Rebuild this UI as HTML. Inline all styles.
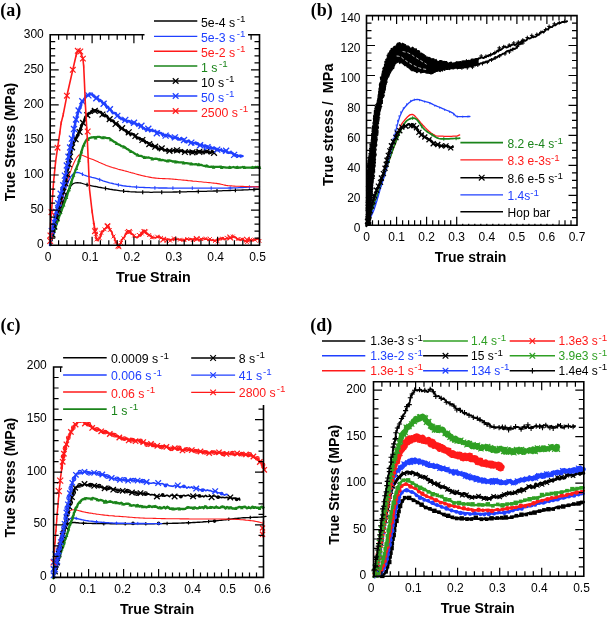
<!DOCTYPE html>
<html><head><meta charset="utf-8"><style>html,body{margin:0;padding:0;background:#fff;}svg{display:block;}</style></head><body>
<svg width="608" height="619" viewBox="0 0 608 619">
<rect width="608" height="619" fill="#fff"/>
<path d="M50.2 245.2 L50.4 244.4 L50.7 243.3 L51.1 242.1 L51.5 240.7 L51.9 239.2 L52.4 237.6 L52.8 236 L53.3 234.3 L53.8 232.6 L54.3 230.9 L54.8 229.2 L55.2 227.7 L55.6 226.2 L56 224.8 L56.5 223.3 L56.9 221.8 L57.3 220.3 L57.7 218.7 L58.1 217.2 L58.6 215.7 L59 214.2 L59.4 212.8 L59.8 211.4 L60.2 210 L60.7 208.7 L61.2 207.1 L61.8 205.5 L62.3 203.9 L62.9 202.4 L63.5 201 L64 199.6 L64.6 198.3 L65.1 197 L65.6 195.8 L66.1 194.7 L67 192.7 L67.9 190.9 L68.7 189.4 L69.5 188.1 L70.3 187 L71.4 185.4 L72.4 184.3 L73.6 183.5 L75.4 182.9 L77.4 182.7 L79.5 182.8 L81 183 L82.5 183.5 L84.1 184 L85.8 184.5 L87.1 184.8 L88.5 185.1 L89.9 185.4 L91.7 185.8 L94.2 186.3 L95.3 186.5 L96.5 186.7 L97.8 187 L99.3 187.3 L100.7 187.5 L102.3 187.8 L103.9 188.1 L105.5 188.4 L107.1 188.7 L108.7 189 L110.3 189.3 L111.9 189.5 L113.4 189.8 L114.9 190 L116.3 190.2 L117.8 190.4 L119.2 190.6 L120.7 190.8 L122.1 190.9 L123.6 191.1 L125 191.3 L126.6 191.4 L128.1 191.5 L129.7 191.7 L131.4 191.8 L133.1 191.9 L134.4 191.9 L135.8 192 L137.1 192.1 L138.5 192.1 L139.9 192.1 L141.3 192.2 L142.7 192.2 L144.2 192.2 L145.7 192.2 L147.2 192.2 L148.8 192.2 L150.4 192.3 L152 192.3 L153.7 192.2 L155.4 192.2 L157.2 192.2 L159 192.2 L160.3 192.2 L161.7 192.2 L163 192.2 L164.4 192.2 L165.9 192.2 L167.4 192.1 L168.9 192.1 L170.4 192.1 L171.9 192.1 L173.5 192 L175 192 L176.6 192 L178.2 191.9 L179.8 191.9 L181.4 191.9 L183 191.8 L184.6 191.8 L186.1 191.8 L187.7 191.7 L189.3 191.7 L190.8 191.7 L192.3 191.6 L193.8 191.6 L195.3 191.6 L196.7 191.5 L198.3 191.5 L199.9 191.4 L201.5 191.4 L203.1 191.4 L204.7 191.3 L206.3 191.3 L207.8 191.2 L209.4 191.2 L210.9 191.1 L212.5 191.1 L214 191 L215.5 191 L217 190.9 L218.5 190.9 L220 190.8 L221.5 190.8 L223 190.7 L224.4 190.7 L225.9 190.6 L227.3 190.6 L228.8 190.5 L230.2 190.5 L231.9 190.4 L233.6 190.3 L235.4 190.3 L237.2 190.2 L239 190.1 L240.8 190.1 L242.6 190 L244.3 189.9 L246.1 189.8 L247.8 189.8 L249.4 189.7 L251 189.6 L252.6 189.6 L254 189.5 L255.3 189.5 L256.6 189.4 L257.7 189.4 L258.7 189.3 L259.5 189.3" fill="none" stroke="#000000" stroke-width="1.3" stroke-linejoin="round" stroke-linecap="round"/>
<path d="M56.9 219.8L56.9 223.8" stroke="#000000" stroke-width="1.2"/>
<path d="M62.3 201.9L62.3 205.9" stroke="#000000" stroke-width="1.2"/>
<path d="M70.3 185L70.3 189" stroke="#000000" stroke-width="1.2"/>
<path d="M87.1 182.8L87.1 186.8" stroke="#000000" stroke-width="1.2"/>
<path d="M105.5 186.4L105.5 190.4" stroke="#000000" stroke-width="1.2"/>
<path d="M123.6 189.1L123.6 193.1" stroke="#000000" stroke-width="1.2"/>
<path d="M142.7 190.2L142.7 194.2" stroke="#000000" stroke-width="1.2"/>
<path d="M161.7 190.2L161.7 194.2" stroke="#000000" stroke-width="1.2"/>
<path d="M179.8 189.9L179.8 193.9" stroke="#000000" stroke-width="1.2"/>
<path d="M198.3 189.5L198.3 193.5" stroke="#000000" stroke-width="1.2"/>
<path d="M217 188.9L217 192.9" stroke="#000000" stroke-width="1.2"/>
<path d="M235.4 188.3L235.4 192.3" stroke="#000000" stroke-width="1.2"/>
<path d="M254 187.5L254 191.5" stroke="#000000" stroke-width="1.2"/>
<path d="M50.2 245.2 L50.4 244.3 L50.7 243.2 L51.1 242 L51.5 240.6 L51.9 239 L52.4 237.4 L52.8 235.7 L53.3 233.9 L53.8 232.1 L54.3 230.4 L54.8 228.6 L55.2 227 L55.6 225.5 L56 224.1 L56.4 222.6 L56.7 221.1 L57.1 219.6 L57.5 218 L57.9 216.5 L58.3 214.9 L58.7 213.4 L59.1 211.8 L59.5 210.3 L59.9 208.8 L60.3 207.4 L60.7 205.9 L61.1 204.4 L61.5 202.8 L61.9 201.2 L62.4 199.6 L62.8 198.1 L63.2 196.5 L63.6 195 L64 193.5 L64.5 192.1 L64.9 190.7 L65.3 189.4 L65.7 188.1 L66.1 187 L66.9 185 L67.6 183.1 L68.3 181.5 L69.1 180 L69.8 178.7 L70.5 177.5 L71.1 176.4 L72.6 174.5 L74 173.3 L75.3 172.6 L77.3 172.3 L79.5 172.9 L80.9 173.5 L82.4 174.2 L84 175 L85.8 175.7 L87.2 176.2 L88.6 176.5 L90.2 176.8 L92 177.3 L94.2 177.8 L95.4 178.2 L96.8 178.7 L98.2 179.2 L99.7 179.7 L101.3 180.2 L103 180.8 L104.6 181.3 L106.3 181.8 L108 182.3 L109.6 182.8 L111.1 183.1 L112.6 183.5 L114 183.9 L115.5 184.2 L116.9 184.5 L118.4 184.9 L120 185.2 L121.6 185.5 L123.4 185.8 L125.2 186 L127.2 186.3 L128.5 186.4 L129.8 186.5 L131.1 186.7 L132.4 186.8 L133.8 186.9 L135.2 187 L136.6 187.1 L138 187.2 L139.5 187.3 L141 187.4 L142.6 187.4 L144.2 187.5 L145.9 187.6 L147.6 187.6 L149.3 187.7 L151.1 187.8 L152.9 187.8 L154.9 187.9 L156.2 187.9 L157.5 187.9 L158.9 188 L160.4 188 L161.8 188 L163.4 188 L164.9 188 L166.5 188 L168.1 188.1 L169.7 188.1 L171.3 188.1 L172.9 188.1 L174.6 188.1 L176.2 188.1 L177.9 188.1 L179.6 188.1 L181.2 188.1 L182.8 188.1 L184.5 188.1 L186.1 188.1 L187.7 188.1 L189.3 188.1 L190.8 188.1 L192.3 188.1 L193.8 188.1 L195.3 188.1 L196.7 188.1 L198.4 188.1 L200.1 188.1 L201.7 188.1 L203.4 188.1 L205 188.1 L206.6 188.1 L208.1 188.1 L209.7 188.1 L211.2 188.1 L212.7 188.2 L214.2 188.2 L215.7 188.2 L217.2 188.2 L218.7 188.2 L220.1 188.1 L221.6 188.1 L223 188.1 L224.5 188.1 L225.9 188.1 L227.3 188.1 L228.8 188 L230.2 188 L231.9 188 L233.6 187.9 L235.4 187.8 L237.2 187.8 L239 187.7 L240.8 187.6 L242.6 187.5 L244.3 187.4 L246.1 187.3 L247.8 187.2 L249.4 187.1 L251 187 L252.6 186.9 L254 186.9 L255.3 186.8 L256.6 186.7 L257.7 186.6 L258.7 186.6 L259.5 186.5" fill="none" stroke="#2040ff" stroke-width="1.3" stroke-linejoin="round" stroke-linecap="round"/>
<path d="M57.5 216.2L57.5 219.8" stroke="#2040ff" stroke-width="1.0"/>
<path d="M62.4 197.8L62.4 201.4" stroke="#2040ff" stroke-width="1.0"/>
<path d="M68.3 179.7L68.3 183.3" stroke="#2040ff" stroke-width="1.0"/>
<path d="M82.4 172.4L82.4 176" stroke="#2040ff" stroke-width="1.0"/>
<path d="M99.7 177.9L99.7 181.5" stroke="#2040ff" stroke-width="1.0"/>
<path d="M118.4 183.1L118.4 186.7" stroke="#2040ff" stroke-width="1.0"/>
<path d="M136.6 185.3L136.6 188.9" stroke="#2040ff" stroke-width="1.0"/>
<path d="M154.9 186.1L154.9 189.7" stroke="#2040ff" stroke-width="1.0"/>
<path d="M172.9 186.3L172.9 189.9" stroke="#2040ff" stroke-width="1.0"/>
<path d="M192.3 186.3L192.3 189.9" stroke="#2040ff" stroke-width="1.0"/>
<path d="M211.2 186.3L211.2 189.9" stroke="#2040ff" stroke-width="1.0"/>
<path d="M230.2 186.2L230.2 189.8" stroke="#2040ff" stroke-width="1.0"/>
<path d="M249.4 185.3L249.4 188.9" stroke="#2040ff" stroke-width="1.0"/>
<path d="M50.2 245.2 L50.4 244.4 L50.7 243.4 L51 242.2 L51.4 240.9 L51.7 239.4 L52.2 237.9 L52.6 236.3 L53 234.6 L53.5 232.9 L53.9 231.2 L54.4 229.5 L54.8 227.9 L55.2 226.3 L55.6 224.8 L56 223.3 L56.3 221.8 L56.7 220.3 L57.1 218.7 L57.5 217.2 L57.9 215.6 L58.3 214 L58.6 212.4 L59 210.9 L59.4 209.3 L59.8 207.7 L60.2 206.1 L60.7 204.5 L61.1 203 L61.5 201.5 L61.9 200 L62.3 198.4 L62.7 196.9 L63.1 195.3 L63.5 193.8 L64 192.2 L64.4 190.7 L64.8 189.2 L65.2 187.7 L65.7 186.2 L66.1 184.8 L66.5 183.4 L66.9 182 L67.5 180.4 L68 178.7 L68.6 177.1 L69.1 175.5 L69.7 173.9 L70.2 172.4 L70.8 170.9 L71.3 169.4 L71.8 168.1 L72.3 166.8 L72.8 165.6 L73.2 164.5 L74.2 162.2 L75.1 160.4 L75.9 159 L76.7 157.8 L77.4 156.8 L78.8 155.1 L80.3 154.7 L81.8 155 L83.5 155.8 L85.8 156.8 L87 157.3 L88.3 157.8 L89.8 158.4 L91.3 159 L92.9 159.6 L94.6 160.3 L96.2 161 L97.6 161.6 L98.9 162.2 L100.3 162.8 L101.8 163.4 L103.2 164.1 L104.8 164.7 L106.3 165.4 L108 166 L109.6 166.6 L111 167 L112.4 167.5 L113.8 167.9 L115.3 168.3 L116.8 168.7 L118.3 169.2 L119.8 169.6 L121.4 170 L122.9 170.4 L124.4 170.8 L125.8 171.1 L127.2 171.5 L128.9 172 L130.5 172.4 L132.1 172.9 L133.7 173.3 L135.3 173.8 L136.8 174.2 L138.3 174.6 L139.8 175 L141.3 175.4 L142.7 175.7 L144.4 176.1 L146.1 176.5 L147.6 176.8 L149.2 177.1 L150.7 177.4 L152.3 177.7 L153.9 177.9 L155.7 178.1 L157.1 178.3 L158.5 178.4 L160 178.5 L161.4 178.5 L162.9 178.6 L164.5 178.6 L166.1 178.7 L167.8 178.8 L169.7 178.9 L171.6 179 L172.9 179.1 L174.2 179.3 L175.7 179.4 L177.1 179.5 L178.6 179.7 L180.2 179.8 L181.8 180 L183.4 180.1 L185 180.3 L186.6 180.4 L188.2 180.6 L189.8 180.7 L191.4 180.9 L192.9 181.1 L194.4 181.2 L195.9 181.3 L197.5 181.5 L199.2 181.7 L200.9 181.8 L202.5 182 L204.2 182.2 L205.9 182.3 L207.5 182.5 L209.1 182.6 L210.6 182.8 L212.2 183 L213.6 183.1 L215 183.3 L216.4 183.4 L217.6 183.6 L219.5 183.9 L221 184.2 L222.3 184.5 L223.4 184.8 L224.7 185.1 L226.1 185.4 L227.9 185.6 L230.2 185.8 L231.4 185.9 L232.7 186 L234.2 186.1 L235.8 186.2 L237.5 186.2 L239.2 186.3 L241 186.4 L242.9 186.4 L244.7 186.5 L246.6 186.6 L248.4 186.6 L250.1 186.7 L251.8 186.7 L253.5 186.8 L255 186.8 L256.3 186.9 L257.6 186.9 L258.6 186.9 L259.5 187" fill="none" stroke="#ff1a1a" stroke-width="1.1" stroke-linejoin="round" stroke-linecap="round"/>
<path d="M50.2 244.9 L50.5 244 L50.7 243.1 L50.9 241.8 L51.5 239.8 L52.2 237.2 L52.6 236.6 L52.9 234.9 L53.5 234.2 L53.9 232.3 L54.5 230.6 L55 229.2 L55.3 227.5 L55.9 226.4 L56.4 224.6 L57.1 222.9 L57.6 221.1 L58 219.7 L58.6 218.5 L59.1 217 L59.7 215.2 L60.4 213.9 L60.8 212.3 L61.5 211 L62.1 209 L62.7 207.4 L63.2 206.4 L63.7 204.7 L64.2 203.3 L64.9 201.8 L65.5 200 L66 198.7 L66.5 197.1 L67.1 195.9 L67.5 194.1 L67.9 192.6 L68.5 191.4 L69.1 189.4 L69.4 188.3 L69.8 186.8 L70.2 185.3 L70.8 184 L71.3 181.9 L71.8 181 L72.2 179.2 L72.7 178.2 L73.2 176.8 L73.6 175 L74.1 173.9 L74.8 172.1 L75.2 170.9 L75.7 169.7 L76.4 168.1 L77 166.5 L77.8 164.6 L78.3 163.4 L78.7 162 L79.1 160.1 L79.7 159 L80.1 157.4 L80.5 155.3 L80.9 153.8 L81.4 151.6 L82 150 L82.5 148.3 L82.9 146.9 L83.5 145.6 L83.9 144.8 L84.6 143.2 L85.7 141.1 L86.7 139.5 L87.9 139.3 L89.3 138.3 L91.1 137.5 L92.5 137.4 L94.1 137.1 L95.6 137.6 L97.5 136.9 L99.3 136.8 L101.2 137.6 L103 137.5 L104.6 137.3 L106.1 137.8 L107.6 138.1 L109.3 138.2 L110.8 139.5 L112 140.2 L113.1 141.1 L114.1 141.9 L115.5 142.4 L116.7 143.3 L118.2 144.4 L119.8 144.9 L121.3 146.1 L122.7 146.3 L123.9 146.8 L125.1 147.4 L126.8 148.9 L128.1 149.4 L129.4 150.5 L130.9 151.3 L132.2 152 L133.4 152.5 L134.5 153.5 L135.9 154.3 L137.5 154.7 L138.9 155.8 L140.7 155.8 L141.8 156.2 L143.3 157 L144.5 157.3 L146.1 157.5 L147.5 157.7 L148.9 157.5 L150.7 158.2 L152.3 158.7 L153.9 158.9 L155.8 158.7 L157 158.9 L158.4 159.4 L159.9 159.5 L161.4 160.1 L163 160 L164.6 160.5 L166.2 160.8 L167.8 160.7 L169.4 160.5 L171 160.8 L172.5 161.5 L174.1 161.5 L175.8 161.7 L177.3 161.9 L178.9 162.3 L180.3 162.4 L181.8 162.3 L183.5 162.7 L185 163.1 L186.6 163.1 L188 163.3 L189.6 163.6 L191.1 163.7 L192.7 164.2 L194.3 164.4 L196 164.1 L197.3 164.8 L198.8 164.4 L200 164.9 L201.3 164.9 L202.6 165.5 L204.1 165.9 L205.3 166 L206.9 165.7 L208.4 166.6 L209.8 166.8 L211.6 166.6 L213.6 167 L215.4 166.9 L217.6 166.9 L218.8 166.9 L220.3 166.7 L221.7 167.1 L223 167.1 L224.8 167.3 L226.3 167.7 L228.2 167.7 L229.8 167.1 L231.5 167.5 L233.4 167 L235.3 167.7 L237.2 167.1 L238.9 167.7 L240.9 167.5 L242.6 167 L244.5 167.3 L246.1 167.7 L247.9 167.6 L249.4 167.6 L251 167.6 L252.6 167.2 L254.1 167.7 L255.3 167 L256.6 167.1 L257.6 167 L258.5 167.1 L259.5 167.2" fill="none" stroke="#1a841a" stroke-width="2.3" stroke-linejoin="round" stroke-linecap="round"/>
<path d="M52.9 233.1L54.7 236.7L51.1 236.7Z" fill="#1a841a"/>
<path d="M55.3 225.7L57.1 229.3L53.5 229.3Z" fill="#1a841a"/>
<path d="M58 217.9L59.8 221.5L56.2 221.5Z" fill="#1a841a"/>
<path d="M60.8 210.5L62.6 214.1L59 214.1Z" fill="#1a841a"/>
<path d="M63.7 202.9L65.5 206.5L61.9 206.5Z" fill="#1a841a"/>
<path d="M66.5 195.3L68.3 198.9L64.7 198.9Z" fill="#1a841a"/>
<path d="M69.1 187.6L70.9 191.2L67.3 191.2Z" fill="#1a841a"/>
<path d="M71.3 180.1L73.1 183.7L69.5 183.7Z" fill="#1a841a"/>
<path d="M73.6 173.2L75.4 176.8L71.8 176.8Z" fill="#1a841a"/>
<path d="M76.4 166.3L78.2 169.9L74.6 169.9Z" fill="#1a841a"/>
<path d="M79.1 158.3L80.9 161.9L77.3 161.9Z" fill="#1a841a"/>
<path d="M81.4 149.8L83.2 153.4L79.6 153.4Z" fill="#1a841a"/>
<path d="M83.9 143L85.7 146.6L82.1 146.6Z" fill="#1a841a"/>
<path d="M87.9 137.5L89.7 141.1L86.1 141.1Z" fill="#1a841a"/>
<path d="M95.6 135.8L97.4 139.4L93.8 139.4Z" fill="#1a841a"/>
<path d="M103 135.7L104.8 139.3L101.2 139.3Z" fill="#1a841a"/>
<path d="M110.8 137.7L112.6 141.3L109 141.3Z" fill="#1a841a"/>
<path d="M116.7 141.5L118.5 145.1L114.9 145.1Z" fill="#1a841a"/>
<path d="M123.9 145L125.7 148.6L122.1 148.6Z" fill="#1a841a"/>
<path d="M130.9 149.5L132.7 153.1L129.1 153.1Z" fill="#1a841a"/>
<path d="M137.5 152.9L139.3 156.5L135.7 156.5Z" fill="#1a841a"/>
<path d="M144.5 155.5L146.3 159.1L142.7 159.1Z" fill="#1a841a"/>
<path d="M152.3 156.9L154.1 160.5L150.5 160.5Z" fill="#1a841a"/>
<path d="M159.9 157.7L161.7 161.3L158.1 161.3Z" fill="#1a841a"/>
<path d="M167.8 158.9L169.6 162.5L166 162.5Z" fill="#1a841a"/>
<path d="M175.8 159.9L177.6 163.5L174 163.5Z" fill="#1a841a"/>
<path d="M183.5 160.9L185.3 164.5L181.7 164.5Z" fill="#1a841a"/>
<path d="M191.1 161.9L192.9 165.5L189.3 165.5Z" fill="#1a841a"/>
<path d="M198.8 162.6L200.6 166.2L197 166.2Z" fill="#1a841a"/>
<path d="M206.9 163.9L208.7 167.5L205.1 167.5Z" fill="#1a841a"/>
<path d="M213.6 165.2L215.4 168.8L211.8 168.8Z" fill="#1a841a"/>
<path d="M221.7 165.3L223.5 168.9L219.9 168.9Z" fill="#1a841a"/>
<path d="M229.8 165.3L231.6 168.9L228 168.9Z" fill="#1a841a"/>
<path d="M237.2 165.3L239 168.9L235.4 168.9Z" fill="#1a841a"/>
<path d="M244.5 165.5L246.3 169.1L242.7 169.1Z" fill="#1a841a"/>
<path d="M252.6 165.4L254.4 169L250.8 169Z" fill="#1a841a"/>
<path d="M259.5 165.4L261.3 169L257.7 169Z" fill="#1a841a"/>
<path d="M50.4 244.8 L50.4 243.6 L50.5 242.1 L50.8 240.7 L51.4 240.2 L51.4 238.4 L52.2 235.9 L52.5 234.6 L52.7 233.5 L53.1 231 L53.7 230 L53.8 228.4 L54.3 226.6 L54.4 224.6 L54.6 222.7 L54.9 222.5 L55.4 219.8 L55.6 219.7 L56.5 217.8 L56.5 215.4 L56.9 214.2 L57.2 212.6 L57.6 212.1 L58.5 209.7 L58.4 208.9 L58.8 206.2 L59.1 204.8 L59.8 203.5 L60 201.9 L60.4 199.9 L60.8 198.6 L61.3 196.3 L61.9 195.1 L62.5 194.1 L63 192.8 L63.4 191.7 L63.6 189 L64.4 187.2 L64.6 186.6 L64.6 185.5 L65.5 183.5 L65.7 182.3 L65.7 180.2 L66.2 179.2 L66.7 177.7 L66.9 176.3 L67.2 174.3 L67.2 171.5 L67.5 170.6 L67.7 170.1 L68.3 168.3 L68.6 166.9 L68.8 164.2 L69.2 164.3 L69.4 162.2 L69.8 159.5 L70.1 158.3 L70 156.7 L70.7 155 L70.9 155 L71.1 152.3 L71.4 151.4 L71.8 149.9 L72.1 147.4 L72.2 146.5 L73.1 144.9 L73.6 142.8 L73.9 141.9 L74.9 141.3 L75.6 139.2 L76.2 138.3 L76.8 136.3 L77.6 135.1 L78.4 135.1 L78.5 132.5 L79.6 132 L80.1 129.1 L80.6 128.9 L81.2 126.8 L81.8 125.3 L83 122.9 L83.5 122.2 L84.1 121.1 L84.3 120.2 L85.3 117.1 L85.9 116.8 L87.3 115.1 L88.3 113.8 L89.8 113.4 L91 112.1 L93.1 110 L94.8 110.9 L96 110.2 L97 110.7 L98.7 111.6 L99.7 112 L101 112 L102.4 114.5 L104 115.6 L105.5 115.3 L107.1 116.2 L108.2 118.5 L109.7 119.1 L110.7 120.3 L112.1 120.6 L113.1 120.6 L114.4 122.5 L115.6 124 L116.6 123.8 L118.2 125.1 L119.2 126.5 L120.4 128.3 L122.1 128.2 L123.2 129.2 L124.5 130.2 L125.6 130.6 L127.1 132.9 L128.7 132.3 L130.3 134.6 L131.5 133.6 L132.7 134.2 L134.2 135 L135.4 136 L136.9 137.9 L138.3 137.7 L139.6 138.8 L141.1 139.3 L142.4 140 L144.3 140.5 L145.4 142.3 L146.9 142.2 L147.9 143 L149.3 144.1 L150.9 145.6 L152.4 144.6 L153.3 146.6 L155.2 146.7 L156.4 146.3 L157.7 148.7 L159.4 149 L160.8 148.2 L161.7 148.4 L163.6 149.8 L165.4 150.2 L166.7 150.5 L168.1 150.3 L169.5 150.9 L171.3 151.3 L173.4 150.3 L174.4 150.3 L176 151.4 L177 150.3 L178.5 151.4 L179.8 150.8 L181.4 150.5 L182.8 151.5 L184.9 152 L186.6 151.8 L188.2 151.4 L189.9 152.3 L190.9 151 L192.5 152.3 L194.1 151.5 L196 152.8 L197.4 151 L199.3 151.8 L201.3 151.4 L203.1 152.4 L204.7 151.3 L206.6 151.5 L208.1 151.4 L209.2 152.4 L210.6 152.8 L212 151.3 L212.9 151.7 L214 152.8" fill="none" stroke="#000000" stroke-width="2.5" stroke-linejoin="round" stroke-linecap="round"/>
<path d="M49.6 231.7L55.4 237.5M49.6 237.5L55.4 231.7" stroke="#000000" stroke-width="1.3" fill="none"/>
<path d="M51.4 223.7L57.2 229.5M51.4 229.5L57.2 223.7" stroke="#000000" stroke-width="1.3" fill="none"/>
<path d="M53.6 214.9L59.4 220.7M53.6 220.7L59.4 214.9" stroke="#000000" stroke-width="1.3" fill="none"/>
<path d="M55.6 206.8L61.4 212.6M55.6 212.6L61.4 206.8" stroke="#000000" stroke-width="1.3" fill="none"/>
<path d="M57.5 197L63.3 202.8M57.5 202.8L63.3 197" stroke="#000000" stroke-width="1.3" fill="none"/>
<path d="M60.5 188.8L66.3 194.6M60.5 194.6L66.3 188.8" stroke="#000000" stroke-width="1.3" fill="none"/>
<path d="M62.6 180.6L68.4 186.4M62.6 186.4L68.4 180.6" stroke="#000000" stroke-width="1.3" fill="none"/>
<path d="M64.3 171.4L70.1 177.2M64.3 177.2L70.1 171.4" stroke="#000000" stroke-width="1.3" fill="none"/>
<path d="M65.9 161.3L71.7 167.1M65.9 167.1L71.7 161.3" stroke="#000000" stroke-width="1.3" fill="none"/>
<path d="M67.1 153.8L72.9 159.6M67.1 159.6L72.9 153.8" stroke="#000000" stroke-width="1.3" fill="none"/>
<path d="M69.2 144.5L75 150.3M69.2 150.3L75 144.5" stroke="#000000" stroke-width="1.3" fill="none"/>
<path d="M72.7 136.3L78.5 142.1M72.7 142.1L78.5 136.3" stroke="#000000" stroke-width="1.3" fill="none"/>
<path d="M76.7 129.1L82.5 134.9M76.7 134.9L82.5 129.1" stroke="#000000" stroke-width="1.3" fill="none"/>
<path d="M80.1 120L85.9 125.8M80.1 125.8L85.9 120" stroke="#000000" stroke-width="1.3" fill="none"/>
<path d="M84.4 112.2L90.2 118M84.4 118L90.2 112.2" stroke="#000000" stroke-width="1.3" fill="none"/>
<path d="M91.9 108L97.7 113.8M91.9 113.8L97.7 108" stroke="#000000" stroke-width="1.3" fill="none"/>
<path d="M99.5 111.6L105.3 117.4M99.5 117.4L105.3 111.6" stroke="#000000" stroke-width="1.3" fill="none"/>
<path d="M106.8 116.2L112.6 122M106.8 122L112.6 116.2" stroke="#000000" stroke-width="1.3" fill="none"/>
<path d="M112.7 121.1L118.5 126.9M112.7 126.9L118.5 121.1" stroke="#000000" stroke-width="1.3" fill="none"/>
<path d="M119.2 125.3L125 131.1M119.2 131.1L125 125.3" stroke="#000000" stroke-width="1.3" fill="none"/>
<path d="M125.8 129.4L131.6 135.2M125.8 135.2L131.6 129.4" stroke="#000000" stroke-width="1.3" fill="none"/>
<path d="M132.5 133.1L138.3 138.9M132.5 138.9L138.3 133.1" stroke="#000000" stroke-width="1.3" fill="none"/>
<path d="M139.5 137.1L145.3 142.9M139.5 142.9L145.3 137.1" stroke="#000000" stroke-width="1.3" fill="none"/>
<path d="M146.4 141.2L152.2 147M146.4 147L152.2 141.2" stroke="#000000" stroke-width="1.3" fill="none"/>
<path d="M152.3 143.8L158.1 149.6M152.3 149.6L158.1 143.8" stroke="#000000" stroke-width="1.3" fill="none"/>
<path d="M158.8 145.5L164.6 151.3M158.8 151.3L164.6 145.5" stroke="#000000" stroke-width="1.3" fill="none"/>
<path d="M166.6 148L172.4 153.8M166.6 153.8L172.4 148" stroke="#000000" stroke-width="1.3" fill="none"/>
<path d="M174.1 147.4L179.9 153.2M174.1 153.2L179.9 147.4" stroke="#000000" stroke-width="1.3" fill="none"/>
<path d="M182 149.1L187.8 154.9M182 154.9L187.8 149.1" stroke="#000000" stroke-width="1.3" fill="none"/>
<path d="M189.6 149.4L195.4 155.2M189.6 155.2L195.4 149.4" stroke="#000000" stroke-width="1.3" fill="none"/>
<path d="M196.4 148.9L202.2 154.7M196.4 154.7L202.2 148.9" stroke="#000000" stroke-width="1.3" fill="none"/>
<path d="M203.7 148.6L209.5 154.4M203.7 154.4L209.5 148.6" stroke="#000000" stroke-width="1.3" fill="none"/>
<path d="M211.1 149.9L216.9 155.7M211.1 155.7L216.9 149.9" stroke="#000000" stroke-width="1.3" fill="none"/>
<path d="M50.8 238.8L50.8 242.6" stroke="#000000" stroke-width="1.0"/>
<path d="M52.2 234L52.2 237.8" stroke="#000000" stroke-width="1.0"/>
<path d="M53.1 229.1L53.1 232.9" stroke="#000000" stroke-width="1.0"/>
<path d="M54.3 224.7L54.3 228.5" stroke="#000000" stroke-width="1.0"/>
<path d="M54.6 220.8L54.6 224.6" stroke="#000000" stroke-width="1.0"/>
<path d="M55.4 217.9L55.4 221.7" stroke="#000000" stroke-width="1.0"/>
<path d="M56.5 213.5L56.5 217.3" stroke="#000000" stroke-width="1.0"/>
<path d="M57.6 210.2L57.6 214" stroke="#000000" stroke-width="1.0"/>
<path d="M58.4 207L58.4 210.8" stroke="#000000" stroke-width="1.0"/>
<path d="M59.1 202.9L59.1 206.7" stroke="#000000" stroke-width="1.0"/>
<path d="M60 200L60 203.8" stroke="#000000" stroke-width="1.0"/>
<path d="M60.8 196.7L60.8 200.5" stroke="#000000" stroke-width="1.0"/>
<path d="M61.9 193.2L61.9 197" stroke="#000000" stroke-width="1.0"/>
<path d="M63.4 189.8L63.4 193.6" stroke="#000000" stroke-width="1.0"/>
<path d="M64.4 185.3L64.4 189.1" stroke="#000000" stroke-width="1.0"/>
<path d="M65.5 181.6L65.5 185.4" stroke="#000000" stroke-width="1.0"/>
<path d="M65.7 178.3L65.7 182.1" stroke="#000000" stroke-width="1.0"/>
<path d="M66.9 174.4L66.9 178.2" stroke="#000000" stroke-width="1.0"/>
<path d="M67.2 169.6L67.2 173.4" stroke="#000000" stroke-width="1.0"/>
<path d="M68.3 166.4L68.3 170.2" stroke="#000000" stroke-width="1.0"/>
<path d="M68.8 162.3L68.8 166.1" stroke="#000000" stroke-width="1.0"/>
<path d="M69.8 157.6L69.8 161.4" stroke="#000000" stroke-width="1.0"/>
<path d="M70.7 153.1L70.7 156.9" stroke="#000000" stroke-width="1.0"/>
<path d="M71.4 149.5L71.4 153.3" stroke="#000000" stroke-width="1.0"/>
<path d="M72.1 145.5L72.1 149.3" stroke="#000000" stroke-width="1.0"/>
<path d="M73.6 140.9L73.6 144.7" stroke="#000000" stroke-width="1.0"/>
<path d="M75.6 137.3L75.6 141.1" stroke="#000000" stroke-width="1.0"/>
<path d="M76.8 134.4L76.8 138.2" stroke="#000000" stroke-width="1.0"/>
<path d="M78.5 130.6L78.5 134.4" stroke="#000000" stroke-width="1.0"/>
<path d="M80.1 127.2L80.1 131" stroke="#000000" stroke-width="1.0"/>
<path d="M81.8 123.4L81.8 127.2" stroke="#000000" stroke-width="1.0"/>
<path d="M83.5 120.3L83.5 124.1" stroke="#000000" stroke-width="1.0"/>
<path d="M85.3 115.2L85.3 119" stroke="#000000" stroke-width="1.0"/>
<path d="M88.3 111.9L88.3 115.7" stroke="#000000" stroke-width="1.0"/>
<path d="M91 110.2L91 114" stroke="#000000" stroke-width="1.0"/>
<path d="M94.8 109L94.8 112.8" stroke="#000000" stroke-width="1.0"/>
<path d="M98.7 109.7L98.7 113.5" stroke="#000000" stroke-width="1.0"/>
<path d="M102.4 112.6L102.4 116.4" stroke="#000000" stroke-width="1.0"/>
<path d="M105.5 113.4L105.5 117.2" stroke="#000000" stroke-width="1.0"/>
<path d="M108.2 116.6L108.2 120.4" stroke="#000000" stroke-width="1.0"/>
<path d="M110.7 118.4L110.7 122.2" stroke="#000000" stroke-width="1.0"/>
<path d="M114.4 120.6L114.4 124.4" stroke="#000000" stroke-width="1.0"/>
<path d="M118.2 123.2L118.2 127" stroke="#000000" stroke-width="1.0"/>
<path d="M120.4 126.4L120.4 130.2" stroke="#000000" stroke-width="1.0"/>
<path d="M123.2 127.3L123.2 131.1" stroke="#000000" stroke-width="1.0"/>
<path d="M127.1 131L127.1 134.8" stroke="#000000" stroke-width="1.0"/>
<path d="M130.3 132.7L130.3 136.5" stroke="#000000" stroke-width="1.0"/>
<path d="M134.2 133.1L134.2 136.9" stroke="#000000" stroke-width="1.0"/>
<path d="M136.9 136L136.9 139.8" stroke="#000000" stroke-width="1.0"/>
<path d="M139.6 136.9L139.6 140.7" stroke="#000000" stroke-width="1.0"/>
<path d="M142.4 138.1L142.4 141.9" stroke="#000000" stroke-width="1.0"/>
<path d="M145.4 140.4L145.4 144.2" stroke="#000000" stroke-width="1.0"/>
<path d="M149.3 142.2L149.3 146" stroke="#000000" stroke-width="1.0"/>
<path d="M152.4 142.7L152.4 146.5" stroke="#000000" stroke-width="1.0"/>
<path d="M155.2 144.8L155.2 148.6" stroke="#000000" stroke-width="1.0"/>
<path d="M157.7 146.8L157.7 150.6" stroke="#000000" stroke-width="1.0"/>
<path d="M160.8 146.3L160.8 150.1" stroke="#000000" stroke-width="1.0"/>
<path d="M163.6 147.9L163.6 151.7" stroke="#000000" stroke-width="1.0"/>
<path d="M166.7 148.6L166.7 152.4" stroke="#000000" stroke-width="1.0"/>
<path d="M171.3 149.4L171.3 153.2" stroke="#000000" stroke-width="1.0"/>
<path d="M174.4 148.4L174.4 152.2" stroke="#000000" stroke-width="1.0"/>
<path d="M177 148.4L177 152.2" stroke="#000000" stroke-width="1.0"/>
<path d="M179.8 148.9L179.8 152.7" stroke="#000000" stroke-width="1.0"/>
<path d="M182.8 149.6L182.8 153.4" stroke="#000000" stroke-width="1.0"/>
<path d="M186.6 149.9L186.6 153.7" stroke="#000000" stroke-width="1.0"/>
<path d="M189.9 150.4L189.9 154.2" stroke="#000000" stroke-width="1.0"/>
<path d="M192.5 150.4L192.5 154.2" stroke="#000000" stroke-width="1.0"/>
<path d="M196 150.9L196 154.7" stroke="#000000" stroke-width="1.0"/>
<path d="M199.3 149.9L199.3 153.7" stroke="#000000" stroke-width="1.0"/>
<path d="M203.1 150.5L203.1 154.3" stroke="#000000" stroke-width="1.0"/>
<path d="M206.6 149.6L206.6 153.4" stroke="#000000" stroke-width="1.0"/>
<path d="M209.2 150.5L209.2 154.3" stroke="#000000" stroke-width="1.0"/>
<path d="M212 149.4L212 153.2" stroke="#000000" stroke-width="1.0"/>
<path d="M50 245 L50.1 245.1 L50.2 242 L50.2 241.1 L50.9 240.3 L51 238.5 L51.4 235.1 L51.3 234.1 L51.8 231 L52.1 230.3 L52.2 228.7 L52.4 226.6 L52.8 225.7 L53.6 223.6 L54 222.1 L54 221.7 L54.7 219.2 L54.6 217.6 L55.2 216.8 L55.5 214.1 L56.2 211.9 L56.3 212 L56.9 209 L56.8 207.5 L57.7 206.3 L58 206 L58.1 203.2 L58.9 202.3 L58.8 201 L59.2 198.6 L59.4 198.1 L60.3 196.3 L60.7 193.7 L60.6 193.2 L61.5 192.5 L61.5 189.6 L61.9 188.7 L62.6 186.7 L62.9 186.5 L63.3 185.3 L63.5 183 L63.7 181.6 L64.4 179.4 L64.4 178.9 L64.9 175.6 L65 175.3 L65.4 174.7 L66.1 173.3 L66 169.9 L66.2 169.1 L66.8 167.3 L66.8 165.5 L67.4 164.3 L67.8 162.9 L68 159.7 L68.4 158.3 L68.5 156.7 L68.9 154.7 L68.9 153.2 L69.1 152.9 L69.7 150.3 L69.8 150.3 L70.1 147.5 L70.5 147.3 L71.1 143.7 L71.2 143.3 L71.7 142.2 L71.6 139.8 L71.9 138.6 L72.7 138.2 L73.1 136.2 L73.3 135 L73.2 134.3 L73.9 131.5 L74 131 L74 129 L74.3 127.1 L74.6 126.4 L75.2 124 L75.1 122.8 L75.8 121.1 L76 119.5 L76.7 118.6 L76.7 116.2 L77.3 115.5 L77.9 113 L78 112.7 L78.6 110.5 L79 110.5 L79.4 108.5 L80.1 106.3 L81.1 105.7 L81.4 102.7 L82.3 101.3 L82.6 101.5 L83.8 99.8 L84.8 98.6 L85.9 96 L86.7 95.8 L88.4 95.4 L89.3 94.1 L91.6 94.4 L92.4 94.4 L93.7 96.4 L94.6 96.4 L96.3 98.3 L97.3 97.7 L99.1 100.6 L100.3 100 L102.1 102 L103.6 103.7 L104.6 103.6 L105.6 104.7 L106.5 107 L107.8 106.7 L108.6 108.2 L109.9 109.2 L110.9 110.1 L112.4 112.5 L113.2 112.9 L114.9 112.9 L116.2 114.1 L117.3 115.9 L118.5 116.3 L119.6 117.7 L121 118.6 L122.4 118.9 L123.6 120 L125.3 119.9 L126.9 121.5 L128.2 120.9 L129.6 121.3 L130.9 122.5 L132.3 123 L134 122.7 L135.5 123.3 L136.9 125.2 L138.1 124.3 L139.6 125.6 L141.4 125.7 L142.7 128 L144.1 128.3 L145.1 129.2 L146.7 129.7 L148.3 128.7 L149.7 130.8 L150.7 130.1 L152.6 130.3 L154.3 131.1 L155.6 131.3 L156.8 133.3 L158.1 132.4 L159.7 132.9 L161 133.1 L162.5 135 L164.4 135.4 L165.6 135.6 L167.1 135.5 L168.9 135.6 L170.6 136.4 L171.9 137.5 L173 138.1 L174.9 137.4 L176.5 137.6 L178.2 138.7 L179.3 139.6 L180.8 138.9 L182.5 139.1 L184 140 L185.4 141.9 L186.8 141.8 L188.2 140.9 L189.5 141.6 L191.3 142.6 L192.8 144 L194 143 L195.9 143 L197 144 L198.5 144.4 L200.1 145.2 L201.8 144.8 L203.3 145.7 L204.5 147 L206.1 145.8 L207.5 147.1 L209.5 147.8 L210.7 147.2 L212 148.3 L213.9 148.1 L215.4 148.6 L217.2 149.6 L218.3 150.3 L219.7 150 L221.4 149.8 L222.7 151.2 L224.1 151.2 L226.1 150.8 L227.1 152.1 L229 152.7 L231 152.3 L232.5 153.1 L234.1 154.9 L236.3 155.2 L237.5 156 L239.5 155.8 L240.8 156.2 L241.7 155.9 L242.6 156.1" fill="none" stroke="#2040ff" stroke-width="2.5" stroke-linejoin="round" stroke-linecap="round"/>
<path d="M48.8 228L54.8 234M48.8 234L54.8 228" stroke="#2040ff" stroke-width="1.3" fill="none"/>
<path d="M51 219.1L57 225.1M51 225.1L57 219.1" stroke="#2040ff" stroke-width="1.3" fill="none"/>
<path d="M53.2 208.9L59.2 214.9M53.2 214.9L59.2 208.9" stroke="#2040ff" stroke-width="1.3" fill="none"/>
<path d="M55.1 200.2L61.1 206.2M55.1 206.2L61.1 200.2" stroke="#2040ff" stroke-width="1.3" fill="none"/>
<path d="M57.7 190.7L63.7 196.7M57.7 196.7L63.7 190.7" stroke="#2040ff" stroke-width="1.3" fill="none"/>
<path d="M60.3 182.3L66.3 188.3M60.3 188.3L66.3 182.3" stroke="#2040ff" stroke-width="1.3" fill="none"/>
<path d="M61.9 172.6L67.9 178.6M61.9 178.6L67.9 172.6" stroke="#2040ff" stroke-width="1.3" fill="none"/>
<path d="M63.8 162.5L69.8 168.5M63.8 168.5L69.8 162.5" stroke="#2040ff" stroke-width="1.3" fill="none"/>
<path d="M65.5 153.7L71.5 159.7M65.5 159.7L71.5 153.7" stroke="#2040ff" stroke-width="1.3" fill="none"/>
<path d="M67.1 144.5L73.1 150.5M67.1 150.5L73.1 144.5" stroke="#2040ff" stroke-width="1.3" fill="none"/>
<path d="M68.9 135.6L74.9 141.6M68.9 141.6L74.9 135.6" stroke="#2040ff" stroke-width="1.3" fill="none"/>
<path d="M71 126L77 132M71 132L77 126" stroke="#2040ff" stroke-width="1.3" fill="none"/>
<path d="M73 116.5L79 122.5M73 122.5L79 116.5" stroke="#2040ff" stroke-width="1.3" fill="none"/>
<path d="M75.6 107.5L81.6 113.5M75.6 113.5L81.6 107.5" stroke="#2040ff" stroke-width="1.3" fill="none"/>
<path d="M79.3 98.3L85.3 104.3M79.3 104.3L85.3 98.3" stroke="#2040ff" stroke-width="1.3" fill="none"/>
<path d="M85.4 92.4L91.4 98.4M85.4 98.4L91.4 92.4" stroke="#2040ff" stroke-width="1.3" fill="none"/>
<path d="M93.3 95.3L99.3 101.3M93.3 101.3L99.3 95.3" stroke="#2040ff" stroke-width="1.3" fill="none"/>
<path d="M100.6 100.7L106.6 106.7M100.6 106.7L106.6 100.7" stroke="#2040ff" stroke-width="1.3" fill="none"/>
<path d="M106.9 106.2L112.9 112.2M106.9 112.2L112.9 106.2" stroke="#2040ff" stroke-width="1.3" fill="none"/>
<path d="M114.3 112.9L120.3 118.9M114.3 118.9L120.3 112.9" stroke="#2040ff" stroke-width="1.3" fill="none"/>
<path d="M122.3 116.9L128.3 122.9M122.3 122.9L128.3 116.9" stroke="#2040ff" stroke-width="1.3" fill="none"/>
<path d="M131 119.7L137 125.7M131 125.7L137 119.7" stroke="#2040ff" stroke-width="1.3" fill="none"/>
<path d="M138.4 122.7L144.4 128.7M138.4 128.7L144.4 122.7" stroke="#2040ff" stroke-width="1.3" fill="none"/>
<path d="M145.3 125.7L151.3 131.7M145.3 131.7L151.3 125.7" stroke="#2040ff" stroke-width="1.3" fill="none"/>
<path d="M153.8 130.3L159.8 136.3M153.8 136.3L159.8 130.3" stroke="#2040ff" stroke-width="1.3" fill="none"/>
<path d="M162.6 132.6L168.6 138.6M162.6 138.6L168.6 132.6" stroke="#2040ff" stroke-width="1.3" fill="none"/>
<path d="M171.9 134.4L177.9 140.4M171.9 140.4L177.9 134.4" stroke="#2040ff" stroke-width="1.3" fill="none"/>
<path d="M181 137L187 143M181 143L187 137" stroke="#2040ff" stroke-width="1.3" fill="none"/>
<path d="M188.3 139.6L194.3 145.6M188.3 145.6L194.3 139.6" stroke="#2040ff" stroke-width="1.3" fill="none"/>
<path d="M197.1 142.2L203.1 148.2M197.1 148.2L203.1 142.2" stroke="#2040ff" stroke-width="1.3" fill="none"/>
<path d="M204.5 144.1L210.5 150.1M204.5 150.1L210.5 144.1" stroke="#2040ff" stroke-width="1.3" fill="none"/>
<path d="M214.2 146.6L220.2 152.6M214.2 152.6L220.2 146.6" stroke="#2040ff" stroke-width="1.3" fill="none"/>
<path d="M223.1 147.8L229.1 153.8M223.1 153.8L229.1 147.8" stroke="#2040ff" stroke-width="1.3" fill="none"/>
<path d="M231.1 151.9L237.1 157.9M231.1 157.9L237.1 151.9" stroke="#2040ff" stroke-width="1.3" fill="none"/>
<path d="M50.2 239.2L50.2 243" stroke="#2040ff" stroke-width="1.0"/>
<path d="M51.4 233.2L51.4 237" stroke="#2040ff" stroke-width="1.0"/>
<path d="M51.8 229.1L51.8 232.9" stroke="#2040ff" stroke-width="1.0"/>
<path d="M52.4 224.7L52.4 228.5" stroke="#2040ff" stroke-width="1.0"/>
<path d="M53.6 221.7L53.6 225.5" stroke="#2040ff" stroke-width="1.0"/>
<path d="M54.7 217.3L54.7 221.1" stroke="#2040ff" stroke-width="1.0"/>
<path d="M55.5 212.2L55.5 216" stroke="#2040ff" stroke-width="1.0"/>
<path d="M56.9 207.1L56.9 210.9" stroke="#2040ff" stroke-width="1.0"/>
<path d="M58 204.1L58 207.9" stroke="#2040ff" stroke-width="1.0"/>
<path d="M58.9 200.4L58.9 204.2" stroke="#2040ff" stroke-width="1.0"/>
<path d="M59.2 196.7L59.2 200.5" stroke="#2040ff" stroke-width="1.0"/>
<path d="M60.7 191.8L60.7 195.6" stroke="#2040ff" stroke-width="1.0"/>
<path d="M61.5 187.7L61.5 191.5" stroke="#2040ff" stroke-width="1.0"/>
<path d="M62.6 184.8L62.6 188.6" stroke="#2040ff" stroke-width="1.0"/>
<path d="M63.5 181.1L63.5 184.9" stroke="#2040ff" stroke-width="1.0"/>
<path d="M64.4 177.5L64.4 181.3" stroke="#2040ff" stroke-width="1.0"/>
<path d="M64.9 173.7L64.9 177.5" stroke="#2040ff" stroke-width="1.0"/>
<path d="M66 168L66 171.8" stroke="#2040ff" stroke-width="1.0"/>
<path d="M66.8 163.6L66.8 167.4" stroke="#2040ff" stroke-width="1.0"/>
<path d="M68 157.8L68 161.6" stroke="#2040ff" stroke-width="1.0"/>
<path d="M68.5 154.8L68.5 158.6" stroke="#2040ff" stroke-width="1.0"/>
<path d="M68.9 151.3L68.9 155.1" stroke="#2040ff" stroke-width="1.0"/>
<path d="M69.8 148.4L69.8 152.2" stroke="#2040ff" stroke-width="1.0"/>
<path d="M70.5 145.4L70.5 149.2" stroke="#2040ff" stroke-width="1.0"/>
<path d="M71.1 141.8L71.1 145.6" stroke="#2040ff" stroke-width="1.0"/>
<path d="M71.6 137.9L71.6 141.7" stroke="#2040ff" stroke-width="1.0"/>
<path d="M73.1 134.3L73.1 138.1" stroke="#2040ff" stroke-width="1.0"/>
<path d="M73.9 129.6L73.9 133.4" stroke="#2040ff" stroke-width="1.0"/>
<path d="M74.3 125.2L74.3 129" stroke="#2040ff" stroke-width="1.0"/>
<path d="M75.2 122.1L75.2 125.9" stroke="#2040ff" stroke-width="1.0"/>
<path d="M75.8 119.2L75.8 123" stroke="#2040ff" stroke-width="1.0"/>
<path d="M76.7 114.3L76.7 118.1" stroke="#2040ff" stroke-width="1.0"/>
<path d="M77.9 111.1L77.9 114.9" stroke="#2040ff" stroke-width="1.0"/>
<path d="M79.4 106.6L79.4 110.4" stroke="#2040ff" stroke-width="1.0"/>
<path d="M81.1 103.8L81.1 107.6" stroke="#2040ff" stroke-width="1.0"/>
<path d="M81.4 100.8L81.4 104.6" stroke="#2040ff" stroke-width="1.0"/>
<path d="M83.8 97.9L83.8 101.7" stroke="#2040ff" stroke-width="1.0"/>
<path d="M85.9 94.1L85.9 97.9" stroke="#2040ff" stroke-width="1.0"/>
<path d="M89.3 92.2L89.3 96" stroke="#2040ff" stroke-width="1.0"/>
<path d="M92.4 92.5L92.4 96.3" stroke="#2040ff" stroke-width="1.0"/>
<path d="M94.6 94.5L94.6 98.3" stroke="#2040ff" stroke-width="1.0"/>
<path d="M97.3 95.8L97.3 99.6" stroke="#2040ff" stroke-width="1.0"/>
<path d="M99.1 98.7L99.1 102.5" stroke="#2040ff" stroke-width="1.0"/>
<path d="M102.1 100.1L102.1 103.9" stroke="#2040ff" stroke-width="1.0"/>
<path d="M104.6 101.7L104.6 105.5" stroke="#2040ff" stroke-width="1.0"/>
<path d="M106.5 105.1L106.5 108.9" stroke="#2040ff" stroke-width="1.0"/>
<path d="M108.6 106.3L108.6 110.1" stroke="#2040ff" stroke-width="1.0"/>
<path d="M112.4 110.6L112.4 114.4" stroke="#2040ff" stroke-width="1.0"/>
<path d="M116.2 112.2L116.2 116" stroke="#2040ff" stroke-width="1.0"/>
<path d="M118.5 114.4L118.5 118.2" stroke="#2040ff" stroke-width="1.0"/>
<path d="M121 116.7L121 120.5" stroke="#2040ff" stroke-width="1.0"/>
<path d="M123.6 118.1L123.6 121.9" stroke="#2040ff" stroke-width="1.0"/>
<path d="M126.9 119.6L126.9 123.4" stroke="#2040ff" stroke-width="1.0"/>
<path d="M130.9 120.6L130.9 124.4" stroke="#2040ff" stroke-width="1.0"/>
<path d="M134 120.8L134 124.6" stroke="#2040ff" stroke-width="1.0"/>
<path d="M136.9 123.3L136.9 127.1" stroke="#2040ff" stroke-width="1.0"/>
<path d="M139.6 123.7L139.6 127.5" stroke="#2040ff" stroke-width="1.0"/>
<path d="M142.7 126.1L142.7 129.9" stroke="#2040ff" stroke-width="1.0"/>
<path d="M146.7 127.8L146.7 131.6" stroke="#2040ff" stroke-width="1.0"/>
<path d="M149.7 128.9L149.7 132.7" stroke="#2040ff" stroke-width="1.0"/>
<path d="M152.6 128.4L152.6 132.2" stroke="#2040ff" stroke-width="1.0"/>
<path d="M155.6 129.4L155.6 133.2" stroke="#2040ff" stroke-width="1.0"/>
<path d="M158.1 130.5L158.1 134.3" stroke="#2040ff" stroke-width="1.0"/>
<path d="M162.5 133.1L162.5 136.9" stroke="#2040ff" stroke-width="1.0"/>
<path d="M165.6 133.7L165.6 137.5" stroke="#2040ff" stroke-width="1.0"/>
<path d="M168.9 133.7L168.9 137.5" stroke="#2040ff" stroke-width="1.0"/>
<path d="M171.9 135.6L171.9 139.4" stroke="#2040ff" stroke-width="1.0"/>
<path d="M174.9 135.5L174.9 139.3" stroke="#2040ff" stroke-width="1.0"/>
<path d="M178.2 136.8L178.2 140.6" stroke="#2040ff" stroke-width="1.0"/>
<path d="M180.8 137L180.8 140.8" stroke="#2040ff" stroke-width="1.0"/>
<path d="M184 138.1L184 141.9" stroke="#2040ff" stroke-width="1.0"/>
<path d="M186.8 139.9L186.8 143.7" stroke="#2040ff" stroke-width="1.0"/>
<path d="M189.5 139.7L189.5 143.5" stroke="#2040ff" stroke-width="1.0"/>
<path d="M192.8 142.1L192.8 145.9" stroke="#2040ff" stroke-width="1.0"/>
<path d="M195.9 141.1L195.9 144.9" stroke="#2040ff" stroke-width="1.0"/>
<path d="M198.5 142.5L198.5 146.3" stroke="#2040ff" stroke-width="1.0"/>
<path d="M201.8 142.9L201.8 146.7" stroke="#2040ff" stroke-width="1.0"/>
<path d="M204.5 145.1L204.5 148.9" stroke="#2040ff" stroke-width="1.0"/>
<path d="M207.5 145.2L207.5 149" stroke="#2040ff" stroke-width="1.0"/>
<path d="M210.7 145.3L210.7 149.1" stroke="#2040ff" stroke-width="1.0"/>
<path d="M213.9 146.2L213.9 150" stroke="#2040ff" stroke-width="1.0"/>
<path d="M217.2 147.7L217.2 151.5" stroke="#2040ff" stroke-width="1.0"/>
<path d="M221.4 147.9L221.4 151.7" stroke="#2040ff" stroke-width="1.0"/>
<path d="M224.1 149.3L224.1 153.1" stroke="#2040ff" stroke-width="1.0"/>
<path d="M227.1 150.2L227.1 154" stroke="#2040ff" stroke-width="1.0"/>
<path d="M231 150.4L231 154.2" stroke="#2040ff" stroke-width="1.0"/>
<path d="M234.1 153L234.1 156.8" stroke="#2040ff" stroke-width="1.0"/>
<path d="M237.5 154.1L237.5 157.9" stroke="#2040ff" stroke-width="1.0"/>
<path d="M240.8 154.3L240.8 158.1" stroke="#2040ff" stroke-width="1.0"/>
<path d="M50.2 241 L50.6 224.1 L51.5 212.2 L53.5 182.8 L55.6 161.7 L57.7 147 L59.8 132.9 L61.1 123.1 L63.2 114.7 L66.9 95.7 L72.8 69.8 L76.2 55 L77.8 50.8 L80.3 51.5 L82.9 58.6 L83.7 66.3 L84.5 83.8 L85.4 104.9 L86.8 128.7 L88.3 161 L89.5 189.1 L92.1 211.5 L93.7 222.7" fill="none" stroke="#ff1a1a" stroke-width="1.6" stroke-linejoin="round" stroke-linecap="round"/>
<path d="M50.6 222.3L50.6 225.9" stroke="#ff1a1a" stroke-width="1.0"/>
<path d="M51.5 210.4L51.5 214" stroke="#ff1a1a" stroke-width="1.0"/>
<path d="M53.5 181L53.5 184.6" stroke="#ff1a1a" stroke-width="1.0"/>
<path d="M55.6 159.9L55.6 163.5" stroke="#ff1a1a" stroke-width="1.0"/>
<path d="M57.7 145.2L57.7 148.8" stroke="#ff1a1a" stroke-width="1.0"/>
<path d="M59.8 131.1L59.8 134.7" stroke="#ff1a1a" stroke-width="1.0"/>
<path d="M61.1 121.3L61.1 124.9" stroke="#ff1a1a" stroke-width="1.0"/>
<path d="M63.2 112.9L63.2 116.5" stroke="#ff1a1a" stroke-width="1.0"/>
<path d="M66.9 93.9L66.9 97.5" stroke="#ff1a1a" stroke-width="1.0"/>
<path d="M72.8 68L72.8 71.6" stroke="#ff1a1a" stroke-width="1.0"/>
<path d="M76.2 53.2L76.2 56.8" stroke="#ff1a1a" stroke-width="1.0"/>
<path d="M80.3 49.7L80.3 53.3" stroke="#ff1a1a" stroke-width="1.0"/>
<path d="M82.9 56.8L82.9 60.4" stroke="#ff1a1a" stroke-width="1.0"/>
<path d="M83.7 64.5L83.7 68.1" stroke="#ff1a1a" stroke-width="1.0"/>
<path d="M84.5 82L84.5 85.6" stroke="#ff1a1a" stroke-width="1.0"/>
<path d="M85.4 103.1L85.4 106.7" stroke="#ff1a1a" stroke-width="1.0"/>
<path d="M86.8 126.9L86.8 130.5" stroke="#ff1a1a" stroke-width="1.0"/>
<path d="M88.3 159.2L88.3 162.8" stroke="#ff1a1a" stroke-width="1.0"/>
<path d="M89.5 187.3L89.5 190.9" stroke="#ff1a1a" stroke-width="1.0"/>
<path d="M92.1 209.7L92.1 213.3" stroke="#ff1a1a" stroke-width="1.0"/>
<path d="M93.7 220.9L93.7 224.5" stroke="#ff1a1a" stroke-width="1.0"/>
<path d="M93.6 223.3 L94 224.2 L94.1 223.7 L94.1 225.1 L94.4 226.5 L94.2 228 L94.9 228.2 L95.1 228.9 L94.8 230.5 L95.4 233.4 L95.6 233.1 L96 234.3 L95.8 237 L96.3 237.6 L96.6 239.3 L96.8 239.8 L97.2 240.4 L98.2 240.4 L99.6 237.7 L99.8 237.8 L100.1 237.5 L100.6 234.3 L101.1 235.4 L101.8 232.3 L102.1 231 L103.1 231.5 L103.8 230.7 L104.1 229.2 L105.1 228.7 L106.3 228 L106.5 227.4 L107.8 227.3 L108 225.8 L108.7 226.2 L109.8 229.2 L110.3 230.6 L111 230.7 L111 231 L112 232.1 L112.1 233.6 L112.4 234.2 L113.1 236.3 L113.6 236.4 L114.5 237.8 L114.9 239 L114.7 239.4 L115.6 241.4 L116 242.4 L116.6 242.4 L117.3 243.2 L117.7 244.3 L117.6 245 L118.6 247 L118.6 245.6 L119.5 245.7 L119.8 244 L120.5 243.7 L121 242.7 L121.5 239.8 L122.3 239.6 L122.6 238.8 L123.3 238.1 L124.4 237.2 L125 235.2 L125.5 234.4 L126.7 232.6 L127.5 231.3 L127.8 231 L129.2 231.2 L129.6 232.3 L130.3 232 L131.3 233.7 L132.4 234.3 L133 234.3 L133.8 236.4 L135.2 237 L135.8 237 L137 237.7 L137.8 237.2 L139.3 235.8 L140 234.9 L141.1 235.4 L141.6 232.6 L142.5 232 L143.6 230.7 L144.3 230.4 L145.6 231.9 L145.8 233.2 L146.6 232.7 L148.1 234.6 L148.7 234.5 L149.2 235.7 L149.9 235.3 L150.9 235.5 L151.7 237.9 L152.9 237.5 L153.8 237.4 L154.5 237.7 L155.8 237.8 L157.3 236.8 L158.1 237.4 L159 236.1 L160.3 238 L161.3 238 L162.3 238.4 L163.1 238.4 L163.9 239.2 L164.8 238.9 L166.4 239.8 L167.3 238.9 L168.3 239.5 L169.6 239.4 L170.6 240.6 L171.2 239.8 L172.7 239 L173.5 240.2 L174.3 239 L175.5 239.6 L177 239 L177.3 239.2 L178.6 239.6 L179.6 239.6 L180.9 239.4 L181.7 240.6 L182.7 240 L184.1 240.2 L184.8 240.7 L185.9 238.5 L186.8 239.2 L187.7 239.2 L189 239.8 L190.1 238.7 L191.1 239.7 L192.7 239.1 L193.3 239.7 L194.5 238.2 L195.4 239.6 L196.9 239.2 L197.7 239.1 L198.7 240.1 L199.8 239.4 L201.3 239.9 L202.1 238.8 L203.3 238.5 L204.6 239.2 L205.6 239.1 L206.3 239.1 L207.4 239.1 L208 240.4 L209.1 239.3 L210.3 239.9 L211.5 240.3 L212.6 239.7 L213.8 240.8 L214.1 240.7 L215.6 240.5 L216.2 240.5 L217.7 238.4 L218.2 240.5 L219.7 238.7 L220.3 238.2 L221.5 239.5 L222.7 237.8 L224.2 239.1 L224.8 239.1 L226.2 238.7 L227.4 238.7 L228.5 238.5 L229.1 238 L230.2 238.1 L231.4 238.4 L232.6 237 L233.5 236.9 L234.6 236.9 L235.6 237.4 L236.6 238.4 L237.6 239.6 L238.2 239.7 L239.6 239.2 L240.7 240.1 L241.4 239.3 L242.8 238.7 L243.6 240.3 L244.2 240.4 L245.8 241.3 L246.8 241.4 L247.9 240.2 L249.2 239.1 L250.2 240.4 L251.2 240.8 L252.4 239.8 L253.8 240.3 L254.7 239.4 L256 239.5 L257.4 238.7 L258.3 238.8 L258.9 238.4 L259.5 240" fill="none" stroke="#ff1a1a" stroke-width="1.8" stroke-linejoin="round" stroke-linecap="round"/>
<path d="M93.3 227.6L97.1 231.4M93.3 231.4L97.1 227.6" stroke="#ff1a1a" stroke-width="1.0" fill="none"/>
<path d="M93.9 232.1L97.7 235.9M93.9 235.9L97.7 232.1" stroke="#ff1a1a" stroke-width="1.0" fill="none"/>
<path d="M94.5 237.6L98.3 241.4M94.5 241.4L98.3 237.6" stroke="#ff1a1a" stroke-width="1.0" fill="none"/>
<path d="M97.9 236.4L101.7 240.2M97.9 240.2L101.7 236.4" stroke="#ff1a1a" stroke-width="1.0" fill="none"/>
<path d="M99.4 230.9L103.2 234.7M99.4 234.7L103.2 230.9" stroke="#ff1a1a" stroke-width="1.0" fill="none"/>
<path d="M102.6 227.4L106.4 231.2M102.6 231.2L106.4 227.4" stroke="#ff1a1a" stroke-width="1.0" fill="none"/>
<path d="M105.7 223.5L109.5 227.3M105.7 227.3L109.5 223.5" stroke="#ff1a1a" stroke-width="1.0" fill="none"/>
<path d="M107.9 228.1L111.7 231.9M107.9 231.9L111.7 228.1" stroke="#ff1a1a" stroke-width="1.0" fill="none"/>
<path d="M111.6 234.6L115.4 238.4M111.6 238.4L115.4 234.6" stroke="#ff1a1a" stroke-width="1.0" fill="none"/>
<path d="M113.8 240L117.6 243.8M113.8 243.8L117.6 240" stroke="#ff1a1a" stroke-width="1.0" fill="none"/>
<path d="M117.1 245.4L120.9 249.2M117.1 249.2L120.9 245.4" stroke="#ff1a1a" stroke-width="1.0" fill="none"/>
<path d="M119.2 241.1L123 244.9M119.2 244.9L123 241.1" stroke="#ff1a1a" stroke-width="1.0" fill="none"/>
<path d="M121.6 236.4L125.4 240.2M121.6 240.2L125.4 236.4" stroke="#ff1a1a" stroke-width="1.0" fill="none"/>
<path d="M124.9 230.1L128.7 233.9M124.9 233.9L128.7 230.1" stroke="#ff1a1a" stroke-width="1.0" fill="none"/>
<path d="M128.6 230.1L132.4 233.9M128.6 233.9L132.4 230.1" stroke="#ff1a1a" stroke-width="1.0" fill="none"/>
<path d="M132.2 233.7L136 237.5M132.2 237.5L136 233.7" stroke="#ff1a1a" stroke-width="1.0" fill="none"/>
<path d="M137.1 233L140.9 236.8M137.1 236.8L140.9 233" stroke="#ff1a1a" stroke-width="1.0" fill="none"/>
<path d="M139.9 231.6L143.7 235.4M139.9 235.4L143.7 231.6" stroke="#ff1a1a" stroke-width="1.0" fill="none"/>
<path d="M143.8 229.8L147.6 233.6M143.8 233.6L147.6 229.8" stroke="#ff1a1a" stroke-width="1.0" fill="none"/>
<path d="M147.2 233.2L151 237M147.2 237L151 233.2" stroke="#ff1a1a" stroke-width="1.0" fill="none"/>
<path d="M149.9 235.5L153.7 239.3M149.9 239.3L153.7 235.5" stroke="#ff1a1a" stroke-width="1.0" fill="none"/>
<path d="M155.2 234.7L159 238.5M155.2 238.5L159 234.7" stroke="#ff1a1a" stroke-width="1.0" fill="none"/>
<path d="M159.2 235.9L163 239.7M159.2 239.7L163 235.9" stroke="#ff1a1a" stroke-width="1.0" fill="none"/>
<path d="M164.6 238.8L168.4 242.6M164.6 242.6L168.4 238.8" stroke="#ff1a1a" stroke-width="1.0" fill="none"/>
<path d="M168.3 238.8L172.1 242.6M168.3 242.6L172.1 238.8" stroke="#ff1a1a" stroke-width="1.0" fill="none"/>
<path d="M171.9 236.4L175.7 240.2M171.9 240.2L175.7 236.4" stroke="#ff1a1a" stroke-width="1.0" fill="none"/>
<path d="M178 237.8L181.8 241.6M178 241.6L181.8 237.8" stroke="#ff1a1a" stroke-width="1.0" fill="none"/>
<path d="M182.6 238.2L186.4 242M182.6 242L186.4 238.2" stroke="#ff1a1a" stroke-width="1.0" fill="none"/>
<path d="M185.3 237.1L189.1 240.9M185.3 240.9L189.1 237.1" stroke="#ff1a1a" stroke-width="1.0" fill="none"/>
<path d="M190.9 238.1L194.7 241.9M190.9 241.9L194.7 238.1" stroke="#ff1a1a" stroke-width="1.0" fill="none"/>
<path d="M195.5 237.3L199.3 241.1M195.5 241.1L199.3 237.3" stroke="#ff1a1a" stroke-width="1.0" fill="none"/>
<path d="M199.3 237.2L203.1 241M199.3 241L203.1 237.2" stroke="#ff1a1a" stroke-width="1.0" fill="none"/>
<path d="M203.9 236.6L207.7 240.4M203.9 240.4L207.7 236.6" stroke="#ff1a1a" stroke-width="1.0" fill="none"/>
<path d="M208.1 237.1L211.9 240.9M208.1 240.9L211.9 237.1" stroke="#ff1a1a" stroke-width="1.0" fill="none"/>
<path d="M213.2 239L217 242.8M213.2 242.8L217 239" stroke="#ff1a1a" stroke-width="1.0" fill="none"/>
<path d="M215.9 239.6L219.7 243.4M215.9 243.4L219.7 239.6" stroke="#ff1a1a" stroke-width="1.0" fill="none"/>
<path d="M220.4 236.7L224.2 240.5M220.4 240.5L224.2 236.7" stroke="#ff1a1a" stroke-width="1.0" fill="none"/>
<path d="M225.1 235.9L228.9 239.7M225.1 239.7L228.9 235.9" stroke="#ff1a1a" stroke-width="1.0" fill="none"/>
<path d="M230.9 234.6L234.7 238.4M230.9 238.4L234.7 234.6" stroke="#ff1a1a" stroke-width="1.0" fill="none"/>
<path d="M235.9 237L239.7 240.8M235.9 240.8L239.7 237" stroke="#ff1a1a" stroke-width="1.0" fill="none"/>
<path d="M240.5 237.4L244.3 241.2M240.5 241.2L244.3 237.4" stroke="#ff1a1a" stroke-width="1.0" fill="none"/>
<path d="M245.1 240.3L248.9 244.1M245.1 244.1L248.9 240.3" stroke="#ff1a1a" stroke-width="1.0" fill="none"/>
<path d="M248.6 237.7L252.4 241.5M248.6 241.5L252.4 237.7" stroke="#ff1a1a" stroke-width="1.0" fill="none"/>
<path d="M253 237.9L256.8 241.7M253 241.7L256.8 237.9" stroke="#ff1a1a" stroke-width="1.0" fill="none"/>
<path d="M257.6 239L261.4 242.8M257.6 242.8L261.4 239" stroke="#ff1a1a" stroke-width="1.0" fill="none"/>
<path d="M47.4 238.2L53 243.8M47.4 243.8L53 238.2" stroke="#ff1a1a" stroke-width="1.2" fill="none"/>
<path d="M47.6 232.6L53.2 238.2M47.6 238.2L53.2 232.6" stroke="#ff1a1a" stroke-width="1.2" fill="none"/>
<path d="M48.7 209.4L54.3 215M48.7 215L54.3 209.4" stroke="#ff1a1a" stroke-width="1.2" fill="none"/>
<path d="M54.7 144.9L60.3 150.5M54.7 150.5L60.3 144.9" stroke="#ff1a1a" stroke-width="1.2" fill="none"/>
<path d="M64.1 92.9L69.7 98.5M64.1 98.5L69.7 92.9" stroke="#ff1a1a" stroke-width="1.2" fill="none"/>
<path d="M70 67L75.6 72.6M70 72.6L75.6 67" stroke="#ff1a1a" stroke-width="1.2" fill="none"/>
<path d="M75 48L80.6 53.6M75 53.6L80.6 48" stroke="#ff1a1a" stroke-width="1.2" fill="none"/>
<path d="M77.5 48.7L83.1 54.3M77.5 54.3L83.1 48.7" stroke="#ff1a1a" stroke-width="1.2" fill="none"/>
<path d="M80.1 55.8L85.7 61.4M80.1 61.4L85.7 55.8" stroke="#ff1a1a" stroke-width="1.2" fill="none"/>
<path d="M84.9 128.7L90.5 134.3M84.9 134.3L90.5 128.7" stroke="#ff1a1a" stroke-width="1.2" fill="none"/>
<path d="M92.2 228.4L97.8 234M92.2 234L97.8 228.4" stroke="#ff1a1a" stroke-width="1.2" fill="none"/>
<path d="M104.7 223.5L110.3 229.1M104.7 229.1L110.3 223.5" stroke="#ff1a1a" stroke-width="1.2" fill="none"/>
<path d="M115.6 243.1L121.2 248.7M115.6 248.7L121.2 243.1" stroke="#ff1a1a" stroke-width="1.2" fill="none"/>
<path d="M126.1 229.1L131.7 234.7M126.1 234.7L131.7 229.1" stroke="#ff1a1a" stroke-width="1.2" fill="none"/>
<path d="M141.6 229.1L147.2 234.7M141.6 234.7L147.2 229.1" stroke="#ff1a1a" stroke-width="1.2" fill="none"/>
<path d="M160.4 236.8L166 242.4M160.4 242.4L166 236.8" stroke="#ff1a1a" stroke-width="1.2" fill="none"/>
<path d="M193.9 236.1L199.5 241.7M193.9 241.7L199.5 236.1" stroke="#ff1a1a" stroke-width="1.2" fill="none"/>
<path d="M227.4 234.7L233 240.3M227.4 240.3L233 234.7" stroke="#ff1a1a" stroke-width="1.2" fill="none"/>
<path d="M244.1 236.8L249.7 242.4M244.1 242.4L249.7 236.8" stroke="#ff1a1a" stroke-width="1.2" fill="none"/>
<g stroke="#000" stroke-width="1.6" fill="none" stroke-linecap="square">
<path d="M50.2 34.7L259.5 34.7L259.5 245.2L50.2 245.2Z"/>
</g>
<g stroke="#000" stroke-width="1.2" fill="none">
<path d="M58.6 245.2L58.6 240.2M58.6 34.7L58.6 39.7"/>
<path d="M66.9 245.2L66.9 240.2M66.9 34.7L66.9 39.7"/>
<path d="M75.3 245.2L75.3 240.2M75.3 34.7L75.3 39.7"/>
<path d="M83.7 245.2L83.7 240.2M83.7 34.7L83.7 39.7"/>
<path d="M92.1 245.2L92.1 236.7M92.1 34.7L92.1 43.2"/>
<path d="M100.4 245.2L100.4 240.2M100.4 34.7L100.4 39.7"/>
<path d="M108.8 245.2L108.8 240.2M108.8 34.7L108.8 39.7"/>
<path d="M117.2 245.2L117.2 240.2M117.2 34.7L117.2 39.7"/>
<path d="M125.5 245.2L125.5 240.2M125.5 34.7L125.5 39.7"/>
<path d="M133.9 245.2L133.9 236.7M133.9 34.7L133.9 43.2"/>
<path d="M142.3 245.2L142.3 240.2M142.3 34.7L142.3 39.7"/>
<path d="M150.7 245.2L150.7 240.2M150.7 34.7L150.7 39.7"/>
<path d="M159 245.2L159 240.2M159 34.7L159 39.7"/>
<path d="M167.4 245.2L167.4 240.2M167.4 34.7L167.4 39.7"/>
<path d="M175.8 245.2L175.8 236.7M175.8 34.7L175.8 43.2"/>
<path d="M184.2 245.2L184.2 240.2M184.2 34.7L184.2 39.7"/>
<path d="M192.5 245.2L192.5 240.2M192.5 34.7L192.5 39.7"/>
<path d="M200.9 245.2L200.9 240.2M200.9 34.7L200.9 39.7"/>
<path d="M209.3 245.2L209.3 240.2M209.3 34.7L209.3 39.7"/>
<path d="M217.6 245.2L217.6 236.7M217.6 34.7L217.6 43.2"/>
<path d="M226 245.2L226 240.2M226 34.7L226 39.7"/>
<path d="M234.4 245.2L234.4 240.2M234.4 34.7L234.4 39.7"/>
<path d="M242.8 245.2L242.8 240.2M242.8 34.7L242.8 39.7"/>
<path d="M251.1 245.2L251.1 240.2M251.1 34.7L251.1 39.7"/>
<path d="M50.2 238.2L55.2 238.2M259.5 238.2L254.5 238.2"/>
<path d="M50.2 231.2L55.2 231.2M259.5 231.2L254.5 231.2"/>
<path d="M50.2 224.1L55.2 224.1M259.5 224.1L254.5 224.1"/>
<path d="M50.2 217.1L55.2 217.1M259.5 217.1L254.5 217.1"/>
<path d="M50.2 210.1L58.7 210.1M259.5 210.1L251 210.1"/>
<path d="M50.2 203.1L55.2 203.1M259.5 203.1L254.5 203.1"/>
<path d="M50.2 196.1L55.2 196.1M259.5 196.1L254.5 196.1"/>
<path d="M50.2 189.1L55.2 189.1M259.5 189.1L254.5 189.1"/>
<path d="M50.2 182L55.2 182M259.5 182L254.5 182"/>
<path d="M50.2 175L58.7 175M259.5 175L251 175"/>
<path d="M50.2 168L55.2 168M259.5 168L254.5 168"/>
<path d="M50.2 161L55.2 161M259.5 161L254.5 161"/>
<path d="M50.2 154L55.2 154M259.5 154L254.5 154"/>
<path d="M50.2 147L55.2 147M259.5 147L254.5 147"/>
<path d="M50.2 139.9L58.7 139.9M259.5 139.9L251 139.9"/>
<path d="M50.2 132.9L55.2 132.9M259.5 132.9L254.5 132.9"/>
<path d="M50.2 125.9L55.2 125.9M259.5 125.9L254.5 125.9"/>
<path d="M50.2 118.9L55.2 118.9M259.5 118.9L254.5 118.9"/>
<path d="M50.2 111.9L55.2 111.9M259.5 111.9L254.5 111.9"/>
<path d="M50.2 104.9L58.7 104.9M259.5 104.9L251 104.9"/>
<path d="M50.2 97.8L55.2 97.8M259.5 97.8L254.5 97.8"/>
<path d="M50.2 90.8L55.2 90.8M259.5 90.8L254.5 90.8"/>
<path d="M50.2 83.8L55.2 83.8M259.5 83.8L254.5 83.8"/>
<path d="M50.2 76.8L55.2 76.8M259.5 76.8L254.5 76.8"/>
<path d="M50.2 69.8L58.7 69.8M259.5 69.8L251 69.8"/>
<path d="M50.2 62.8L55.2 62.8M259.5 62.8L254.5 62.8"/>
<path d="M50.2 55.8L55.2 55.8M259.5 55.8L254.5 55.8"/>
<path d="M50.2 48.7L55.2 48.7M259.5 48.7L254.5 48.7"/>
<path d="M50.2 41.7L55.2 41.7M259.5 41.7L254.5 41.7"/>
</g>
<rect x="144.5" y="11" width="103.5" height="108" fill="#fff"/>
<path d="M154 21L197.3 21" stroke="#000000" stroke-width="1.4"/>
<text x="201" y="26.6" font-family="Liberation Sans, Arial, sans-serif" font-size="12.3" fill="#000000">5e-4 s<tspan font-size="9.8" dy="-4.6" dx="1.5">-1</tspan></text>
<path d="M154 36.4L197.3 36.4" stroke="#2040ff" stroke-width="1.4"/>
<text x="201" y="42" font-family="Liberation Sans, Arial, sans-serif" font-size="12.3" fill="#2040ff">5e-3 s<tspan font-size="9.8" dy="-4.6" dx="1.5">-1</tspan></text>
<path d="M154 51.2L197.3 51.2" stroke="#ff1a1a" stroke-width="1.4"/>
<text x="201" y="56.8" font-family="Liberation Sans, Arial, sans-serif" font-size="12.3" fill="#ff1a1a">5e-2 s<tspan font-size="9.8" dy="-4.6" dx="1.5">-1</tspan></text>
<path d="M154 66L197.3 66" stroke="#1a841a" stroke-width="1.7"/>
<text x="201" y="71.6" font-family="Liberation Sans, Arial, sans-serif" font-size="12.3" fill="#1a841a">1 s<tspan font-size="9.8" dy="-4.6" dx="1.5">-1</tspan></text>
<path d="M154 81L197.3 81" stroke="#000000" stroke-width="1.4"/>
<path d="M172.8 78.2L178.5 83.8M172.8 83.8L178.5 78.2" stroke="#000000" stroke-width="1.2" fill="none"/>
<text x="201" y="86.6" font-family="Liberation Sans, Arial, sans-serif" font-size="12.3" fill="#000000">10 s<tspan font-size="9.8" dy="-4.6" dx="1.5">-1</tspan></text>
<path d="M154 96L197.3 96" stroke="#2040ff" stroke-width="1.4"/>
<path d="M172.8 93.2L178.5 98.8M172.8 98.8L178.5 93.2" stroke="#2040ff" stroke-width="1.2" fill="none"/>
<text x="201" y="101.6" font-family="Liberation Sans, Arial, sans-serif" font-size="12.3" fill="#2040ff">50 s<tspan font-size="9.8" dy="-4.6" dx="1.5">-1</tspan></text>
<path d="M154 111L197.3 111" stroke="#ff1a1a" stroke-width="1.4"/>
<path d="M172.8 108.2L178.5 113.8M172.8 113.8L178.5 108.2" stroke="#ff1a1a" stroke-width="1.2" fill="none"/>
<text x="201" y="116.6" font-family="Liberation Sans, Arial, sans-serif" font-size="12.3" fill="#ff1a1a">2500 s<tspan font-size="9.8" dy="-4.6" dx="1.5">-1</tspan></text>
<g font-family="Liberation Sans, Arial, sans-serif" font-size="12" fill="#000">
<text x="48.2" y="260.6" text-anchor="middle">0</text>
<text x="90.1" y="260.6" text-anchor="middle">0.1</text>
<text x="131.9" y="260.6" text-anchor="middle">0.2</text>
<text x="173.8" y="260.6" text-anchor="middle">0.3</text>
<text x="215.6" y="260.6" text-anchor="middle">0.4</text>
<text x="257.5" y="260.6" text-anchor="middle">0.5</text>
<text x="43.8" y="248.2" text-anchor="end">0</text>
<text x="43.8" y="213.1" text-anchor="end">50</text>
<text x="43.8" y="178" text-anchor="end">100</text>
<text x="43.8" y="142.9" text-anchor="end">150</text>
<text x="43.8" y="107.9" text-anchor="end">200</text>
<text x="43.8" y="72.8" text-anchor="end">250</text>
<text x="43.8" y="37.7" text-anchor="end">300</text>
</g>
<text x="153.3" y="282.4" text-anchor="middle" font-family="Liberation Sans, Arial, sans-serif" font-weight="bold" font-size="14.3">True Strain</text>
<text x="0" y="0" transform="translate(15 142) rotate(-90)" text-anchor="middle" font-family="Liberation Sans, Arial, sans-serif" font-weight="bold" font-size="14">True Stress (MPa)</text>
<text x="0.3" y="16" font-family="Liberation Serif, Times New Roman, serif" font-weight="bold" font-size="18">(a)</text>
<path d="M366.5 225.2 L366.8 224.4 L367.2 223.3 L367.6 222.1 L368.1 220.8 L368.7 219.3 L369.2 217.8 L369.9 216.1 L370.5 214.3 L371.2 212.5 L371.8 210.6 L372.5 208.7 L372.9 207.5 L373.4 206.3 L373.9 205 L374.3 203.7 L374.8 202.3 L375.3 200.9 L375.8 199.5 L376.4 198 L376.9 196.6 L377.4 195.1 L377.9 193.6 L378.5 192.1 L379 190.6 L379.5 189.1 L380 187.6 L380.5 186.2 L381 184.7 L381.5 183.3 L382 181.8 L382.6 180.2 L383.1 178.7 L383.6 177.1 L384.1 175.6 L384.6 174 L385.1 172.4 L385.6 170.9 L386.1 169.3 L386.6 167.8 L387.1 166.3 L387.6 164.8 L388.1 163.3 L388.6 161.9 L389.1 160.5 L389.5 159.1 L390 157.8 L390.6 156.1 L391.2 154.3 L391.8 152.7 L392.4 151.1 L393 149.6 L393.5 148.1 L394.1 146.7 L394.6 145.2 L395.2 143.9 L395.6 142.5 L396.1 141.2 L396.6 139.9 L397.1 138.1 L397.6 136.4 L398.1 134.8 L398.5 133.1 L398.9 131.6 L399.3 130.1 L399.7 128.8 L400.1 127.5 L400.5 126.4 L401.5 124.4 L402.4 122.9 L403.4 121.7 L404.4 120.5 L405.4 119.2 L406.5 118 L407.6 116.8 L408.6 115.9 L410.4 114.6 L412.2 114.3 L413.4 114.8 L414.6 115.8 L416.1 117.4 L417.1 118.4 L418.1 119.7 L419.3 121 L420.4 122.4 L421.6 123.8 L422.7 125 L423.9 126.2 L425 127.4 L426.2 128.6 L427.3 129.7 L428.4 130.7 L429.3 131.6 L431.1 133 L432.6 134.1 L434.2 134.9 L435.2 135.5 L436.2 135.9 L438.7 136.1 L439.8 136.2 L441.1 136.2 L442.7 136.2 L444.3 136.3 L446.1 136.3 L448 136.3 L449.8 136.3 L451.5 136.3 L453.2 136.2 L454.7 136.2 L456 136.2 L457 136.1 L459.7 134.9" fill="none" stroke="#ff1a1a" stroke-width="1.3" stroke-linejoin="round" stroke-linecap="round"/>
<path d="M366.5 225.2 L366.8 224.4 L367.2 223.3 L367.6 222.1 L368.1 220.8 L368.7 219.3 L369.2 217.8 L369.9 216.1 L370.5 214.3 L371.2 212.5 L371.8 210.6 L372.5 208.7 L372.9 207.5 L373.4 206.3 L373.9 205 L374.3 203.7 L374.8 202.3 L375.3 200.9 L375.8 199.5 L376.4 198 L376.9 196.6 L377.4 195.1 L377.9 193.6 L378.5 192.1 L379 190.6 L379.5 189.1 L380 187.6 L380.5 186.2 L381 184.7 L381.5 183.3 L382 181.8 L382.6 180.2 L383.1 178.7 L383.6 177.1 L384.1 175.6 L384.6 174 L385.1 172.4 L385.6 170.9 L386.1 169.3 L386.6 167.8 L387.1 166.3 L387.6 164.8 L388.1 163.3 L388.6 161.9 L389.1 160.5 L389.5 159.1 L390 157.8 L390.6 156.1 L391.2 154.4 L391.7 152.7 L392.3 151.2 L392.8 149.7 L393.3 148.2 L393.9 146.8 L394.4 145.4 L394.9 144 L395.5 142.6 L396 141.2 L396.6 139.9 L397.2 138.3 L397.9 136.8 L398.5 135.2 L399.2 133.7 L399.9 132.2 L400.6 130.7 L401.2 129.3 L401.9 128 L402.6 126.7 L403.2 125.6 L403.8 124.6 L405 122.8 L406.1 121.4 L407.2 120.4 L408.3 119.7 L409.5 119.1 L411.1 118.4 L412.7 118.1 L414.4 118.2 L416.1 119.1 L417 119.8 L418 120.9 L418.9 122.2 L419.9 123.6 L420.8 125 L421.8 126.5 L422.9 127.8 L423.9 128.9 L425.2 130.1 L426.5 131.2 L427.9 132.2 L429.3 133.1 L430.7 134 L432 134.8 L433.3 135.5 L434.7 136.5 L436 137.3 L437.2 137.9 L438.8 138.5 L441.1 138.8 L442.3 138.9 L443.8 138.9 L445.4 138.9 L447.2 138.9 L449 138.8 L450.9 138.7 L452.7 138.6 L454.5 138.5 L456.1 138.4 L457.6 138.3 L458.8 138.3 L459.7 138.2" fill="none" stroke="#1a841a" stroke-width="1.7" stroke-linejoin="round" stroke-linecap="round"/>
<path d="M372.5 206.9L372.5 210.5" stroke="#1a841a" stroke-width="1.0"/>
<path d="M376.9 194.8L376.9 198.4" stroke="#1a841a" stroke-width="1.0"/>
<path d="M381 182.9L381 186.5" stroke="#1a841a" stroke-width="1.0"/>
<path d="M385.1 170.6L385.1 174.2" stroke="#1a841a" stroke-width="1.0"/>
<path d="M389.1 158.7L389.1 162.3" stroke="#1a841a" stroke-width="1.0"/>
<path d="M393.3 146.4L393.3 150" stroke="#1a841a" stroke-width="1.0"/>
<path d="M397.9 135L397.9 138.6" stroke="#1a841a" stroke-width="1.0"/>
<path d="M403.2 123.8L403.2 127.4" stroke="#1a841a" stroke-width="1.0"/>
<path d="M412.7 116.3L412.7 119.9" stroke="#1a841a" stroke-width="1.0"/>
<path d="M421.8 124.7L421.8 128.3" stroke="#1a841a" stroke-width="1.0"/>
<path d="M432 133L432 136.6" stroke="#1a841a" stroke-width="1.0"/>
<path d="M443.8 137.1L443.8 140.7" stroke="#1a841a" stroke-width="1.0"/>
<path d="M456.1 136.6L456.1 140.2" stroke="#1a841a" stroke-width="1.0"/>
<path d="M366.5 225.2 L367 224.2 L367.7 222.9 L368.6 221.2 L369.5 219.2 L370.1 218.1 L370.7 216.9 L371.4 215.6 L372.1 214.3 L372.8 212.7 L373.5 211 L374.3 208.9 L374.7 207.7 L375.1 206.4 L375.6 205.1 L376 203.6 L376.5 202.1 L377 200.5 L377.4 198.9 L377.9 197.3 L378.4 195.7 L378.8 194.1 L379.3 192.5 L379.7 190.9 L380.2 189.4 L380.6 187.9 L381.1 186.4 L381.6 184.9 L382 183.4 L382.5 182 L382.9 180.5 L383.4 179.1 L383.8 177.7 L384.2 176.3 L384.7 174.8 L385.1 173.4 L385.5 172 L385.9 170.5 L386.3 169.1 L386.8 167.6 L387.2 166 L387.6 164.4 L388 162.8 L388.4 161.2 L388.7 159.6 L389.1 158 L389.5 156.5 L389.9 154.9 L390.2 153.5 L390.5 152.1 L390.9 150.8 L391.2 149.6 L391.6 147.7 L392 146.1 L392.4 144.8 L392.7 143.6 L393.1 142.3 L393.4 140.8 L393.9 139.1 L394.2 137.8 L394.5 136.4 L394.9 134.9 L395.3 133.3 L395.6 131.7 L396 130.1 L396.4 128.4 L396.8 126.9 L397.2 125.4 L397.6 123.9 L397.9 122.6 L398.5 120.8 L399 119.1 L399.5 117.5 L400 116.1 L400.6 114.7 L401.1 113.4 L401.7 112.2 L402.5 110.6 L403.4 109.2 L404.3 108 L405.2 106.8 L406.2 105.7 L407.5 104.3 L408.8 103 L410.2 101.9 L411.6 100.9 L413.5 100.1 L415.4 99.6 L417.3 99.4 L418.9 99.7 L420.5 100.2 L422.1 100.7 L423.6 101.2 L425.6 101.7 L427.4 102.1 L429.3 102.7 L430.9 103.4 L432.4 104.1 L434 105 L435.7 105.7 L437.3 106.4 L438.9 107 L440.6 107.7 L442.6 108.6 L444 109.2 L445.5 109.8 L447.2 110.5 L448.9 111.2 L450.5 111.9 L451.9 112.6 L453.1 113.2 L454.6 114.5 L455.3 115.7 L457 116.5 L458.3 116.7 L459.9 116.7 L461.8 116.7 L463.7 116.7 L465.6 116.7 L467.4 116.6 L468.9 116.5 L469.9 116.5" fill="none" stroke="#2040ff" stroke-width="1.3" stroke-linejoin="round" stroke-linecap="round"/>
<path d="M368.5 218.2L368.5 220.2" stroke="#2040ff" stroke-width="0.8"/>
<path d="M370.4 214.6L370.4 216.6" stroke="#2040ff" stroke-width="0.8"/>
<path d="M372.5 210L372.5 212" stroke="#2040ff" stroke-width="0.8"/>
<path d="M374.1 205.4L374.1 207.4" stroke="#2040ff" stroke-width="0.8"/>
<path d="M375.5 201.1L375.5 203.1" stroke="#2040ff" stroke-width="0.8"/>
<path d="M376.9 196.3L376.9 198.3" stroke="#2040ff" stroke-width="0.8"/>
<path d="M378.3 191.5L378.3 193.5" stroke="#2040ff" stroke-width="0.8"/>
<path d="M379.6 186.9L379.6 188.9" stroke="#2040ff" stroke-width="0.8"/>
<path d="M381 182.4L381 184.4" stroke="#2040ff" stroke-width="0.8"/>
<path d="M382.4 178.1L382.4 180.1" stroke="#2040ff" stroke-width="0.8"/>
<path d="M383.7 173.8L383.7 175.8" stroke="#2040ff" stroke-width="0.8"/>
<path d="M384.9 169.5L384.9 171.5" stroke="#2040ff" stroke-width="0.8"/>
<path d="M386.2 165L386.2 167" stroke="#2040ff" stroke-width="0.8"/>
<path d="M387.4 160.2L387.4 162.2" stroke="#2040ff" stroke-width="0.8"/>
<path d="M388.5 155.5L388.5 157.5" stroke="#2040ff" stroke-width="0.8"/>
<path d="M389.5 151.1L389.5 153.1" stroke="#2040ff" stroke-width="0.8"/>
<path d="M390.6 146.7L390.6 148.7" stroke="#2040ff" stroke-width="0.8"/>
<path d="M391.7 142.6L391.7 144.6" stroke="#2040ff" stroke-width="0.8"/>
<path d="M392.9 138.1L392.9 140.1" stroke="#2040ff" stroke-width="0.8"/>
<path d="M393.9 133.9L393.9 135.9" stroke="#2040ff" stroke-width="0.8"/>
<path d="M395 129.1L395 131.1" stroke="#2040ff" stroke-width="0.8"/>
<path d="M396.2 124.4L396.2 126.4" stroke="#2040ff" stroke-width="0.8"/>
<path d="M397.5 119.8L397.5 121.8" stroke="#2040ff" stroke-width="0.8"/>
<path d="M399 115.1L399 117.1" stroke="#2040ff" stroke-width="0.8"/>
<path d="M400.7 111.2L400.7 113.2" stroke="#2040ff" stroke-width="0.8"/>
<path d="M403.3 107L403.3 109" stroke="#2040ff" stroke-width="0.8"/>
<path d="M406.5 103.3L406.5 105.3" stroke="#2040ff" stroke-width="0.8"/>
<path d="M410.6 99.9L410.6 101.9" stroke="#2040ff" stroke-width="0.8"/>
<path d="M414.4 98.6L414.4 100.6" stroke="#2040ff" stroke-width="0.8"/>
<path d="M419.5 99.2L419.5 101.2" stroke="#2040ff" stroke-width="0.8"/>
<path d="M424.6 100.7L424.6 102.7" stroke="#2040ff" stroke-width="0.8"/>
<path d="M429.9 102.4L429.9 104.4" stroke="#2040ff" stroke-width="0.8"/>
<path d="M434.7 104.7L434.7 106.7" stroke="#2040ff" stroke-width="0.8"/>
<path d="M439.6 106.7L439.6 108.7" stroke="#2040ff" stroke-width="0.8"/>
<path d="M444.5 108.8L444.5 110.8" stroke="#2040ff" stroke-width="0.8"/>
<path d="M449.5 110.9L449.5 112.9" stroke="#2040ff" stroke-width="0.8"/>
<path d="M453.6 113.5L453.6 115.5" stroke="#2040ff" stroke-width="0.8"/>
<path d="M457.3 115.7L457.3 117.7" stroke="#2040ff" stroke-width="0.8"/>
<path d="M462.7 115.7L462.7 117.7" stroke="#2040ff" stroke-width="0.8"/>
<path d="M467.9 115.5L467.9 117.5" stroke="#2040ff" stroke-width="0.8"/>
<path d="M366.4 226.1 L366.8 223.4 L366.7 223.6 L367.5 221.2 L367.5 221 L367.8 219.8 L368.4 216.5 L368.8 215.8 L369.2 214.3 L369.5 212.8 L370.1 210.7 L370.7 208.5 L371 207.6 L371.7 206 L371.9 203.6 L371.9 203.7 L372.9 201.5 L373.2 199.4 L374.1 198.3 L374.4 195.8 L374.8 195.6 L375.3 193.8 L376 192.9 L376.6 190.3 L376.7 188.8 L377.5 188.1 L378.3 187.5 L378.4 186.1 L379.4 185 L379.8 182.6 L380.5 182.4 L381 181.2 L381.4 178 L382.1 177.8 L382.6 175.8 L383.4 173.6 L383.6 173.2 L383.9 170.8 L384.2 170.4 L385 168.2 L385 167.3 L385.9 164.5 L386.2 164.2 L386.8 161.8 L387 160.2 L387.3 157.8 L387.7 157.2 L388.3 155.4 L388.7 153.9 L389 151.6 L389.9 150.9 L389.7 150.3 L390.9 147.2 L391.4 145.8 L392 143.6 L392.3 144.1 L393.4 141.8 L393.9 140.2 L394.6 139.3 L395.3 138.8 L396 137.6 L396.5 134.3 L397.3 133.1 L398 131.5 L399.1 131.8 L399.8 130.8 L400.7 128.1 L401.8 127.1 L402.6 127.2 L404.2 125.8 L405.8 126.2 L407.5 124.7 L409 124.1 L411 125.7 L412 124.1 L413.6 125.6 L415.3 128 L416.5 127.8 L417.8 130.6 L418.9 132.4 L419.7 132 L421.3 135 L422.8 135.1 L423.9 136.9 L424.8 137 L426.2 137.7 L427.7 138.7 L429 139.7 L430.7 140.3 L432.2 141.5 L433.2 143.7 L434.8 144.4 L436.7 144.9 L437.8 144.5 L439.3 146 L441.3 145.9 L442.6 145.7 L444.4 146.3 L446 145.9 L447.5 145.9 L449.5 147.1 L450.7 147.9 L452 147.1 L452.9 146.9" fill="none" stroke="#000000" stroke-width="2.2" stroke-linejoin="round" stroke-linecap="round"/>
<path d="M365 218.7L370 223.7M365 223.7L370 218.7" stroke="#000000" stroke-width="1.3" fill="none"/>
<path d="M365.9 214L370.9 219M365.9 219L370.9 214" stroke="#000000" stroke-width="1.3" fill="none"/>
<path d="M367.6 208.2L372.6 213.2M367.6 213.2L372.6 208.2" stroke="#000000" stroke-width="1.3" fill="none"/>
<path d="M369.2 203.5L374.2 208.5M369.2 208.5L374.2 203.5" stroke="#000000" stroke-width="1.3" fill="none"/>
<path d="M370.4 199L375.4 204M370.4 204L375.4 199" stroke="#000000" stroke-width="1.3" fill="none"/>
<path d="M371.9 193.3L376.9 198.3M371.9 198.3L376.9 193.3" stroke="#000000" stroke-width="1.3" fill="none"/>
<path d="M374.1 187.8L379.1 192.8M374.1 192.8L379.1 187.8" stroke="#000000" stroke-width="1.3" fill="none"/>
<path d="M375.9 183.6L380.9 188.6M375.9 188.6L380.9 183.6" stroke="#000000" stroke-width="1.3" fill="none"/>
<path d="M378 179.9L383 184.9M378 184.9L383 179.9" stroke="#000000" stroke-width="1.3" fill="none"/>
<path d="M378.9 175.5L383.9 180.5M378.9 180.5L383.9 175.5" stroke="#000000" stroke-width="1.3" fill="none"/>
<path d="M380.9 171.1L385.9 176.1M380.9 176.1L385.9 171.1" stroke="#000000" stroke-width="1.3" fill="none"/>
<path d="M382.5 165.7L387.5 170.7M382.5 170.7L387.5 165.7" stroke="#000000" stroke-width="1.3" fill="none"/>
<path d="M383.7 161.7L388.7 166.7M383.7 166.7L388.7 161.7" stroke="#000000" stroke-width="1.3" fill="none"/>
<path d="M384.5 157.7L389.5 162.7M384.5 162.7L389.5 157.7" stroke="#000000" stroke-width="1.3" fill="none"/>
<path d="M385.8 152.9L390.8 157.9M385.8 157.9L390.8 152.9" stroke="#000000" stroke-width="1.3" fill="none"/>
<path d="M387.4 148.4L392.4 153.4M387.4 153.4L392.4 148.4" stroke="#000000" stroke-width="1.3" fill="none"/>
<path d="M388.9 143.3L393.9 148.3M388.9 148.3L393.9 143.3" stroke="#000000" stroke-width="1.3" fill="none"/>
<path d="M390.9 139.3L395.9 144.3M390.9 144.3L395.9 139.3" stroke="#000000" stroke-width="1.3" fill="none"/>
<path d="M393.5 135.1L398.5 140.1M393.5 140.1L398.5 135.1" stroke="#000000" stroke-width="1.3" fill="none"/>
<path d="M394.8 130.6L399.8 135.6M394.8 135.6L399.8 130.6" stroke="#000000" stroke-width="1.3" fill="none"/>
<path d="M397.3 128.3L402.3 133.3M397.3 133.3L402.3 128.3" stroke="#000000" stroke-width="1.3" fill="none"/>
<path d="M399.3 124.6L404.3 129.6M399.3 129.6L404.3 124.6" stroke="#000000" stroke-width="1.3" fill="none"/>
<path d="M403.3 123.7L408.3 128.7M403.3 128.7L408.3 123.7" stroke="#000000" stroke-width="1.3" fill="none"/>
<path d="M408.5 123.2L413.5 128.2M408.5 128.2L413.5 123.2" stroke="#000000" stroke-width="1.3" fill="none"/>
<path d="M411.1 123.1L416.1 128.1M411.1 128.1L416.1 123.1" stroke="#000000" stroke-width="1.3" fill="none"/>
<path d="M414 125.3L419 130.3M414 130.3L419 125.3" stroke="#000000" stroke-width="1.3" fill="none"/>
<path d="M416.4 129.9L421.4 134.9M416.4 134.9L421.4 129.9" stroke="#000000" stroke-width="1.3" fill="none"/>
<path d="M418.8 132.5L423.8 137.5M418.8 137.5L423.8 132.5" stroke="#000000" stroke-width="1.3" fill="none"/>
<path d="M422.3 134.5L427.3 139.5M422.3 139.5L427.3 134.5" stroke="#000000" stroke-width="1.3" fill="none"/>
<path d="M426.5 137.2L431.5 142.2M426.5 142.2L431.5 137.2" stroke="#000000" stroke-width="1.3" fill="none"/>
<path d="M430.7 141.2L435.7 146.2M430.7 146.2L435.7 141.2" stroke="#000000" stroke-width="1.3" fill="none"/>
<path d="M435.3 142L440.3 147M435.3 147L440.3 142" stroke="#000000" stroke-width="1.3" fill="none"/>
<path d="M438.8 143.4L443.8 148.4M438.8 148.4L443.8 143.4" stroke="#000000" stroke-width="1.3" fill="none"/>
<path d="M443.5 143.4L448.5 148.4M443.5 148.4L448.5 143.4" stroke="#000000" stroke-width="1.3" fill="none"/>
<path d="M448.2 145.4L453.2 150.4M448.2 150.4L453.2 145.4" stroke="#000000" stroke-width="1.3" fill="none"/>
<path d="M366.9 224.9 L366.1 224.6 L366.3 224.8 L366 224.3 L365.9 223.4 L366.7 221.4 L366.4 220.7 L366.2 219.6 L366.3 220.1 L367 219 L365.9 216.8 L366.9 215.2 L366.7 214.5 L367 212.7 L366.8 212 L366 210.1 L366.8 209.6 L366.1 207.9 L367 206 L366.6 205.1 L366.1 205.4 L366.8 203.5 L366.1 202.5 L366.7 202.3 L366.3 200.8 L366.8 200.8 L367 199.6 L366.3 197.6 L367 197.2 L367 195.5 L367.1 195 L367.2 194.9 L366.8 192.2 L367.3 192 L367.3 190.5 L366.5 190.4 L366.8 188.1 L366.8 187.7 L366.4 186.4 L367 185.3 L366.6 184.6 L367.5 183.7 L366.9 182.3 L367 181.3 L366.7 180.4 L367.8 178.7 L367.3 177.7 L367.4 175.7 L367.9 175.1 L367 173.8 L367.1 174.1 L366.9 171.9 L367.8 171.1 L367 171 L367.7 170 L367.9 168.4 L368.1 168.7 L367.2 166.2 L367.9 165.6 L367.7 163.6 L368 162.4 L368.3 162.6 L367.9 160.9 L368.7 159.1 L369 159.4 L368.6 157.4 L369.2 156.6 L368.8 156.4 L369.4 154.4 L368.9 153.5 L369.3 153.8 L369.8 152.8 L370 151.9 L369.2 150.5 L370.4 150.4 L369.6 148.7 L370.2 147.9 L370.1 146.6 L370.2 145.9 L369.9 144.2 L371.1 144.4 L371.2 143.3 L371.2 143 L371.4 140.7 L371.2 140.3 L371.4 139.3 L371.5 139.2 L371.8 136.4 L371.7 136 L372.4 134.9 L371.7 134.7 L371.6 133.7 L372.7 132.6 L372 131.5 L372.4 129.9 L372 128.8 L372.4 128.2 L372.5 126.8 L372.4 126.2 L373.4 125.2 L373.2 124.1 L372.9 123.1 L373.4 121.7 L373.7 120.4 L373.4 118.9 L373.5 118.3 L373.8 117.4 L373.5 115.9 L374.7 114.7 L374.4 114.2 L374.2 114.2 L374.4 113 L374.4 110.5 L375.5 110 L374.7 108.8 L375.4 108.4 L375.2 106.5 L376.4 106.4 L375.6 104.8 L376.1 104.5 L376.6 103.9 L377.1 102.4 L377.2 101.9 L377.4 100.5 L377.6 99.9 L378 97.9 L378.2 96.6 L378.2 96.6 L378.1 96.3 L378.4 94.4 L378.8 94.2 L378.7 92.3 L378.7 91.4 L379.2 90.1 L379 89.6 L379.1 88.1 L379.7 88 L379.6 86.2 L379.4 84.9 L379.5 84.3 L380.2 82.4 L380.8 81.7 L380.9 81.6 L381.2 79.5 L380.7 79.7 L380.4 77.2 L381.3 77 L382 76.4 L381.8 75.8 L382 73.9 L382.4 72.6 L382.3 71.9 L382.6 71.4 L383.2 69.6 L382.8 68.3 L383.5 67.6 L384 67.1 L384.7 65.4 L384.4 64.7 L385.3 63.2 L385 63.2 L384.9 61.4 L386.1 61.4 L385.8 59.4 L386.5 59.7 L386.9 58.8 L387.5 56.6 L387.1 55.3 L388.1 54.7 L388.2 53.2 L389.2 53.2 L389.3 53.1 L390 50.7 L390.2 51.5 L390.9 49.9 L391.2 48.5 L393.1 48.2 L393.6 46.9 L394.1 46.8 L394.7 46.3 L395.8 46.2 L396.7 44.6 L397.3 43.4 L399.3 42.8 L399.7 42.7 L401.1 44 L402.1 44.2 L402.4 43.2 L404.4 44.2 L405.2 44.6 L405.5 44.8 L406.4 46.4 L408.1 45.9 L409 46.4 L409.6 47.7 L411.1 48.2 L411.9 47.9 L412.6 47.2 L414.4 48.9 L414.6 49.4 L416.1 48.7 L416.8 50.4 L417.5 50.9 L418.1 50.6 L419.5 51 L419.8 52.9 L420.9 53.5 L421.4 53.1 L422.4 53.8 L423.9 54.6 L424.3 54.9 L425.1 55.9 L425.8 55.8 L426.3 57.6 L427.5 57 L428.2 57.5 L429.3 57.4 L430.7 58.3 L431.1 59.3 L432 58.8 L433.9 58.8 L434.5 60.4 L436.1 59.4 L436.6 60.7 L437.7 61.4 L438.6 61.6 L440 60.5 L440.9 60.6 L442.2 61 L443.5 61.8 L443.9 61.4 L445.2 61.5 L446.6 61.5 L447.2 62.5 L447.9 63 L449.1 62.9 L450.4 62.4 L451.2 62 L452 63.4 L453.3 63.1 L454.1 62.9 L455.4 62.8 L456.4 62 L457.5 62.2 L458.4 63 L459.5 62.3 L461.3 62.9 L462.3 62.9 L462.4 61.6 L463.3 62.2 L465 61.4 L465.7 61.7 L467.1 60.8 L468.2 60.7 L468.9 60.2 L469.4 61.3 L471.3 60.7 L471.6 59.2 L472.9 59.2 L474.2 59.3 L474.9 58.9 L476.5 58.5 L477.6 59 L478 58.3 L478.1 63.7 L477.8 64.1 L476.7 64.5 L475.4 65.2 L474 64.3 L473.3 66.3 L472.1 65.4 L471.3 66.9 L470.2 65.9 L469 67 L468.1 66.3 L467 66.6 L466 67.3 L465 67.4 L464.4 67.2 L463.4 66.8 L461.7 67 L460.8 67.1 L460.1 68.4 L459.4 67.4 L458.4 68.4 L456.9 67.5 L456 68 L454.7 68.5 L453.2 68.9 L452.2 68.6 L451.8 68.5 L450.7 68.7 L449.3 69.5 L448.9 68.6 L447.9 69.5 L446.1 69.4 L445.4 68.8 L444.7 70.4 L443.3 69.3 L442.4 71.1 L441.2 70.1 L440.1 71.6 L438.9 70.7 L438.3 71 L436.8 71.4 L436 71.2 L435.5 71.9 L433.5 72.6 L432.9 73.5 L431.9 73.6 L431 74.1 L429.1 72.7 L429.3 73.4 L428.3 72.9 L427 73.2 L425.4 72.6 L424.1 72 L423.5 72.3 L422.3 72.4 L420.7 73 L420.1 71.5 L419.1 71.6 L418.1 71.6 L416.8 72.7 L415.5 71.4 L415.1 71.4 L414.2 71 L413.1 70.7 L411.8 70.7 L411.8 70.1 L410.7 69.8 L409.3 68.1 L408.8 68 L408.1 67.5 L406.9 66.8 L406.5 64.8 L405.1 65.9 L404 64.7 L403.2 64.1 L402.4 63.1 L400.4 62.4 L399.8 63.5 L398.6 61.6 L397.2 62.6 L396.7 62.5 L396.1 63.3 L395.2 63.6 L395.2 63.9 L394.2 66.3 L393.6 66.4 L394 67.9 L393.4 68.6 L392.4 68.9 L392.2 70 L391 71.5 L391.2 70.8 L390.3 73.1 L389.6 72.7 L389.8 73.5 L388.9 76.1 L388.6 77.1 L387.8 77.1 L387.4 78.8 L387 79.4 L386.7 80.8 L386.4 80.3 L387.1 82.3 L386 83 L386.4 83.7 L385.4 85.9 L385.7 86.8 L385.5 86.6 L385.4 87.5 L385.2 90.2 L384.2 90.3 L384.7 92.1 L384 93.1 L383.6 94 L384.3 95.3 L384 95.7 L383.8 96.7 L383.3 97.4 L382.5 98.2 L382 99.7 L382.1 100.3 L382.5 100.6 L382.3 101.7 L382.3 103.4 L381.4 103.6 L380.9 105.7 L381.8 106.4 L381.3 106.3 L380.9 108.3 L380.5 109.6 L380.3 109.3 L380.3 110.5 L379.6 112.5 L379.6 113.4 L379.8 114.3 L379.7 114.6 L379.2 115.2 L378.9 117.5 L379.7 117.9 L378.7 118.2 L379.1 119.5 L378.8 120.8 L378.6 121.9 L378.1 123 L378.7 123.6 L377.8 124.2 L378 126.5 L378.3 126.5 L378.5 127.9 L377.6 129.1 L377.9 130.3 L378 130.4 L378 132.5 L377.8 134.3 L377.8 135.3 L376.9 135.6 L376.7 136.1 L377 137.5 L376.6 138.6 L377.3 139 L376.9 141.1 L376.4 141.3 L376.6 142.2 L376.2 143.6 L376.7 144.1 L376.7 145.8 L376.5 145.2 L376.1 146.5 L375.6 147.2 L376 149.9 L376.2 149.4 L376 150.2 L375.4 151.6 L375.7 153 L376.2 154.8 L376 155.4 L375.6 156.3 L375.2 156.2 L375.2 158.7 L375.2 159.2 L375.6 159.9 L374.9 160.7 L375.5 162.8 L374.6 164 L375.3 165.3 L374.4 165.9 L375.1 166.4 L374.1 168.4 L374.2 168.1 L374.6 169.3 L374.5 171.5 L374.8 172 L374.2 171.8 L374 173.2 L373.5 174.8 L374.5 176 L373.3 177.3 L374.3 178.4 L373.1 178.2 L373.3 179.6 L373.1 181.2 L373.2 181.7 L372.8 183.9 L372.5 184.2 L372.8 185.2 L372.3 186.5 L373 188.5 L372.7 189 L372.1 190.4 L372.4 191.7 L372.1 192.9 L371.7 193.5 L371.8 195.1 L372.5 195.2 L371.9 196.4 L371.5 197.1 L371.9 198.9 L371.4 198.9 L371.4 199.9 L370.9 201.2 L371.4 201.9 L371.8 203.5 L370.9 204.2 L371.4 205.5 L371.4 204.9 L371.5 205.8 L370.8 208.1 L370.3 209.9 L370.9 210.9 L370.9 212.9 L371.1 214 L371.1 214.8 L370.3 215.3 L370.8 217.8 L370.7 218.1 L370.8 218.5 L370.1 220.9 L370 221.6 L369.9 221.5 L370.9 222.9 L370.2 222.6 L370.8 224.5 L370.2 223.8 L370.3 225.5Z" fill="#000" stroke="#000" stroke-width="1.2" stroke-linejoin="round"/>
<path d="M396.6 56 L398.5 56.2 L401.1 56.8 L403.2 58.5 L405.6 60.5 L407.5 61.8 L409.5 63.1 L411.6 64.3 L413.6 65.4 L415.6 66.4 L417.6 67.3 L419.7 68 L421.7 68.6 L423.6 69 L426.3 69.4 L428.1 69.5" fill="none" stroke="#fff" stroke-width="0.8" stroke-dasharray="3 2"/>
<path d="M402.6 51.5 L404.1 51.8 L406.4 52.3 L408.6 53 L410.6 54.1 L412.6 55.4 L414.6 56.8 L416.6 58 L418.6 59.3 L420.6 60.5 L422.9 61.9 L425.1 63.3 L426.6 64.3" fill="none" stroke="#fff" stroke-width="0.7" stroke-dasharray="3 2"/>
<path d="M456.5 62.3 L457.2 62.8 L458.4 62.1 L459.7 62.3 L460.4 61.9 L462.1 63.1 L463.1 61.3 L464.9 61.5 L466.4 61.7 L467.5 61.2 L468.9 61.2 L469.9 61.7 L471 61.1 L472.3 60.7 L473.8 60.8 L474.9 59.9 L476.3 60.2 L477.9 59.3 L478.8 58.3 L480 58.2 L481.2 57.4 L482.7 57.8 L483.7 58.1 L484.8 56.9 L485.9 57.1 L487.5 55.6 L488.5 56.2 L489.4 54.9 L490.6 55.4 L491.5 54.6 L492.9 53.7 L494 53.9 L494.9 53.3 L496.1 52.4 L497.4 50.6 L498.5 51.4 L499.3 49 L500.3 50.1 L501.3 49.4 L502.5 48.5 L503.7 47 L505.3 46.5 L506.3 47.6 L507.8 47.2 L509.2 45.3 L510.1 46.4 L511.6 44.7 L512.7 44.7 L513.8 44.1 L514.8 45.2 L516.2 44.6 L517.2 43.4 L518.3 42.8 L519.4 42.8 L520.5 42.4 L521.8 40.8 L522.8 41 L524.2 40.3 L525 41 L526.5 40.2 L527.3 38.8 L528.4 38.2 L529.4 38.6 L530.7 38.2 L531.8 36.7 L533.1 37.4 L534.2 36.6 L535.5 36.8 L536.8 35.7 L537.7 34.4 L538.8 35 L539.9 33.4 L540.9 32.5 L542.6 31.5 L543.5 32.6 L544.4 31.4 L545.6 30.1 L546.8 29.1 L548.1 29.7 L549.1 27.7 L550.1 27.4 L551.1 27.1 L552 27.1 L552.9 26 L554.3 25.1 L555.5 25.3 L556.6 24.2 L558.1 23.3 L559.3 23 L560.5 23 L562 22 L563.5 22 L564.7 21.7 L566 21.8 L567.1 21.2" fill="none" stroke="#000000" stroke-width="1.9" stroke-linejoin="round" stroke-linecap="round"/>
<path d="M462.1 60.4L462.1 64.2M460.2 62.3L464 62.3" stroke="#000000" stroke-width="1.0"/>
<path d="M466.4 59.1L466.4 62.9M464.5 61L468.3 61" stroke="#000000" stroke-width="1.0"/>
<path d="M471 58.9L471 62.7M469.1 60.8L472.9 60.8" stroke="#000000" stroke-width="1.0"/>
<path d="M476.3 58.1L476.3 61.9M474.4 60L478.2 60" stroke="#000000" stroke-width="1.0"/>
<path d="M481.2 54.1L481.2 57.9M479.3 56L483.1 56" stroke="#000000" stroke-width="1.0"/>
<path d="M485.9 54.4L485.9 58.2M484 56.3L487.8 56.3" stroke="#000000" stroke-width="1.0"/>
<path d="M490.6 52.7L490.6 56.5M488.7 54.6L492.5 54.6" stroke="#000000" stroke-width="1.0"/>
<path d="M494.9 50.6L494.9 54.4M493 52.5L496.8 52.5" stroke="#000000" stroke-width="1.0"/>
<path d="M499.3 45.9L499.3 49.7M497.4 47.8L501.2 47.8" stroke="#000000" stroke-width="1.0"/>
<path d="M503.7 44.8L503.7 48.6M501.8 46.7L505.6 46.7" stroke="#000000" stroke-width="1.0"/>
<path d="M509.2 43.2L509.2 47M507.3 45.1L511.1 45.1" stroke="#000000" stroke-width="1.0"/>
<path d="M513.8 41L513.8 44.8M511.9 42.9L515.7 42.9" stroke="#000000" stroke-width="1.0"/>
<path d="M518.3 40.2L518.3 44M516.4 42.1L520.2 42.1" stroke="#000000" stroke-width="1.0"/>
<path d="M522.8 38.2L522.8 42M520.9 40.1L524.7 40.1" stroke="#000000" stroke-width="1.0"/>
<path d="M527.3 35.7L527.3 39.5M525.4 37.6L529.2 37.6" stroke="#000000" stroke-width="1.0"/>
<path d="M531.8 33.5L531.8 37.3M529.9 35.4L533.7 35.4" stroke="#000000" stroke-width="1.0"/>
<path d="M536.8 32.5L536.8 36.3M534.9 34.4L538.7 34.4" stroke="#000000" stroke-width="1.0"/>
<path d="M540.9 30.5L540.9 34.3M539 32.4L542.8 32.4" stroke="#000000" stroke-width="1.0"/>
<path d="M545.6 27.6L545.6 31.4M543.7 29.5L547.5 29.5" stroke="#000000" stroke-width="1.0"/>
<path d="M549.1 24.5L549.1 28.3M547.2 26.4L551 26.4" stroke="#000000" stroke-width="1.0"/>
<path d="M554.3 21.9L554.3 25.7M552.4 23.8L556.2 23.8" stroke="#000000" stroke-width="1.0"/>
<path d="M559.3 20.9L559.3 24.7M557.4 22.8L561.2 22.8" stroke="#000000" stroke-width="1.0"/>
<path d="M564.7 19.5L564.7 23.3M562.8 21.4L566.6 21.4" stroke="#000000" stroke-width="1.0"/>
<path d="M456.6 67.4 L457.4 68.4 L458.4 67.7 L459.2 67.6 L460.9 67.9 L461.9 67.4 L463.5 67.7 L464.5 67.4 L466 67 L467.3 66.5 L468.7 66.3 L469.8 65.8 L471.3 65.3 L472.4 66 L473.7 65.1 L475 65.6 L476.2 64.9 L477.8 63.8 L478.9 64.4 L480.2 63.4 L481.2 63.1 L482.5 63.2 L483.7 62.3 L485 62.5 L486 61.5 L487.3 61.9 L488.2 61.6 L489.6 60.2 L490.7 59.7 L491.5 59.9 L492.7 59.1 L494 59.1 L495.2 57.2 L496.2 57.3 L497.2 57.3 L498.3 56.1 L499.6 55.4 L500.5 55 L501.7 54.6 L502.8 53.6 L503.6 53.6 L505 53.2 L506.2 51.7 L507.1 51.1 L508.6 50.7 L509.4 51.2 L510.8 49.6 L511.9 50.2 L512.9 48.6 L513.9 48.7 L515.2 48.8 L516.6 47.8 L517.4 46.1 L518.7 44.7 L520 44.3 L520.5 43.6 L521.3 43.9 L522.9 41.8 L523.4 40.3" fill="none" stroke="#000000" stroke-width="1.9" stroke-linejoin="round" stroke-linecap="round"/>
<path d="M461.9 66L461.9 69.8M460 67.9L463.8 67.9" stroke="#000000" stroke-width="1.0"/>
<path d="M467.3 65.9L467.3 69.7M465.4 67.8L469.2 67.8" stroke="#000000" stroke-width="1.0"/>
<path d="M472.4 65.3L472.4 69.1M470.5 67.2L474.3 67.2" stroke="#000000" stroke-width="1.0"/>
<path d="M477.8 63.2L477.8 67M475.9 65.1L479.7 65.1" stroke="#000000" stroke-width="1.0"/>
<path d="M482.5 61.7L482.5 65.5M480.6 63.6L484.4 63.6" stroke="#000000" stroke-width="1.0"/>
<path d="M487.3 60.3L487.3 64.1M485.4 62.2L489.2 62.2" stroke="#000000" stroke-width="1.0"/>
<path d="M491.5 58.1L491.5 61.9M489.6 60L493.4 60" stroke="#000000" stroke-width="1.0"/>
<path d="M495.2 56.1L495.2 59.9M493.3 58L497.1 58" stroke="#000000" stroke-width="1.0"/>
<path d="M499.6 54.1L499.6 57.9M497.7 56L501.5 56" stroke="#000000" stroke-width="1.0"/>
<path d="M505 52L505 55.8M503.1 53.9L506.9 53.9" stroke="#000000" stroke-width="1.0"/>
<path d="M509.4 50.1L509.4 53.9M507.5 52L511.3 52" stroke="#000000" stroke-width="1.0"/>
<path d="M512.9 47.6L512.9 51.4M511 49.5L514.8 49.5" stroke="#000000" stroke-width="1.0"/>
<path d="M517.4 44.7L517.4 48.5M515.5 46.6L519.3 46.6" stroke="#000000" stroke-width="1.0"/>
<path d="M522.9 41.1L522.9 44.9M521 43L524.8 43" stroke="#000000" stroke-width="1.0"/>
<g stroke="#000" stroke-width="1.6" fill="none" stroke-linecap="square">
<path d="M366.5 15.6L577 15.6L577 225.2L366.5 225.2Z"/>
</g>
<g stroke="#000" stroke-width="1.2" fill="none">
<path d="M372.5 225.2L372.5 220.2M372.5 15.6L372.5 20.6"/>
<path d="M378.5 225.2L378.5 220.2M378.5 15.6L378.5 20.6"/>
<path d="M384.5 225.2L384.5 220.2M384.5 15.6L384.5 20.6"/>
<path d="M390.6 225.2L390.6 220.2M390.6 15.6L390.6 20.6"/>
<path d="M396.6 225.2L396.6 216.7M396.6 15.6L396.6 24.1"/>
<path d="M402.6 225.2L402.6 220.2M402.6 15.6L402.6 20.6"/>
<path d="M408.6 225.2L408.6 220.2M408.6 15.6L408.6 20.6"/>
<path d="M414.6 225.2L414.6 220.2M414.6 15.6L414.6 20.6"/>
<path d="M420.6 225.2L420.6 220.2M420.6 15.6L420.6 20.6"/>
<path d="M426.6 225.2L426.6 216.7M426.6 15.6L426.6 24.1"/>
<path d="M432.7 225.2L432.7 220.2M432.7 15.6L432.7 20.6"/>
<path d="M438.7 225.2L438.7 220.2M438.7 15.6L438.7 20.6"/>
<path d="M444.7 225.2L444.7 220.2M444.7 15.6L444.7 20.6"/>
<path d="M450.7 225.2L450.7 220.2M450.7 15.6L450.7 20.6"/>
<path d="M456.7 225.2L456.7 216.7M456.7 15.6L456.7 24.1"/>
<path d="M462.7 225.2L462.7 220.2M462.7 15.6L462.7 20.6"/>
<path d="M468.7 225.2L468.7 220.2M468.7 15.6L468.7 20.6"/>
<path d="M474.8 225.2L474.8 220.2M474.8 15.6L474.8 20.6"/>
<path d="M480.8 225.2L480.8 220.2M480.8 15.6L480.8 20.6"/>
<path d="M486.8 225.2L486.8 216.7M486.8 15.6L486.8 24.1"/>
<path d="M492.8 225.2L492.8 220.2M492.8 15.6L492.8 20.6"/>
<path d="M498.8 225.2L498.8 220.2M498.8 15.6L498.8 20.6"/>
<path d="M504.8 225.2L504.8 220.2M504.8 15.6L504.8 20.6"/>
<path d="M510.8 225.2L510.8 220.2M510.8 15.6L510.8 20.6"/>
<path d="M516.9 225.2L516.9 216.7M516.9 15.6L516.9 24.1"/>
<path d="M522.9 225.2L522.9 220.2M522.9 15.6L522.9 20.6"/>
<path d="M528.9 225.2L528.9 220.2M528.9 15.6L528.9 20.6"/>
<path d="M534.9 225.2L534.9 220.2M534.9 15.6L534.9 20.6"/>
<path d="M540.9 225.2L540.9 220.2M540.9 15.6L540.9 20.6"/>
<path d="M546.9 225.2L546.9 216.7M546.9 15.6L546.9 24.1"/>
<path d="M552.9 225.2L552.9 220.2M552.9 15.6L552.9 20.6"/>
<path d="M559 225.2L559 220.2M559 15.6L559 20.6"/>
<path d="M565 225.2L565 220.2M565 15.6L565 20.6"/>
<path d="M571 225.2L571 220.2M571 15.6L571 20.6"/>
<path d="M366.5 217.7L371.5 217.7M577 217.7L572 217.7"/>
<path d="M366.5 210.2L371.5 210.2M577 210.2L572 210.2"/>
<path d="M366.5 202.7L371.5 202.7M577 202.7L572 202.7"/>
<path d="M366.5 195.3L375 195.3M577 195.3L568.5 195.3"/>
<path d="M366.5 187.8L371.5 187.8M577 187.8L572 187.8"/>
<path d="M366.5 180.3L371.5 180.3M577 180.3L572 180.3"/>
<path d="M366.5 172.8L371.5 172.8M577 172.8L572 172.8"/>
<path d="M366.5 165.3L375 165.3M577 165.3L568.5 165.3"/>
<path d="M366.5 157.8L371.5 157.8M577 157.8L572 157.8"/>
<path d="M366.5 150.3L371.5 150.3M577 150.3L572 150.3"/>
<path d="M366.5 142.9L371.5 142.9M577 142.9L572 142.9"/>
<path d="M366.5 135.4L375 135.4M577 135.4L568.5 135.4"/>
<path d="M366.5 127.9L371.5 127.9M577 127.9L572 127.9"/>
<path d="M366.5 120.4L371.5 120.4M577 120.4L572 120.4"/>
<path d="M366.5 112.9L371.5 112.9M577 112.9L572 112.9"/>
<path d="M366.5 105.4L375 105.4M577 105.4L568.5 105.4"/>
<path d="M366.5 97.9L371.5 97.9M577 97.9L572 97.9"/>
<path d="M366.5 90.5L371.5 90.5M577 90.5L572 90.5"/>
<path d="M366.5 83L371.5 83M577 83L572 83"/>
<path d="M366.5 75.5L375 75.5M577 75.5L568.5 75.5"/>
<path d="M366.5 68L371.5 68M577 68L572 68"/>
<path d="M366.5 60.5L371.5 60.5M577 60.5L572 60.5"/>
<path d="M366.5 53L371.5 53M577 53L572 53"/>
<path d="M366.5 45.5L375 45.5M577 45.5L568.5 45.5"/>
<path d="M366.5 38.1L371.5 38.1M577 38.1L572 38.1"/>
<path d="M366.5 30.6L371.5 30.6M577 30.6L572 30.6"/>
<path d="M366.5 23.1L371.5 23.1M577 23.1L572 23.1"/>
</g>
<rect x="458.5" y="140.5" width="100" height="83.3" fill="#fff"/>
<path d="M460.4 142.7L503 142.7" stroke="#1a841a" stroke-width="1.8"/>
<text x="507.6" y="148.2" font-family="Liberation Sans, Arial, sans-serif" font-size="12" fill="#1a841a">8.2 e-4 s<tspan font-size="9.8" dy="-4.6" dx="0">-1</tspan></text>
<path d="M460.4 159.9L503 159.9" stroke="#ff1a1a" stroke-width="1.4"/>
<text x="507.6" y="165.4" font-family="Liberation Sans, Arial, sans-serif" font-size="12" fill="#ff1a1a">8.3 e-3s<tspan font-size="9.8" dy="-4.6" dx="0">-1</tspan></text>
<path d="M460.4 177.7L503 177.7" stroke="#000000" stroke-width="1.4"/>
<path d="M478.9 174.9L484.5 180.5M478.9 180.5L484.5 174.9" stroke="#000000" stroke-width="1.2" fill="none"/>
<text x="507.6" y="183.2" font-family="Liberation Sans, Arial, sans-serif" font-size="12" fill="#000000">8.6 e-5 s<tspan font-size="9.8" dy="-4.6" dx="0">-1</tspan></text>
<path d="M460.4 194.9L503 194.9" stroke="#2040ff" stroke-width="1.4"/>
<text x="507.6" y="200.4" font-family="Liberation Sans, Arial, sans-serif" font-size="12" fill="#2040ff">1.4s<tspan font-size="9.8" dy="-4.6" dx="0">-1</tspan></text>
<path d="M460.4 211.7L503 211.7" stroke="#000000" stroke-width="1.4"/>
<text x="507.6" y="217.2" font-family="Liberation Sans, Arial, sans-serif" font-size="12" fill="#000000">Hop bar</text>
<g font-family="Liberation Sans, Arial, sans-serif" font-size="12" fill="#000">
<text x="366.5" y="241.2" text-anchor="middle">0</text>
<text x="396.6" y="241.2" text-anchor="middle">0.1</text>
<text x="426.6" y="241.2" text-anchor="middle">0.2</text>
<text x="456.7" y="241.2" text-anchor="middle">0.3</text>
<text x="486.8" y="241.2" text-anchor="middle">0.4</text>
<text x="516.9" y="241.2" text-anchor="middle">0.5</text>
<text x="546.9" y="241.2" text-anchor="middle">0.6</text>
<text x="577" y="241.2" text-anchor="middle">0.7</text>
<text x="360.5" y="231.9" text-anchor="end">0</text>
<text x="360.5" y="202" text-anchor="end">20</text>
<text x="360.5" y="172" text-anchor="end">40</text>
<text x="360.5" y="142.1" text-anchor="end">60</text>
<text x="360.5" y="112.1" text-anchor="end">80</text>
<text x="360.5" y="82.2" text-anchor="end">100</text>
<text x="360.5" y="52.2" text-anchor="end">120</text>
<text x="360.5" y="22.3" text-anchor="end">140</text>
</g>
<text x="470.6" y="261.7" text-anchor="middle" font-family="Liberation Sans, Arial, sans-serif" font-weight="bold" font-size="14">True strain</text>
<text x="0" y="0" transform="translate(333.4 124.8) rotate(-90)" text-anchor="middle" font-family="Liberation Sans, Arial, sans-serif" font-weight="bold" font-size="14.4">True stress /&#160; MPa</text>
<text x="310.8" y="16" font-family="Liberation Serif, Times New Roman, serif" font-weight="bold" font-size="18">(b)</text>
<path d="M53.6 577.4 L53.7 576.5 L53.9 575.5 L54 574.3 L54.2 573 L54.4 571.5 L54.6 569.9 L54.8 568.3 L55 566.6 L55.2 564.8 L55.5 563 L55.7 561.3 L56 559.5 L56.3 557.8 L56.5 556.2 L56.8 554.6 L57.1 553.2 L57.5 551.5 L57.9 549.8 L58.3 548.1 L58.7 546.4 L59.1 544.7 L59.6 543 L60 541.4 L60.5 539.9 L61 538.4 L61.4 537 L61.9 535.6 L62.3 534.4 L62.7 533.2 L63.6 531.1 L64.4 529.3 L65.2 527.9 L66 526.7 L66.8 525.7 L67.6 524.8 L68.7 523.5 L69.7 522.8 L71.8 522.5 L72.8 522.4 L73.9 522.5 L75 522.5 L76.2 522.7 L77.6 522.8 L79.3 523 L81.2 523.1 L83.5 523.2 L86.1 523.3 L87.3 523.4 L88.5 523.4 L89.7 523.4 L91.1 523.4 L92.5 523.5 L94 523.5 L95.5 523.5 L97.1 523.5 L98.7 523.5 L100.4 523.6 L102.1 523.6 L103.8 523.6 L105.5 523.6 L107.2 523.6 L108.9 523.6 L110.6 523.7 L112.4 523.7 L114.1 523.7 L115.7 523.7 L117.4 523.7 L119 523.7 L120.6 523.7 L122.1 523.7 L123.6 523.7 L125.2 523.8 L126.9 523.8 L128.5 523.8 L130.1 523.8 L131.8 523.8 L133.4 523.8 L135 523.8 L136.6 523.8 L138.2 523.8 L139.8 523.8 L141.3 523.7 L142.8 523.7 L144.3 523.7 L145.8 523.7 L147.3 523.7 L148.7 523.7 L150.1 523.7 L151.5 523.7 L152.8 523.7 L154.1 523.7 L155.4 523.6 L157.4 523.6 L159.2 523.6 L160.9 523.6 L162.5 523.6 L164.1 523.5 L165.6 523.5 L167.1 523.5 L168.5 523.4 L170 523.4 L171.4 523.4 L172.9 523.3 L174.5 523.3 L176 523.2 L177.6 523.2 L179.1 523.1 L180.6 523.1 L182.2 523 L183.8 523 L185.3 522.9 L186.9 522.8 L188.5 522.8 L190 522.7 L191.6 522.6 L193.2 522.5 L194.7 522.5 L196.2 522.4 L197.7 522.3 L199.3 522.2 L200.9 522.1 L202.5 522 L204 521.8 L205.6 521.7 L207.1 521.6 L208.6 521.5 L210.2 521.3 L211.7 521.2 L213.2 521.1 L214.8 520.9 L216.4 520.8 L218 520.6 L219.5 520.4 L221.1 520.3 L222.6 520.1 L224.2 519.9 L225.7 519.7 L227.3 519.5 L228.8 519.3 L230.4 519.1 L232 518.9 L233.6 518.7 L235.2 518.5 L236.8 518.4 L238.4 518.2 L240.1 518.1 L241.6 517.9 L243.3 517.8 L245 517.7 L246.8 517.6 L248.5 517.6 L250.3 517.5 L252.1 517.4 L253.9 517.3 L255.6 517.3 L257.2 517.2 L258.7 517.1 L260.1 517.1 L261.4 517 L262.5 517 L263.5 516.9 L265.9 516.4" fill="none" stroke="#000000" stroke-width="1.4" stroke-linejoin="round" stroke-linecap="round"/>
<path d="M58.3 546.3L58.3 549.9M56.5 548.1L60.1 548.1" stroke="#000000" stroke-width="1.1"/>
<path d="M65.2 526.1L65.2 529.7M63.4 527.9L67 527.9" stroke="#000000" stroke-width="1.1"/>
<path d="M83.5 521.4L83.5 525M81.7 523.2L85.3 523.2" stroke="#000000" stroke-width="1.1"/>
<path d="M103.8 521.8L103.8 525.4M102 523.6L105.6 523.6" stroke="#000000" stroke-width="1.1"/>
<path d="M125.2 522L125.2 525.6M123.4 523.8L127 523.8" stroke="#000000" stroke-width="1.1"/>
<path d="M145.8 521.9L145.8 525.5M144 523.7L147.6 523.7" stroke="#000000" stroke-width="1.1"/>
<path d="M167.1 521.7L167.1 525.3M165.3 523.5L168.9 523.5" stroke="#000000" stroke-width="1.1"/>
<path d="M188.5 521L188.5 524.6M186.7 522.8L190.3 522.8" stroke="#000000" stroke-width="1.1"/>
<path d="M208.6 519.7L208.6 523.3M206.8 521.5L210.4 521.5" stroke="#000000" stroke-width="1.1"/>
<path d="M228.8 517.5L228.8 521.1M227 519.3L230.6 519.3" stroke="#000000" stroke-width="1.1"/>
<path d="M250.3 515.7L250.3 519.3M248.5 517.5L252.1 517.5" stroke="#000000" stroke-width="1.1"/>
<circle cx="133" cy="523.4" r="1.8" fill="#000000"/>
<circle cx="158.6" cy="523.4" r="1.8" fill="#000000"/>
<circle cx="214.5" cy="521.1" r="1.8" fill="#000000"/>
<path d="M53.6 577.4 L53.7 576.5 L53.9 575.4 L54 574.2 L54.2 572.8 L54.4 571.2 L54.6 569.6 L54.8 567.9 L55 566.1 L55.2 564.3 L55.5 562.4 L55.7 560.6 L56 558.8 L56.3 557 L56.5 555.3 L56.8 553.7 L57.1 552.2 L57.4 550.5 L57.8 548.8 L58.2 547.2 L58.6 545.5 L59 543.9 L59.4 542.2 L59.8 540.6 L60.2 539.1 L60.7 537.6 L61.1 536.2 L61.5 534.8 L61.9 533.5 L62.3 532.2 L62.7 531.1 L63.4 529.1 L64.1 527.4 L64.8 525.9 L65.5 524.7 L66.2 523.6 L66.9 522.6 L67.6 521.6 L68.6 520.2 L69.5 519 L70.7 518.3 L72.5 518 L73.6 518 L74.8 518.1 L76.2 518.4 L77.7 518.7 L79.3 519.1 L80.9 519.5 L82.6 519.9 L84.4 520.3 L86.1 520.6 L87.5 520.8 L88.9 521 L90.4 521.1 L91.9 521.3 L93.4 521.5 L94.9 521.7 L96.5 521.8 L98.1 522 L99.7 522.1 L101.2 522.2 L102.8 522.4 L104.3 522.5 L105.8 522.6 L107.1 522.7 L108.4 522.8 L109.6 522.9 L110.8 522.9 L112.1 523 L113.4 523.1 L114.9 523.1 L116.5 523.2 L118.3 523.2 L120.3 523.3 L122.5 523.3 L123.7 523.3 L125 523.4 L126.3 523.4 L127.8 523.4 L129.3 523.4 L130.9 523.4 L132.6 523.5 L134.3 523.5 L136.1 523.5 L137.8 523.5 L139.6 523.5 L141.4 523.5 L143.2 523.5 L145 523.5 L146.8 523.6 L148.5 523.6 L150.2 523.6 L151.8 523.6 L153.4 523.6 L154.9 523.6 L156.3 523.6 L157.6 523.6 L158.8 523.6 L159.9 523.6 L160.9 523.6 L161.7 523.6" fill="none" stroke="#2040ff" stroke-width="1.4" stroke-linejoin="round" stroke-linecap="round"/>
<path d="M57.4 548.9L57.4 552.1M55.8 550.5L59 550.5" stroke="#2040ff" stroke-width="1.0"/>
<path d="M62.7 529.5L62.7 532.7M61.1 531.1L64.3 531.1" stroke="#2040ff" stroke-width="1.0"/>
<path d="M76.2 516.8L76.2 520M74.6 518.4L77.8 518.4" stroke="#2040ff" stroke-width="1.0"/>
<path d="M96.5 520.2L96.5 523.4M94.9 521.8L98.1 521.8" stroke="#2040ff" stroke-width="1.0"/>
<path d="M116.5 521.6L116.5 524.8M114.9 523.2L118.1 523.2" stroke="#2040ff" stroke-width="1.0"/>
<path d="M137.8 521.9L137.8 525.1M136.2 523.5L139.4 523.5" stroke="#2040ff" stroke-width="1.0"/>
<path d="M158.8 522L158.8 525.2M157.2 523.6L160.4 523.6" stroke="#2040ff" stroke-width="1.0"/>
<path d="M53.6 577.4 L53.7 576.5 L53.8 575.5 L54 574.3 L54.1 573 L54.3 571.5 L54.5 569.9 L54.7 568.3 L54.9 566.6 L55.1 564.8 L55.3 563 L55.6 561.2 L55.8 559.5 L56.1 557.7 L56.3 556 L56.6 554.3 L56.8 552.8 L57.1 551.3 L57.4 549.6 L57.8 547.9 L58.2 546.3 L58.6 544.6 L59 543 L59.4 541.4 L59.8 539.9 L60.2 538.3 L60.6 536.8 L61.1 535.3 L61.5 533.8 L61.9 532.4 L62.3 531 L62.7 529.6 L63.2 527.9 L63.7 526.2 L64.1 524.5 L64.6 522.8 L65.1 521.1 L65.6 519.6 L66 518.1 L66.5 516.7 L67 515.5 L67.5 514.3 L67.9 513.3 L69.2 511.4 L70.3 510.4 L71.6 509.9 L73.5 509.8 L74.7 509.8 L76.1 510 L77.5 510.3 L79.1 510.7 L80.7 511.1 L82.4 511.6 L84.2 512 L86.1 512.4 L87.5 512.6 L88.8 512.9 L90.3 513.1 L91.8 513.3 L93.3 513.6 L94.9 513.8 L96.5 514.1 L98.1 514.3 L99.6 514.5 L101.2 514.7 L102.8 514.9 L104.3 515.1 L105.8 515.3 L107.4 515.4 L108.9 515.6 L110.4 515.7 L111.9 515.8 L113.4 515.9 L114.9 516.1 L116.5 516.2 L118 516.3 L119.5 516.4 L121 516.5 L122.5 516.6 L124 516.7 L125.6 516.8 L127.1 517 L128.6 517.1 L130.1 517.2 L131.6 517.3 L133.2 517.5 L134.7 517.6 L136.2 517.7 L137.7 517.8 L139.2 517.9 L140.7 518 L142.3 518 L144 518.1 L145.6 518.2 L147.2 518.2 L148.9 518.3 L150.5 518.3 L152.1 518.3 L153.7 518.4 L155.3 518.4 L156.9 518.5 L158.6 518.5 L160.1 518.5 L161.7 518.6 L163.2 518.6 L164.8 518.6 L166.3 518.7 L167.8 518.7 L169.4 518.7 L171 518.7 L172.6 518.8 L174.3 518.8 L176 518.8 L177.5 518.8 L178.9 518.8 L180.4 518.9 L182 518.9 L183.5 518.9 L185.1 518.9 L186.7 518.9 L188.3 518.9 L189.9 519 L191.5 519 L193.1 519 L194.7 519 L196.2 519 L197.7 519 L199.3 519 L200.9 519 L202.5 519 L204.1 519 L205.6 519 L207.1 519 L208.7 519 L210.2 519 L211.8 519 L213.3 519 L214.9 519 L216.4 519 L218 519 L219.6 519 L221.3 519.1 L222.9 519.1 L224.6 519.1 L226.3 519.1 L228 519.2 L229.7 519.2 L231.3 519.2 L232.9 519.3 L234.5 519.3 L236.1 519.4 L237.6 519.5 L239 519.5 L240.8 519.7 L242.5 519.8 L244.2 519.9 L245.9 520.1 L247.5 520.2 L249 520.4 L250.4 520.6 L251.8 520.8 L253.1 520.9 L254.4 521.1 L256.4 521.5 L258.2 521.9 L259.9 522.3 L261.4 522.7 L262.6 523 L263.5 523.2" fill="none" stroke="#ff1a1a" stroke-width="1.1" stroke-linejoin="round" stroke-linecap="round"/>
<path d="M53.4 578.2 L53.8 575.6 L54 575.5 L54.3 574.3 L54.6 572.3 L55.3 570.8 L55.6 570.1 L56.1 567.6 L56.8 565.7 L57.3 563 L57.4 563 L57.6 562.2 L58.1 560.3 L58.6 559.5 L59.4 557.8 L59.8 556 L60.5 553.8 L60.7 553.3 L61.2 551.9 L61.8 548.8 L62.3 548.6 L63.3 546.4 L63.6 544.6 L64.2 544.1 L64.2 541.5 L65.1 539.8 L65.7 538.7 L65.8 537.8 L66.4 536.2 L66.7 535.4 L67.3 533.7 L67.7 532.2 L68.6 530 L68.5 528.5 L69.3 526.9 L69.6 525.3 L70 525.3 L70.6 523.5 L70.9 522.1 L71.5 520.7 L72.5 519.2 L72.8 516.4 L73.2 515.9 L73.7 514.9 L73.9 512.8 L74.8 511.8 L75.4 508.7 L75.9 507.5 L76.9 507.3 L77.2 506.2 L78 503.9 L79.6 502 L80.8 501.4 L81.5 500 L83.2 499.2 L84.9 498.5 L86.3 498.3 L87.5 498.4 L90.1 498.6 L91.6 498.9 L92.7 498 L94.1 498.4 L95.7 498.8 L97.3 499.6 L98.9 500.5 L100.5 499.9 L102.8 500.6 L104.5 502 L105.7 500.8 L106.9 502.5 L108.3 501.9 L110.1 501.4 L111.6 501.8 L113.2 502.7 L114.6 502.3 L116.2 502.5 L117.6 502.8 L119.7 503.6 L121.2 502.8 L122.8 503.9 L124.2 504.3 L125.7 503.8 L127.3 503.8 L128.6 503.7 L130.2 504.9 L131.7 505.7 L133.1 505.3 L134.7 505.4 L136.6 505.8 L137.6 505 L139.4 506.6 L140.4 506 L142.6 506.5 L144 506.7 L145.6 507 L146.8 507.2 L148.6 506.2 L149.9 506 L151.9 507 L153.3 506.5 L155.2 506.3 L156.5 506.7 L158.4 508.1 L159.7 507.2 L160.9 507.9 L162.7 507.9 L164 506.9 L165.6 508.4 L167.2 506.9 L168.7 507.6 L170 508.9 L171.9 508.5 L173.1 508.8 L175.1 509 L176.5 508.8 L178.1 508.4 L179.4 508.8 L181.1 508.9 L182.4 509 L184 509 L185.3 508.9 L187.2 507.4 L188.8 507.3 L189.9 507.7 L191.5 507.7 L193.4 508 L194.8 507.4 L196.4 508.2 L197.8 508.4 L199.5 507.3 L200.5 507.8 L202.3 507.2 L203.5 508.2 L204.9 506.5 L206.1 506.5 L207.2 508.1 L208.9 507.7 L210.5 507.2 L212.1 507.2 L214.4 507.8 L216.2 506.7 L218.6 507.9 L219.9 507.9 L221.4 506.8 L222.7 506.6 L224.2 506.9 L225.5 508.5 L227.1 507 L229.1 507.8 L230.8 507.3 L232.3 508.5 L234.1 508.5 L235.8 508.2 L237.6 507.6 L239.4 506.9 L241.8 507.5 L243.5 507 L245.1 506.7 L247 508.3 L248.7 507.3 L250.7 508.3 L252.2 506.7 L253.8 507.4 L255.6 507.3 L256.8 507.8 L258.1 507.6 L259.5 508.4 L260.6 507.3 L262 506.7 L262.9 507.9 L263.5 507.4" fill="none" stroke="#1a841a" stroke-width="2.4" stroke-linejoin="round" stroke-linecap="round"/>
<path d="M55.6 568.4L57.3 571.8L53.9 571.8Z" fill="#1a841a"/>
<path d="M57.3 561.3L59 564.7L55.6 564.7Z" fill="#1a841a"/>
<path d="M59.8 554.3L61.5 557.7L58.1 557.7Z" fill="#1a841a"/>
<path d="M61.8 547.1L63.5 550.5L60.1 550.5Z" fill="#1a841a"/>
<path d="M64.2 539.8L65.9 543.2L62.5 543.2Z" fill="#1a841a"/>
<path d="M66.7 533.7L68.4 537.1L65 537.1Z" fill="#1a841a"/>
<path d="M68.5 526.8L70.2 530.2L66.8 530.2Z" fill="#1a841a"/>
<path d="M70.9 520.4L72.6 523.8L69.2 523.8Z" fill="#1a841a"/>
<path d="M72.8 514.7L74.5 518.1L71.1 518.1Z" fill="#1a841a"/>
<path d="M75.4 507L77.1 510.4L73.7 510.4Z" fill="#1a841a"/>
<path d="M79.6 500.3L81.3 503.7L77.9 503.7Z" fill="#1a841a"/>
<path d="M84.9 496.8L86.6 500.2L83.2 500.2Z" fill="#1a841a"/>
<path d="M91.6 497.2L93.3 500.6L89.9 500.6Z" fill="#1a841a"/>
<path d="M97.3 497.9L99 501.3L95.6 501.3Z" fill="#1a841a"/>
<path d="M104.5 500.3L106.2 503.7L102.8 503.7Z" fill="#1a841a"/>
<path d="M110.1 499.7L111.8 503.1L108.4 503.1Z" fill="#1a841a"/>
<path d="M116.2 500.8L117.9 504.2L114.5 504.2Z" fill="#1a841a"/>
<path d="M122.8 502.2L124.5 505.6L121.1 505.6Z" fill="#1a841a"/>
<path d="M130.2 503.2L131.9 506.6L128.5 506.6Z" fill="#1a841a"/>
<path d="M136.6 504.1L138.3 507.5L134.9 507.5Z" fill="#1a841a"/>
<path d="M142.6 504.8L144.3 508.2L140.9 508.2Z" fill="#1a841a"/>
<path d="M148.6 504.5L150.3 507.9L146.9 507.9Z" fill="#1a841a"/>
<path d="M155.2 504.6L156.9 508L153.5 508Z" fill="#1a841a"/>
<path d="M160.9 506.2L162.6 509.6L159.2 509.6Z" fill="#1a841a"/>
<path d="M167.2 505.2L168.9 508.6L165.5 508.6Z" fill="#1a841a"/>
<path d="M173.1 507.1L174.8 510.5L171.4 510.5Z" fill="#1a841a"/>
<path d="M179.4 507.1L181.1 510.5L177.7 510.5Z" fill="#1a841a"/>
<path d="M187.2 505.7L188.9 509.1L185.5 509.1Z" fill="#1a841a"/>
<path d="M193.4 506.3L195.1 509.7L191.7 509.7Z" fill="#1a841a"/>
<path d="M199.5 505.6L201.2 509L197.8 509Z" fill="#1a841a"/>
<path d="M204.9 504.8L206.6 508.2L203.2 508.2Z" fill="#1a841a"/>
<path d="M210.5 505.5L212.2 508.9L208.8 508.9Z" fill="#1a841a"/>
<path d="M216.2 505L217.9 508.4L214.5 508.4Z" fill="#1a841a"/>
<path d="M222.7 504.9L224.4 508.3L221 508.3Z" fill="#1a841a"/>
<path d="M229.1 506.1L230.8 509.5L227.4 509.5Z" fill="#1a841a"/>
<path d="M235.8 506.5L237.5 509.9L234.1 509.9Z" fill="#1a841a"/>
<path d="M241.8 505.8L243.5 509.2L240.1 509.2Z" fill="#1a841a"/>
<path d="M248.7 505.6L250.4 509L247 509Z" fill="#1a841a"/>
<path d="M253.8 505.7L255.5 509.1L252.1 509.1Z" fill="#1a841a"/>
<path d="M259.5 506.7L261.2 510.1L257.8 510.1Z" fill="#1a841a"/>
<path d="M53.7 578.1 L53.9 576.9 L53.8 574.9 L54.2 574.6 L55 571.6 L55.2 570.6 L55.3 568.5 L56.1 567.1 L56.2 565.5 L56.6 563.3 L57.1 562.5 L57.5 560.6 L57.9 558.2 L58.4 557.3 L58.6 554.9 L58.7 553.9 L59.4 552.7 L59.5 549.9 L59.9 549.7 L60.1 547.8 L60.4 545.5 L60.7 543.9 L61.2 543.5 L61.9 540.5 L61.9 540.3 L62.2 537.6 L62.7 535.7 L62.9 534.6 L63.3 534.1 L63.6 531.1 L64.3 530 L64.6 528.7 L65 526.5 L65 525.6 L65.5 523.6 L66 522.3 L66.1 520 L66.8 518.7 L66.8 517.3 L67.2 516.1 L67.3 514.9 L68 512.3 L68.5 510.6 L68.4 508.9 L68.9 508.8 L69.3 506.8 L69.7 504.8 L69.9 504 L70.7 502.6 L71 501.3 L71.3 500 L72 497.2 L72.3 496.3 L72.8 493.5 L73.7 492.5 L74.1 491.3 L74.9 489 L75.2 487.8 L76.6 487.1 L78.3 486.5 L79.6 485.4 L81.2 484.9 L82.8 485.4 L84.5 483.9 L86 484.8 L87.7 485.1 L90.2 485.1 L91.4 485.1 L92.8 484.4 L94.2 485.8 L95.7 485.4 L97.1 486.3 L99.2 486.1 L100.6 486.5 L102.3 487.7 L104.6 488.3 L105.6 488.4 L106.9 489 L108.5 487.8 L110.2 488.3 L111.5 488.5 L113.2 489.7 L114.9 489.1 L116.5 489.6 L117.7 490.8 L119.4 490.5 L121 490.6 L122.7 490.8 L124.2 492.1 L125.6 490.9 L127.3 491.1 L128.7 491.9 L130 492.4 L132 492.5 L133.3 492.5 L135 492.1 L136.6 493.6 L138 493.7 L139.2 493.8 L140.5 493.1 L142.3 493.3 L144.2 494 L145.6 493.7 L147 494.1 L148.5 494" fill="none" stroke="#000000" stroke-width="2.0" stroke-linejoin="round" stroke-linecap="round"/>
<path d="M148.5 494 L150.3 494.9 L151.8 494.6 L153.6 494.8 L155.3 495.7 L156.9 496.5 L158.4 496.5 L160 496.2 L161.4 495 L162.7 495 L164.7 496.3 L166.2 495.4 L167.7 495.3 L169.5 496.7 L171 495 L172.6 495.6 L174.6 496.4 L176 495.2 L177.3 495.3 L179.2 495.8 L180.9 496.6 L182.4 495.8 L183.9 495.2 L185.1 496 L186.9 495.4 L188.3 495 L190.3 496.3 L191.8 496.8 L193.1 496.3 L194.6 496.5 L196.4 495.3 L197.5 495.5 L199.4 495.8 L200.6 496.7 L202.6 496 L203.8 496.9 L205.6 495.4 L207 496.5 L208.8 496.3 L210.2 495.9 L211.6 497.2 L213.2 495.9 L214.9 496 L216.2 496.7 L218.1 497.2 L219.7 496.9 L221 497.6 L222.8 497.3 L224.8 497.8 L226.8 497.2 L228.6 498.2 L230.3 497.4 L232.3 498.5 L233.5 498 L235.6 498.1 L236.7 499.3 L238.2 499.2 L239.3 498.2 L239.8 500" fill="none" stroke="#000000" stroke-width="1.6" stroke-linejoin="round" stroke-linecap="round"/>
<path d="M52.3 568.9L57.7 574.3M52.3 574.3L57.7 568.9" stroke="#000000" stroke-width="1.3" fill="none"/>
<circle cx="56.1" cy="567.1" r="1.8" fill="none" stroke="#000000" stroke-width="1.2"/>
<path d="M54.4 559.8L59.8 565.2M54.4 565.2L59.8 559.8" stroke="#000000" stroke-width="1.3" fill="none"/>
<circle cx="57.9" cy="558.2" r="1.8" fill="none" stroke="#000000" stroke-width="1.2"/>
<path d="M56 551.2L61.4 556.6M56 556.6L61.4 551.2" stroke="#000000" stroke-width="1.3" fill="none"/>
<circle cx="59.5" cy="549.9" r="1.8" fill="none" stroke="#000000" stroke-width="1.2"/>
<path d="M57.7 542.8L63.1 548.2M57.7 548.2L63.1 542.8" stroke="#000000" stroke-width="1.3" fill="none"/>
<circle cx="61.9" cy="540.5" r="1.8" fill="none" stroke="#000000" stroke-width="1.2"/>
<path d="M60 533L65.4 538.4M60 538.4L65.4 533" stroke="#000000" stroke-width="1.3" fill="none"/>
<circle cx="63.6" cy="531.1" r="1.8" fill="none" stroke="#000000" stroke-width="1.2"/>
<path d="M62.3 523.8L67.7 529.2M62.3 529.2L67.7 523.8" stroke="#000000" stroke-width="1.3" fill="none"/>
<circle cx="66" cy="522.3" r="1.8" fill="none" stroke="#000000" stroke-width="1.2"/>
<path d="M64.1 514.6L69.5 520M64.1 520L69.5 514.6" stroke="#000000" stroke-width="1.3" fill="none"/>
<circle cx="68" cy="512.3" r="1.8" fill="none" stroke="#000000" stroke-width="1.2"/>
<path d="M66.6 504.1L72 509.5M66.6 509.5L72 504.1" stroke="#000000" stroke-width="1.3" fill="none"/>
<circle cx="70.7" cy="502.6" r="1.8" fill="none" stroke="#000000" stroke-width="1.2"/>
<path d="M69.3 494.5L74.7 499.9M69.3 499.9L74.7 494.5" stroke="#000000" stroke-width="1.3" fill="none"/>
<circle cx="73.7" cy="492.5" r="1.8" fill="none" stroke="#000000" stroke-width="1.2"/>
<path d="M72.5 485.1L77.9 490.5M72.5 490.5L77.9 485.1" stroke="#000000" stroke-width="1.3" fill="none"/>
<circle cx="79.6" cy="485.4" r="1.8" fill="none" stroke="#000000" stroke-width="1.2"/>
<path d="M81.8 481.2L87.2 486.6M81.8 486.6L87.2 481.2" stroke="#000000" stroke-width="1.3" fill="none"/>
<circle cx="90.2" cy="485.1" r="1.8" fill="none" stroke="#000000" stroke-width="1.2"/>
<path d="M91.5 483.1L96.9 488.5M91.5 488.5L96.9 483.1" stroke="#000000" stroke-width="1.3" fill="none"/>
<circle cx="99.2" cy="486.1" r="1.8" fill="none" stroke="#000000" stroke-width="1.2"/>
<path d="M101.9 485.6L107.3 491M101.9 491L107.3 485.6" stroke="#000000" stroke-width="1.3" fill="none"/>
<circle cx="108.5" cy="487.8" r="1.8" fill="none" stroke="#000000" stroke-width="1.2"/>
<path d="M110.5 487L115.9 492.4M110.5 492.4L115.9 487" stroke="#000000" stroke-width="1.3" fill="none"/>
<circle cx="117.7" cy="490.8" r="1.8" fill="none" stroke="#000000" stroke-width="1.2"/>
<path d="M120 488.1L125.4 493.5M120 493.5L125.4 488.1" stroke="#000000" stroke-width="1.3" fill="none"/>
<circle cx="127.3" cy="491.1" r="1.8" fill="none" stroke="#000000" stroke-width="1.2"/>
<path d="M129.3 489.8L134.7 495.2M129.3 495.2L134.7 489.8" stroke="#000000" stroke-width="1.3" fill="none"/>
<circle cx="136.6" cy="493.6" r="1.8" fill="none" stroke="#000000" stroke-width="1.2"/>
<path d="M137.8 490.4L143.2 495.8M137.8 495.8L143.2 490.4" stroke="#000000" stroke-width="1.3" fill="none"/>
<circle cx="145.6" cy="493.7" r="1.8" fill="none" stroke="#000000" stroke-width="1.2"/>
<path d="M154.1 493.7L159.7 499.3M154.1 499.3L159.7 493.7" stroke="#000000" stroke-width="1.3" fill="none"/>
<circle cx="162.7" cy="495" r="1.9" fill="#000000"/>
<path d="M171.8 493.6L177.4 499.2M171.8 499.2L177.4 493.6" stroke="#000000" stroke-width="1.3" fill="none"/>
<circle cx="180.9" cy="496.6" r="1.9" fill="#000000"/>
<path d="M190.3 493.5L195.9 499.1M190.3 499.1L195.9 493.5" stroke="#000000" stroke-width="1.3" fill="none"/>
<circle cx="199.4" cy="495.8" r="1.9" fill="#000000"/>
<path d="M208.8 494.4L214.4 500M208.8 500L214.4 494.4" stroke="#000000" stroke-width="1.3" fill="none"/>
<circle cx="218.1" cy="497.2" r="1.9" fill="#000000"/>
<path d="M227.5 494.6L233.1 500.2M227.5 500.2L233.1 494.6" stroke="#000000" stroke-width="1.3" fill="none"/>
<circle cx="236.7" cy="499.3" r="1.9" fill="#000000"/>
<path d="M53.8 576.6 L53.5 576 L54.3 574.9 L54.4 574.8 L54.7 573.3 L54.8 570.3 L55.1 569.6 L55.5 568.2 L56.2 565.1 L56.6 563.2 L56.8 561.5 L57.3 561.3 L57.6 558.1 L57.9 557.6 L58.2 556 L58.4 554.6 L58.9 552.2 L58.8 551.5 L59.2 549.7 L59.4 548.8 L59.7 547.4 L60.4 545.2 L60.4 544 L60.8 542.1 L61 541.6 L61.6 539 L61.7 538.2 L62.4 536.9 L62.3 534.6 L62.7 533.8 L63 531.9 L63.7 530.7 L63.5 527.8 L63.9 527.3 L64.4 525.5 L64.6 523.8 L64.9 522.8 L65.3 521.4 L65.4 520.2 L65.7 518.2 L65.5 516.6 L66.1 514.5 L66.4 512.5 L66.7 511.3 L66.8 509.4 L66.8 507.9 L67.1 505.9 L67.5 505.9 L67.9 504.3 L68.3 502.5 L68.7 500.6 L68.6 498.1 L69 496 L69.2 495.9 L69.9 493.2 L70.2 492.4 L70.6 490.9 L70.8 488.2 L71.3 487.1 L71.5 485.9 L71.8 485.8 L72.3 482.8 L73.2 480.9 L74 478.9 L74.7 477.9 L75.5 475.6 L75.9 474.8 L77.3 473.3 L78.2 473.7 L79.9 472.2 L81.1 472.8 L82.8 472.8 L84.5 471.8 L86 471.5 L87.7 471.8 L88.9 473.3 L90.7 472.8 L92.4 473.1 L94.1 472.8 L95.4 472.7 L97.1 473.6 L98.9 473.5 L100.6 475.4 L102.3 474.5 L103.9 474.7 L105.1 475.4 L106.9 476.5 L108.5 477 L110 477.8 L111.7 478 L113.2 478.4 L114.9 478.8 L116.9 478.8 L118.3 477.9 L119.9 479.8 L121.5 479.7 L123.4 480 L124.8 479.3 L126.4 481.1 L128.1 480.7 L129.8 480.1 L131.1 479.9 L133.1 480.2 L134.7 480.7 L136 480.3 L137.6 480.6 L139 481.2 L140.5 480.9 L142.4 481.1 L143.6 482.2 L145.1 481.4 L146.6 482 L148.3 482.7" fill="none" stroke="#2040ff" stroke-width="2.0" stroke-linejoin="round" stroke-linecap="round"/>
<path d="M148.3 482.7 L149.9 483.3 L151.4 483.2 L153.7 482.7 L155.1 483.3 L156.5 483.6 L158.2 483.1 L159.3 483.9 L160.8 483.7 L162.4 483.6 L163.7 484.3 L165.5 485.5 L167.1 484.1 L168.5 485.5 L170.2 485.9 L172 486.1 L173.1 486.4 L174.9 485.3 L176.2 486.6 L177.8 485.4 L179.3 487.1 L180.9 486.9 L182.2 486.6 L183.9 486.3 L185.6 486.8 L186.9 488.1 L188.6 486.8 L189.9 487.8 L191.7 486.9 L193.2 488.4 L194.7 487.7 L196.2 488.6 L197.8 488 L199.4 489.7 L201 489.8 L202.4 490.2 L203.9 489.3 L205.8 490.8 L207.2 489.9 L208.8 490.6 L210.4 490.5 L212.3 491.6 L213.9 491.5 L215.2 491.2 L216.6 491.8 L217.6 492.6 L219 492.8 L221.6 493.6 L223.2 494.5 L224.8 495.2 L226.2 494.2 L227.4 494.6" fill="none" stroke="#2040ff" stroke-width="1.6" stroke-linejoin="round" stroke-linecap="round"/>
<path d="M52.4 566.9L57.8 572.3M52.4 572.3L57.8 566.9" stroke="#2040ff" stroke-width="1.3" fill="none"/>
<circle cx="56.2" cy="565.1" r="1.8" fill="none" stroke="#2040ff" stroke-width="1.2"/>
<path d="M54.6 558.6L60 564M54.6 564L60 558.6" stroke="#2040ff" stroke-width="1.3" fill="none"/>
<circle cx="58.2" cy="556" r="1.8" fill="none" stroke="#2040ff" stroke-width="1.2"/>
<path d="M56.1 548.8L61.5 554.2M56.1 554.2L61.5 548.8" stroke="#2040ff" stroke-width="1.3" fill="none"/>
<circle cx="59.7" cy="547.4" r="1.8" fill="none" stroke="#2040ff" stroke-width="1.2"/>
<path d="M58.1 539.4L63.5 544.8M58.1 544.8L63.5 539.4" stroke="#2040ff" stroke-width="1.3" fill="none"/>
<circle cx="61.7" cy="538.2" r="1.8" fill="none" stroke="#2040ff" stroke-width="1.2"/>
<path d="M60 531.1L65.4 536.5M60 536.5L65.4 531.1" stroke="#2040ff" stroke-width="1.3" fill="none"/>
<circle cx="63.5" cy="527.8" r="1.8" fill="none" stroke="#2040ff" stroke-width="1.2"/>
<path d="M61.9 521.1L67.3 526.5M61.9 526.5L67.3 521.1" stroke="#2040ff" stroke-width="1.3" fill="none"/>
<circle cx="65.7" cy="518.2" r="1.8" fill="none" stroke="#2040ff" stroke-width="1.2"/>
<path d="M63.7 509.8L69.1 515.2M63.7 515.2L69.1 509.8" stroke="#2040ff" stroke-width="1.3" fill="none"/>
<circle cx="66.8" cy="507.9" r="1.8" fill="none" stroke="#2040ff" stroke-width="1.2"/>
<path d="M65.2 501.6L70.6 507M65.2 507L70.6 501.6" stroke="#2040ff" stroke-width="1.3" fill="none"/>
<circle cx="68.6" cy="498.1" r="1.8" fill="none" stroke="#2040ff" stroke-width="1.2"/>
<path d="M67.2 490.5L72.6 495.9M67.2 495.9L72.6 490.5" stroke="#2040ff" stroke-width="1.3" fill="none"/>
<circle cx="70.8" cy="488.2" r="1.8" fill="none" stroke="#2040ff" stroke-width="1.2"/>
<path d="M69.6 480.1L75 485.5M69.6 485.5L75 480.1" stroke="#2040ff" stroke-width="1.3" fill="none"/>
<circle cx="74" cy="478.9" r="1.8" fill="none" stroke="#2040ff" stroke-width="1.2"/>
<path d="M73.2 472.1L78.6 477.5M73.2 477.5L78.6 472.1" stroke="#2040ff" stroke-width="1.3" fill="none"/>
<circle cx="79.9" cy="472.2" r="1.8" fill="none" stroke="#2040ff" stroke-width="1.2"/>
<path d="M81.8 469.1L87.2 474.5M81.8 474.5L87.2 469.1" stroke="#2040ff" stroke-width="1.3" fill="none"/>
<circle cx="88.9" cy="473.3" r="1.8" fill="none" stroke="#2040ff" stroke-width="1.2"/>
<path d="M91.4 470.1L96.8 475.5M91.4 475.5L96.8 470.1" stroke="#2040ff" stroke-width="1.3" fill="none"/>
<circle cx="98.9" cy="473.5" r="1.8" fill="none" stroke="#2040ff" stroke-width="1.2"/>
<path d="M99.6 471.8L105 477.2M99.6 477.2L105 471.8" stroke="#2040ff" stroke-width="1.3" fill="none"/>
<circle cx="106.9" cy="476.5" r="1.8" fill="none" stroke="#2040ff" stroke-width="1.2"/>
<path d="M109 475.3L114.4 480.7M109 480.7L114.4 475.3" stroke="#2040ff" stroke-width="1.3" fill="none"/>
<circle cx="116.9" cy="478.8" r="1.8" fill="none" stroke="#2040ff" stroke-width="1.2"/>
<path d="M117.2 477.1L122.6 482.5M117.2 482.5L122.6 477.1" stroke="#2040ff" stroke-width="1.3" fill="none"/>
<circle cx="124.8" cy="479.3" r="1.8" fill="none" stroke="#2040ff" stroke-width="1.2"/>
<path d="M125.4 478L130.8 483.4M125.4 483.4L130.8 478" stroke="#2040ff" stroke-width="1.3" fill="none"/>
<circle cx="133.1" cy="480.2" r="1.8" fill="none" stroke="#2040ff" stroke-width="1.2"/>
<path d="M134.9 477.9L140.3 483.3M134.9 483.3L140.3 477.9" stroke="#2040ff" stroke-width="1.3" fill="none"/>
<circle cx="142.4" cy="481.1" r="1.8" fill="none" stroke="#2040ff" stroke-width="1.2"/>
<path d="M143.9 479.3L149.3 484.7M143.9 484.7L149.3 479.3" stroke="#2040ff" stroke-width="1.3" fill="none"/>
<path d="M155.4 480.3L161 485.9M155.4 485.9L161 480.3" stroke="#2040ff" stroke-width="1.3" fill="none"/>
<circle cx="165.5" cy="485.5" r="1.9" fill="#2040ff"/>
<path d="M175 482.6L180.6 488.2M175 488.2L180.6 482.6" stroke="#2040ff" stroke-width="1.3" fill="none"/>
<circle cx="183.9" cy="486.3" r="1.9" fill="#2040ff"/>
<path d="M193.4 485.8L199 491.4M193.4 491.4L199 485.8" stroke="#2040ff" stroke-width="1.3" fill="none"/>
<circle cx="202.4" cy="490.2" r="1.9" fill="#2040ff"/>
<path d="M212.4 488.4L218 494M212.4 494L218 488.4" stroke="#2040ff" stroke-width="1.3" fill="none"/>
<circle cx="221.6" cy="493.6" r="1.9" fill="#2040ff"/>
<path d="M53.6 562.2 L53.7 561.1 L53.7 560.2 L53.9 558.9 L53.9 557.8 L54 556.6 L54.2 554.8 L54.2 553.1 L54.4 551.5 L54.4 549.9 L54.6 548.4 L54.7 546.2 L54.8 544.6 L55 542.6 L55.2 541.4 L55.3 540.2 L55.3 538.8 L55.4 536.8 L55.6 535.3 L55.6 533.8 L55.7 532.7 L56 530.7 L56 529.4 L56.2 527.7 L56.3 525.7 L56.3 524.4 L56.5 522.9 L56.7 521.4 L56.7 519.3 L56.9 518.1 L56.9 516.7 L57.1 515 L57.2 513.5 L57.4 511.6 L57.5 510.4 L57.6 508.8 L57.8 506.8 L57.9 505.7 L58.1 504.1 L58.1 502.7 L58.4 500.8 L58.4 499.7 L58.5 497.9 L58.8 496.8 L58.8 495.3 L58.9 493.9 L59.1 492.2 L59.1 491 L59.3 489 L59.5 487.5 L59.7 485.6 L59.9 484.4 L60 482.5 L60.2 481 L60.3 479.6 L60.4 478.3 L60.6 476.7 L60.9 475.7 L61 474.4 L61.2 472.3 L61.6 470.1 L61.8 468.4 L62 467.2 L62.2 466 L62.4 464.9" fill="none" stroke="#ff1a1a" stroke-width="1.5" stroke-linejoin="round" stroke-linecap="round"/>
<path d="M54.2 553.6L54.2 556" stroke="#ff1a1a" stroke-width="0.9"/>
<path d="M54.6 547.2L54.6 549.6" stroke="#ff1a1a" stroke-width="0.9"/>
<path d="M55 541.4L55 543.8" stroke="#ff1a1a" stroke-width="0.9"/>
<path d="M55.4 535.6L55.4 538" stroke="#ff1a1a" stroke-width="0.9"/>
<path d="M56 529.5L56 531.9" stroke="#ff1a1a" stroke-width="0.9"/>
<path d="M56.3 524.5L56.3 526.9" stroke="#ff1a1a" stroke-width="0.9"/>
<path d="M56.7 518.1L56.7 520.5" stroke="#ff1a1a" stroke-width="0.9"/>
<path d="M57.2 512.3L57.2 514.7" stroke="#ff1a1a" stroke-width="0.9"/>
<path d="M57.8 505.6L57.8 508" stroke="#ff1a1a" stroke-width="0.9"/>
<path d="M58.4 499.6L58.4 502" stroke="#ff1a1a" stroke-width="0.9"/>
<path d="M58.8 494.1L58.8 496.5" stroke="#ff1a1a" stroke-width="0.9"/>
<path d="M59.3 487.8L59.3 490.2" stroke="#ff1a1a" stroke-width="0.9"/>
<path d="M60 481.3L60 483.7" stroke="#ff1a1a" stroke-width="0.9"/>
<path d="M60.6 475.5L60.6 477.9" stroke="#ff1a1a" stroke-width="0.9"/>
<path d="M61.6 468.9L61.6 471.3" stroke="#ff1a1a" stroke-width="0.9"/>
<path d="M62.4 463.7L62.4 466.1" stroke="#ff1a1a" stroke-width="0.9"/>
<path d="M61.4 468 L61.8 468.5 L61.9 465.6 L61.9 464.1 L62.7 461.8 L62.6 460.4 L63.3 460.2 L63.1 456.6 L64 456.8 L63.9 453.7 L64.5 452 L64.8 450.8 L65 448.4 L65.2 447.3 L65.6 446.5 L66.4 444.3 L66.9 443.9 L67.1 441.7 L67.5 441.3 L68.3 437.8 L68.6 437.7 L69.4 436.1 L69.9 434.8 L70.9 431.9 L71.6 430.5 L72.4 430.4 L73.3 427.7 L73.6 427.4 L74.6 425.1 L75.6 424.6 L76.8 423.5 L77.9 421.7 L80.1 420.7 L82.4 421.1 L83.7 422.1 L84.9 423.6 L86.9 424.2 L88.8 424.2 L89.7 425.9 L90.9 425.7 L92.2 427.9 L94 428.7 L95.6 429.8 L96.9 429.5 L98.5 429.4 L100 430 L101.2 431.3 L103 432.7 L105.1 432.1 L106.4 431.7 L108.3 433.1 L109.8 434 L111.5 434.6 L112.8 433.6 L114.6 435.2 L116.1 436.2 L117.6 436 L119.3 437.5 L121.1 437.2 L122.5 439 L124.4 438.7 L125.5 438.7 L127.5 438.6 L128.7 440.4 L130.9 438.9 L132.2 440.2 L133.7 439.3 L135.6 441.2 L137 440.1 L138.6 440.6 L140.6 441 L141.7 443.1 L143.2 442.1 L144.8 442.7 L146.6 444.6 L147.8 443.5 L149.8 444.4 L151 444 L152.3 446.1 L153.6 444.8 L155.5 446.4 L157.3 445.8 L159.2 446.3 L160.1 446.2 L161.8 447.1 L162.8 446.1 L164.9 446.2 L166.4 446.9 L167.6 447 L169.4 448.9 L170.9 448.8 L172.8 447.6 L174.8 448.2 L176.2 448.6 L178 449.7 L179.3 448 L180.9 449.5 L182.5 450.4 L183.6 450.3 L185.5 449.2 L186.8 449.5 L188.3 449.7 L189.7 449.5 L191.8 450.1 L193.2 451.3 L194.8 450 L196.5 451.4 L198.1 451.3 L199.4 451.7 L200.5 451.5 L202.1 452.1 L203.4 451.6 L205 452.3 L206.4 452.5 L208.2 452.8 L209.2 453.1 L211.1 452.6 L212.5 451.4 L214.2 452.6 L215.5 452.3 L217.3 453.4 L219 452.3 L220.1 452.5 L221.5 452.8 L223.1 453.9 L224.9 452.4 L226.5 453.9 L228.3 453.4 L230.2 454.2 L232.3 453.2 L233.8 454.6 L235.3 454.7 L237.1 453.5 L238.8 454.1 L239.8 454.3 L241.7 454.2 L242.7 454.1 L244.2 454.8 L246 454.4 L248 456 L249.8 454.5 L251.2 454.7 L252.2 456 L253.4 456.5 L254.1 457.2 L256.2 458.6 L257.4 458.4 L259 460.7 L259.8 462 L261.4 462.3 L261.9 464.3 L263 464.9 L263.2 466.9 L264 468.1 L264.2 469.8" fill="none" stroke="#ff1a1a" stroke-width="2.4" stroke-linejoin="round" stroke-linecap="round"/>
<path d="M60 459.1L65.4 464.5M60 464.5L65.4 459.1" stroke="#ff1a1a" stroke-width="1.3" fill="none"/>
<circle cx="63.1" cy="456.6" r="1.8" fill="none" stroke="#ff1a1a" stroke-width="1.2"/>
<path d="M61.2 451L66.6 456.4M61.2 456.4L66.6 451" stroke="#ff1a1a" stroke-width="1.3" fill="none"/>
<circle cx="65" cy="448.4" r="1.8" fill="none" stroke="#ff1a1a" stroke-width="1.2"/>
<path d="M63.7 441.6L69.1 447M63.7 447L69.1 441.6" stroke="#ff1a1a" stroke-width="1.3" fill="none"/>
<circle cx="68.3" cy="437.8" r="1.8" fill="none" stroke="#ff1a1a" stroke-width="1.2"/>
<path d="M68.2 429.2L73.6 434.6M68.2 434.6L73.6 429.2" stroke="#ff1a1a" stroke-width="1.3" fill="none"/>
<circle cx="73.3" cy="427.7" r="1.8" fill="none" stroke="#ff1a1a" stroke-width="1.2"/>
<path d="M72.9 421.9L78.3 427.3M72.9 427.3L78.3 421.9" stroke="#ff1a1a" stroke-width="1.3" fill="none"/>
<circle cx="80.1" cy="420.7" r="1.8" fill="none" stroke="#ff1a1a" stroke-width="1.2"/>
<path d="M82.2 420.9L87.6 426.3M82.2 426.3L87.6 420.9" stroke="#ff1a1a" stroke-width="1.3" fill="none"/>
<circle cx="88.8" cy="424.2" r="1.8" fill="none" stroke="#ff1a1a" stroke-width="1.2"/>
<path d="M89.5 425.2L94.9 430.6M89.5 430.6L94.9 425.2" stroke="#ff1a1a" stroke-width="1.3" fill="none"/>
<circle cx="96.9" cy="429.5" r="1.8" fill="none" stroke="#ff1a1a" stroke-width="1.2"/>
<path d="M98.5 428.6L103.9 434M98.5 434L103.9 428.6" stroke="#ff1a1a" stroke-width="1.3" fill="none"/>
<circle cx="105.1" cy="432.1" r="1.8" fill="none" stroke="#ff1a1a" stroke-width="1.2"/>
<path d="M107.1 431.3L112.5 436.7M107.1 436.7L112.5 431.3" stroke="#ff1a1a" stroke-width="1.3" fill="none"/>
<circle cx="114.6" cy="435.2" r="1.8" fill="none" stroke="#ff1a1a" stroke-width="1.2"/>
<path d="M116.6 434.8L122 440.2M116.6 440.2L122 434.8" stroke="#ff1a1a" stroke-width="1.3" fill="none"/>
<circle cx="124.4" cy="438.7" r="1.8" fill="none" stroke="#ff1a1a" stroke-width="1.2"/>
<path d="M126 437.7L131.4 443.1M126 443.1L131.4 437.7" stroke="#ff1a1a" stroke-width="1.3" fill="none"/>
<circle cx="132.2" cy="440.2" r="1.8" fill="none" stroke="#ff1a1a" stroke-width="1.2"/>
<path d="M132.9 438.5L138.3 443.9M132.9 443.9L138.3 438.5" stroke="#ff1a1a" stroke-width="1.3" fill="none"/>
<circle cx="140.6" cy="441" r="1.8" fill="none" stroke="#ff1a1a" stroke-width="1.2"/>
<path d="M140.5 439.4L145.9 444.8M140.5 444.8L145.9 439.4" stroke="#ff1a1a" stroke-width="1.3" fill="none"/>
<circle cx="146.6" cy="444.6" r="1.8" fill="none" stroke="#ff1a1a" stroke-width="1.2"/>
<path d="M148.3 441.3L153.7 446.7M148.3 446.7L153.7 441.3" stroke="#ff1a1a" stroke-width="1.3" fill="none"/>
<circle cx="153.6" cy="444.8" r="1.8" fill="none" stroke="#ff1a1a" stroke-width="1.2"/>
<path d="M154.6 443.1L160 448.5M154.6 448.5L160 443.1" stroke="#ff1a1a" stroke-width="1.3" fill="none"/>
<circle cx="161.8" cy="447.1" r="1.8" fill="none" stroke="#ff1a1a" stroke-width="1.2"/>
<path d="M163.7 444.2L169.1 449.6M163.7 449.6L169.1 444.2" stroke="#ff1a1a" stroke-width="1.3" fill="none"/>
<circle cx="170.9" cy="448.8" r="1.8" fill="none" stroke="#ff1a1a" stroke-width="1.2"/>
<path d="M172.1 445.5L177.5 450.9M172.1 450.9L177.5 445.5" stroke="#ff1a1a" stroke-width="1.3" fill="none"/>
<circle cx="179.3" cy="448" r="1.8" fill="none" stroke="#ff1a1a" stroke-width="1.2"/>
<path d="M179.8 447.7L185.2 453.1M179.8 453.1L185.2 447.7" stroke="#ff1a1a" stroke-width="1.3" fill="none"/>
<circle cx="186.8" cy="449.5" r="1.8" fill="none" stroke="#ff1a1a" stroke-width="1.2"/>
<path d="M189.1 447.4L194.5 452.8M189.1 452.8L194.5 447.4" stroke="#ff1a1a" stroke-width="1.3" fill="none"/>
<circle cx="196.5" cy="451.4" r="1.8" fill="none" stroke="#ff1a1a" stroke-width="1.2"/>
<path d="M197.8 448.8L203.2 454.2M197.8 454.2L203.2 448.8" stroke="#ff1a1a" stroke-width="1.3" fill="none"/>
<circle cx="205" cy="452.3" r="1.8" fill="none" stroke="#ff1a1a" stroke-width="1.2"/>
<path d="M206.5 450.4L211.9 455.8M206.5 455.8L211.9 450.4" stroke="#ff1a1a" stroke-width="1.3" fill="none"/>
<circle cx="214.2" cy="452.6" r="1.8" fill="none" stroke="#ff1a1a" stroke-width="1.2"/>
<path d="M216.3 449.6L221.7 455M216.3 455L221.7 449.6" stroke="#ff1a1a" stroke-width="1.3" fill="none"/>
<circle cx="223.1" cy="453.9" r="1.8" fill="none" stroke="#ff1a1a" stroke-width="1.2"/>
<path d="M223.8 451.2L229.2 456.6M223.8 456.6L229.2 451.2" stroke="#ff1a1a" stroke-width="1.3" fill="none"/>
<circle cx="232.3" cy="453.2" r="1.8" fill="none" stroke="#ff1a1a" stroke-width="1.2"/>
<path d="M234.4 450.8L239.8 456.2M234.4 456.2L239.8 450.8" stroke="#ff1a1a" stroke-width="1.3" fill="none"/>
<circle cx="241.7" cy="454.2" r="1.8" fill="none" stroke="#ff1a1a" stroke-width="1.2"/>
<path d="M243.3 451.7L248.7 457.1M243.3 457.1L248.7 451.7" stroke="#ff1a1a" stroke-width="1.3" fill="none"/>
<circle cx="249.8" cy="454.5" r="1.8" fill="none" stroke="#ff1a1a" stroke-width="1.2"/>
<path d="M250.7 453.8L256.1 459.2M250.7 459.2L256.1 453.8" stroke="#ff1a1a" stroke-width="1.3" fill="none"/>
<circle cx="257.4" cy="458.4" r="1.8" fill="none" stroke="#ff1a1a" stroke-width="1.2"/>
<path d="M257.1 459.3L262.5 464.7M257.1 464.7L262.5 459.3" stroke="#ff1a1a" stroke-width="1.3" fill="none"/>
<circle cx="263" cy="464.9" r="1.8" fill="none" stroke="#ff1a1a" stroke-width="1.2"/>
<path d="M261.5 467.1L266.9 472.5M261.5 472.5L266.9 467.1" stroke="#ff1a1a" stroke-width="1.3" fill="none"/>
<path d="M50.6 559.3L56.6 565.3M50.6 565.3L56.6 559.3" stroke="#ff1a1a" stroke-width="1.2" fill="none"/>
<path d="M55.8 488.1L61.8 494.1M55.8 494.1L61.8 488.1" stroke="#ff1a1a" stroke-width="1.2" fill="none"/>
<path d="M57.2 477.6L63.2 483.6M57.2 483.6L63.2 477.6" stroke="#ff1a1a" stroke-width="1.2" fill="none"/>
<path d="M50.8 572.5L56.4 578.1M50.8 578.1L56.4 572.5" stroke="#2040ff" stroke-width="1.3" fill="none"/>
<path d="M50.8 566.2L56.4 571.8M50.8 571.8L56.4 566.2" stroke="#2040ff" stroke-width="1.3" fill="none"/>
<path d="M51.5 558.8L57.1 564.4M51.5 564.4L57.1 558.8" stroke="#2040ff" stroke-width="1.3" fill="none"/>
<path d="M52.5 551.5L58.1 557.1M52.5 557.1L58.1 551.5" stroke="#2040ff" stroke-width="1.3" fill="none"/>
<path d="M262.8 537.4L263.5 520.6" stroke="#ff1a1a" stroke-width="1.5"/>
<path d="M260 531.8L265 536.8M260 536.8L265 531.8" stroke="#ff1a1a" stroke-width="1.3" fill="none"/>
<path d="M260 525.5L265 530.5M260 530.5L265 525.5" stroke="#ff1a1a" stroke-width="1.3" fill="none"/>
<g stroke="#000" stroke-width="1.6" fill="none" stroke-linecap="square">
<path d="M53.6 367L263.5 367L263.5 577.4L53.6 577.4Z"/>
</g>
<g stroke="#000" stroke-width="1.2" fill="none">
<path d="M60.6 577.4L60.6 572.4M60.6 367L60.6 372"/>
<path d="M67.6 577.4L67.6 572.4M67.6 367L67.6 372"/>
<path d="M74.6 577.4L74.6 572.4M74.6 367L74.6 372"/>
<path d="M81.6 577.4L81.6 572.4M81.6 367L81.6 372"/>
<path d="M88.6 577.4L88.6 568.9M88.6 367L88.6 375.5"/>
<path d="M95.6 577.4L95.6 572.4M95.6 367L95.6 372"/>
<path d="M102.6 577.4L102.6 572.4M102.6 367L102.6 372"/>
<path d="M109.6 577.4L109.6 572.4M109.6 367L109.6 372"/>
<path d="M116.6 577.4L116.6 572.4M116.6 367L116.6 372"/>
<path d="M123.6 577.4L123.6 568.9M123.6 367L123.6 375.5"/>
<path d="M130.6 577.4L130.6 572.4M130.6 367L130.6 372"/>
<path d="M137.6 577.4L137.6 572.4M137.6 367L137.6 372"/>
<path d="M144.6 577.4L144.6 572.4M144.6 367L144.6 372"/>
<path d="M151.6 577.4L151.6 572.4M151.6 367L151.6 372"/>
<path d="M158.6 577.4L158.6 568.9M158.6 367L158.6 375.5"/>
<path d="M165.5 577.4L165.5 572.4M165.5 367L165.5 372"/>
<path d="M172.5 577.4L172.5 572.4M172.5 367L172.5 372"/>
<path d="M179.5 577.4L179.5 572.4M179.5 367L179.5 372"/>
<path d="M186.5 577.4L186.5 572.4M186.5 367L186.5 372"/>
<path d="M193.5 577.4L193.5 568.9M193.5 367L193.5 375.5"/>
<path d="M200.5 577.4L200.5 572.4M200.5 367L200.5 372"/>
<path d="M207.5 577.4L207.5 572.4M207.5 367L207.5 372"/>
<path d="M214.5 577.4L214.5 572.4M214.5 367L214.5 372"/>
<path d="M221.5 577.4L221.5 572.4M221.5 367L221.5 372"/>
<path d="M228.5 577.4L228.5 568.9M228.5 367L228.5 375.5"/>
<path d="M235.5 577.4L235.5 572.4M235.5 367L235.5 372"/>
<path d="M242.5 577.4L242.5 572.4M242.5 367L242.5 372"/>
<path d="M249.5 577.4L249.5 572.4M249.5 367L249.5 372"/>
<path d="M256.5 577.4L256.5 572.4M256.5 367L256.5 372"/>
<path d="M53.6 566.9L58.6 566.9M263.5 566.9L258.5 566.9"/>
<path d="M53.6 556.4L58.6 556.4M263.5 556.4L258.5 556.4"/>
<path d="M53.6 545.8L58.6 545.8M263.5 545.8L258.5 545.8"/>
<path d="M53.6 535.3L58.6 535.3M263.5 535.3L258.5 535.3"/>
<path d="M53.6 524.8L62.1 524.8M263.5 524.8L255 524.8"/>
<path d="M53.6 514.3L58.6 514.3M263.5 514.3L258.5 514.3"/>
<path d="M53.6 503.8L58.6 503.8M263.5 503.8L258.5 503.8"/>
<path d="M53.6 493.2L58.6 493.2M263.5 493.2L258.5 493.2"/>
<path d="M53.6 482.7L58.6 482.7M263.5 482.7L258.5 482.7"/>
<path d="M53.6 472.2L62.1 472.2M263.5 472.2L255 472.2"/>
<path d="M53.6 461.7L58.6 461.7M263.5 461.7L258.5 461.7"/>
<path d="M53.6 451.2L58.6 451.2M263.5 451.2L258.5 451.2"/>
<path d="M53.6 440.6L58.6 440.6M263.5 440.6L258.5 440.6"/>
<path d="M53.6 430.1L58.6 430.1M263.5 430.1L258.5 430.1"/>
<path d="M53.6 419.6L62.1 419.6M263.5 419.6L255 419.6"/>
<path d="M53.6 409.1L58.6 409.1M263.5 409.1L258.5 409.1"/>
<path d="M53.6 398.6L58.6 398.6M263.5 398.6L258.5 398.6"/>
<path d="M53.6 388L58.6 388M263.5 388L258.5 388"/>
<path d="M53.6 377.5L58.6 377.5M263.5 377.5L258.5 377.5"/>
</g>
<rect x="62.5" y="343" width="124" height="79" fill="#fff"/>
<rect x="185" y="343" width="111" height="62" fill="#fff"/>
<path d="M63.1 357.8L106.7 357.8" stroke="#000000" stroke-width="1.5"/>
<text x="111" y="363.3" font-family="Liberation Sans, Arial, sans-serif" font-size="12.3" fill="#000000">0.0009 s<tspan font-size="9.8" dy="-4.6" dx="2">-1</tspan></text>
<path d="M63.1 374.9L106.7 374.9" stroke="#2040ff" stroke-width="1.5"/>
<text x="111" y="380.4" font-family="Liberation Sans, Arial, sans-serif" font-size="12.3" fill="#2040ff">0.006 s<tspan font-size="9.8" dy="-4.6" dx="2">-1</tspan></text>
<path d="M63.1 392L106.7 392" stroke="#ff1a1a" stroke-width="1.5"/>
<text x="111" y="397.5" font-family="Liberation Sans, Arial, sans-serif" font-size="12.3" fill="#ff1a1a">0.06 s<tspan font-size="9.8" dy="-4.6" dx="2">-1</tspan></text>
<path d="M63.1 409.1L106.7 409.1" stroke="#1a841a" stroke-width="1.8"/>
<text x="111" y="414.6" font-family="Liberation Sans, Arial, sans-serif" font-size="12.3" fill="#1a841a">1 s<tspan font-size="9.8" dy="-4.6" dx="2">-1</tspan></text>
<path d="M191.2 358L235.1 358" stroke="#000000" stroke-width="1.4"/>
<path d="M210.3 355.2L215.9 360.8M210.3 360.8L215.9 355.2" stroke="#000000" stroke-width="1.2" fill="none"/>
<text x="238.8" y="362.6" font-family="Liberation Sans, Arial, sans-serif" font-size="12.3" fill="#000000">8 s<tspan font-size="9.8" dy="-4.6" dx="1">-1</tspan></text>
<path d="M191.2 375.1L235.1 375.1" stroke="#2040ff" stroke-width="1.4"/>
<path d="M210.3 372.3L215.9 377.9M210.3 377.9L215.9 372.3" stroke="#2040ff" stroke-width="1.2" fill="none"/>
<text x="238.8" y="379.7" font-family="Liberation Sans, Arial, sans-serif" font-size="12.3" fill="#2040ff">41 s<tspan font-size="9.8" dy="-4.6" dx="1">-1</tspan></text>
<path d="M191.2 392.4L235.1 392.4" stroke="#ff1a1a" stroke-width="1.4"/>
<path d="M210.3 389.6L215.9 395.2M210.3 395.2L215.9 389.6" stroke="#ff1a1a" stroke-width="1.2" fill="none"/>
<text x="238.8" y="397" font-family="Liberation Sans, Arial, sans-serif" font-size="12.3" fill="#ff1a1a">2800 s<tspan font-size="9.8" dy="-4.6" dx="1">-1</tspan></text>
<g font-family="Liberation Sans, Arial, sans-serif" font-size="12" fill="#000">
<text x="52.6" y="592.8" text-anchor="middle">0</text>
<text x="87.6" y="592.8" text-anchor="middle">0.1</text>
<text x="122.6" y="592.8" text-anchor="middle">0.2</text>
<text x="157.6" y="592.8" text-anchor="middle">0.3</text>
<text x="192.5" y="592.8" text-anchor="middle">0.4</text>
<text x="227.5" y="592.8" text-anchor="middle">0.5</text>
<text x="262.5" y="592.8" text-anchor="middle">0.6</text>
<text x="46.8" y="579.8" text-anchor="end">0</text>
<text x="46.8" y="527.2" text-anchor="end">50</text>
<text x="46.8" y="474.6" text-anchor="end">100</text>
<text x="46.8" y="422" text-anchor="end">150</text>
<text x="46.8" y="369.4" text-anchor="end">200</text>
</g>
<text x="157" y="613.6" text-anchor="middle" font-family="Liberation Sans, Arial, sans-serif" font-weight="bold" font-size="14.2">True Strain</text>
<text x="0" y="0" transform="translate(15.2 477.6) rotate(-90)" text-anchor="middle" font-family="Liberation Sans, Arial, sans-serif" font-weight="bold" font-size="14.2">True Stress (MPa)</text>
<text x="0.6" y="330.7" font-family="Liberation Serif, Times New Roman, serif" font-weight="bold" font-size="18">(c)</text>
<path d="M375.7 575.8 L376.9 576.6 L378.5 576.3 L380.2 576.1 L381.9 575.5 L383.6 574.5 L384.9 573.5 L386 571.6 L386.7 570.9 L387.1 569.3 L387.5 568 L387.7 566.7 L388.3 564.9 L388.7 563.1 L389 561.5 L389.5 559.7 L389.8 557.3 L390.3 556 L390.7 554.1 L390.8 553 L391 551.6 L391.5 549.6 L391.7 548.5 L392 546.8 L392.3 544.7 L392.6 543.6 L392.6 541.9 L393 539.4 L393.1 538.4 L393.6 536.1 L393.8 535 L394.2 533.2 L394.4 531.7 L394.4 530.3 L394.9 528.8 L395.2 526.5 L395.5 524.6 L395.8 523.2 L396.3 521.5 L396.6 520.3 L397.1 518.9 L397.4 517.5 L397.5 516.3 L397.8 514.5 L398.2 513.1 L399 511 L399.3 509.3 L399.7 508 L400.2 506 L400.9 505 L401.1 504 L402.2 501.6 L403.1 500.6 L404 498.9 L405 498.1 L407.1 497.8 L409.4 497.7 L410.5 498.9 L412 499.2 L413.4 499.8 L415.3 500.9 L416.2 501.2 L417.3 502.6 L418.7 502.5 L419.8 503.8 L421.3 504.6 L422.9 505.4 L424.4 506.9 L425.7 507.1 L426.9 507.6 L428.4 508.7 L429.8 509 L431.3 509.7 L433 510.5 L434.3 511 L436 511.5 L437.4 511.9 L438.6 512.5 L440.5 513.2 L442 513.8 L443.6 515 L445.4 515.7 L447 515.8 L448.6 515.8 L450 516.5 L451.2 517.2 L452.8 517.3 L453.3 518.1 L454.1 518.1 L455.2 517.8 L457 518 L460.4 518.7 L461.6 518.2 L462.6 518.3 L463.9 518.8 L465.3 518.5 L466.7 518.6 L467.9 518.4 L469.4 519.1 L471.2 518.9 L472.6 518.4 L474.3 518.5 L476.2 518.2 L477.8 518.9 L479.5 518.6 L481.5 518.8 L483.2 519.1 L485 518.5 L486.7 519.1 L488.6 519 L490.3 518.2 L491.9 518.4 L493.8 518 L495.4 518.8 L496.9 517.9 L498.6 518.3 L500 518.4 L501.4 518.1 L502.8 518.6 L504 518.2 L505.9 517.8 L507.9 518.1 L509.8 517.7 L511.5 517.7 L513.1 516.7 L514.6 516.4 L515.9 516 L517.3 516 L518.5 516.1 L519.7 515.7 L521.2 514.6 L522.5 514.7 L523.9 514.4 L525.1 514.4 L526.5 514 L528 513.2 L529.4 513.5 L530.9 513.1 L532.2 512.8 L533.6 511.9 L534.9 512.2 L536.2 511.9 L537.6 511.3 L539.2 511.6 L540.7 510.8 L542.1 510.8 L543.7 510.2 L545.4 509.8 L547.2 509.5 L548.8 509.4 L550.1 509.1 L551.5 509.1 L553.1 508.6 L554.5 508.2 L556.2 507.4 L558.1 506.9 L559.7 506.6 L561.6 507.1 L563.1 506.3 L565 506.2 L566.9 505.5 L568.8 505 L570.3 505.3 L572 504.3 L573.7 504.1 L575.2 504.4 L576.9 504 L578.2 503.8 L579.6 503.6 L580.9 503.4 L582.1 502.8 L583 502.9 L583.8 502" fill="none" stroke="#000000" stroke-width="2.4" stroke-linejoin="round" stroke-linecap="round"/>
<rect x="380.1" y="573.7" width="4.4" height="4.4" fill="#000000"/>
<rect x="384.3" y="570" width="3.6" height="3.6" fill="#000000"/>
<rect x="385.7" y="564.8" width="3.6" height="3.6" fill="#000000"/>
<rect x="387.1" y="559.8" width="4.4" height="4.4" fill="#000000"/>
<rect x="388.3" y="555.1" width="3.6" height="3.6" fill="#000000"/>
<rect x="389.1" y="551.3" width="3.6" height="3.6" fill="#000000"/>
<rect x="389.4" y="545.9" width="4.4" height="4.4" fill="#000000"/>
<rect x="390.5" y="541.8" width="3.6" height="3.6" fill="#000000"/>
<rect x="391.2" y="537.3" width="3.6" height="3.6" fill="#000000"/>
<rect x="391.5" y="532.9" width="4.4" height="4.4" fill="#000000"/>
<rect x="392.8" y="528.6" width="3.6" height="3.6" fill="#000000"/>
<rect x="393.4" y="523.3" width="3.6" height="3.6" fill="#000000"/>
<rect x="394.3" y="518.7" width="4.4" height="4.4" fill="#000000"/>
<rect x="396.1" y="514" width="3.6" height="3.6" fill="#000000"/>
<rect x="397.2" y="509.8" width="3.6" height="3.6" fill="#000000"/>
<rect x="397.9" y="503.8" width="4.4" height="4.4" fill="#000000"/>
<rect x="400.3" y="499.2" width="3.6" height="3.6" fill="#000000"/>
<rect x="402.9" y="495.9" width="3.6" height="3.6" fill="#000000"/>
<rect x="407" y="495.7" width="4.4" height="4.4" fill="#000000"/>
<rect x="411.7" y="498.5" width="3.6" height="3.6" fill="#000000"/>
<rect x="415.6" y="500.7" width="3.6" height="3.6" fill="#000000"/>
<rect x="419.4" y="502.5" width="4.4" height="4.4" fill="#000000"/>
<rect x="423.9" y="505.7" width="3.6" height="3.6" fill="#000000"/>
<rect x="428.1" y="507" width="3.6" height="3.6" fill="#000000"/>
<rect x="432.2" y="508.6" width="4.4" height="4.4" fill="#000000"/>
<rect x="437.2" y="510.4" width="3.6" height="3.6" fill="#000000"/>
<rect x="442.2" y="512.7" width="3.6" height="3.6" fill="#000000"/>
<rect x="446" y="513.6" width="4.4" height="4.4" fill="#000000"/>
<rect x="450.7" y="515.5" width="3.6" height="3.6" fill="#000000"/>
<rect x="454.9" y="516.7" width="3.6" height="3.6" fill="#000000"/>
<rect x="459.5" y="516.2" width="4.4" height="4.4" fill="#000000"/>
<rect x="465.2" y="517.4" width="3.6" height="3.6" fill="#000000"/>
<rect x="469.6" y="517.3" width="3.6" height="3.6" fill="#000000"/>
<rect x="473.6" y="515.5" width="4.4" height="4.4" fill="#000000"/>
<rect x="479.6" y="517.5" width="3.6" height="3.6" fill="#000000"/>
<rect x="484.8" y="517.4" width="3.6" height="3.6" fill="#000000"/>
<rect x="489.3" y="516.1" width="4.4" height="4.4" fill="#000000"/>
<rect x="495.5" y="516.2" width="3.6" height="3.6" fill="#000000"/>
<rect x="499.9" y="515.8" width="3.6" height="3.6" fill="#000000"/>
<rect x="503.5" y="515.2" width="4.4" height="4.4" fill="#000000"/>
<rect x="510" y="515.4" width="3.6" height="3.6" fill="#000000"/>
<rect x="514.5" y="513.9" width="3.6" height="3.6" fill="#000000"/>
<rect x="519.3" y="512.5" width="4.4" height="4.4" fill="#000000"/>
<rect x="524.5" y="512.7" width="3.6" height="3.6" fill="#000000"/>
<rect x="529" y="511.5" width="3.6" height="3.6" fill="#000000"/>
<rect x="532.4" y="510.4" width="4.4" height="4.4" fill="#000000"/>
<rect x="537.8" y="509.3" width="3.6" height="3.6" fill="#000000"/>
<rect x="542.1" y="508.1" width="3.6" height="3.6" fill="#000000"/>
<rect x="546.3" y="507" width="4.4" height="4.4" fill="#000000"/>
<rect x="551.4" y="507.3" width="3.6" height="3.6" fill="#000000"/>
<rect x="556.7" y="505.7" width="3.6" height="3.6" fill="#000000"/>
<rect x="561" y="504.3" width="4.4" height="4.4" fill="#000000"/>
<rect x="566.7" y="503.5" width="3.6" height="3.6" fill="#000000"/>
<rect x="572" y="502.2" width="3.6" height="3.6" fill="#000000"/>
<rect x="576.3" y="501.3" width="4.4" height="4.4" fill="#000000"/>
<rect x="580" y="500.6" width="3.6" height="3.6" fill="#000000"/>
<path d="M375.1 576.3 L376.4 575.5 L377.9 575.3 L379.6 574.4 L381.1 572.9 L381.9 572.3 L382.8 571.6 L383.6 570.4 L384.4 567.9 L385.3 565.9 L385.6 565.1 L385.8 563.9 L386.3 562.4 L386.6 561.5 L386.9 559.3 L387.1 557.7 L387.5 556.1 L387.9 554.8 L388.1 553.3 L388.6 551.3 L388.7 549.7 L389.1 548.6 L389.5 546.4 L389.6 544.6 L389.9 543.9 L390.3 541.6 L390.6 539.9 L390.8 538.6 L391 537.3 L391.4 535.5 L391.5 533.9 L391.9 532.3 L392 530.8 L392.3 528.5 L392.6 526.9 L392.8 525.8 L393.3 524 L393.4 522.9 L393.6 521.2 L394.1 519.5 L394.2 517.4 L394.7 516.7 L395.1 514.2 L395.3 513 L395.5 511.7 L395.9 510.4 L396.2 509.1 L396.7 507.3 L396.8 506 L397.1 505 L397.5 503.7 L398.2 501.1 L398.7 500 L399 498 L399.6 496.8 L400.3 495.3 L400.9 494.2 L402.1 492.3 L403.5 491.3 L404.5 490.2 L406.6 490.8 L408.9 490.8 L410.3 491.8 L411.6 492.1 L413.4 492.5 L415 493.7 L416.4 495 L417.4 495.7 L418.7 496.4 L419.9 497.4 L421.3 498.2 L422.8 498.3 L424.4 499.5 L425.6 500 L427 500.8 L428.3 501.1 L429.8 502 L431.3 502.8 L432.8 503.3 L434.3 504.2 L435.9 504.8 L437.3 504.9 L438.8 505.7 L440.3 506.2 L441.9 507.2 L443.6 507.6 L445.2 507.9 L446.6 508.6 L448.1 509.2 L449.8 510 L451.2 510 L453 510.9 L454.5 511.2 L456 511.3 L457.4 511.7 L458.9 512.6 L460.6 512.6 L462.4 513 L463.8 512.8 L465.3 513.4 L466.9 513.3 L468.3 513.3 L469.7 513.8 L471.4 514.1 L473 513.8 L474.6 513.7 L476.7 513.6 L478.5 513.7 L480.1 514.2 L481.3 514.2 L482.9 513.8 L484.2 514.1 L485.8 513.4 L487.6 513.7 L489.1 513.8 L490.7 513.2 L492.4 513.5 L494 513.4 L495.9 513.2 L497.6 513.4 L499.1 512.7 L500.8 513.1 L502.3 512.5 L504 513 L505.4 512.4 L507.1 511.9 L508.5 511.5 L510.2 511.5 L511.7 510.6 L513.1 510.4 L514.7 510 L516.3 509.4 L517.8 509.1 L519.3 508.6 L520.7 508.3 L522 508.3 L523.7 507.4 L525.2 507.2 L526.7 506.4 L528 506.2 L529.5 506.4 L531 505.8 L532.2 505.7 L533.5 504.8 L535 504.6 L536.4 503.9 L537.7 503.7 L538.9 503.2 L540.4 503.1 L542 502.9 L543.6 502.7 L545.3 502.6 L546.9 501.7 L548.9 501.1 L550.3 500.6 L551.7 500.5 L553 500.4 L554.7 499.7 L556.2 500 L557.9 498.8 L559.8 498.8 L561.4 498.2 L563.4 497.8 L565 498 L566.8 497 L568.5 496.9 L570.4 496.3 L572.1 495.7 L573.8 495.6 L575.4 495.1 L576.9 494.4 L578.2 495 L579.7 494.4 L580.9 494 L581.9 493.4 L583 493.7 L583.7 493.5" fill="none" stroke="#2040ff" stroke-width="2.4" stroke-linejoin="round" stroke-linecap="round"/>
<circle cx="380.8" cy="573.1" r="2.3" fill="#2040ff"/>
<circle cx="384.1" cy="567.9" r="1.9" fill="#2040ff"/>
<circle cx="385.7" cy="563.9" r="1.9" fill="#2040ff"/>
<circle cx="386.6" cy="559.3" r="2.3" fill="#2040ff"/>
<circle cx="388" cy="554.4" r="1.9" fill="#2040ff"/>
<circle cx="388.6" cy="549.9" r="1.9" fill="#2040ff"/>
<circle cx="389.7" cy="544.7" r="2.3" fill="#2040ff"/>
<circle cx="390.8" cy="540" r="1.9" fill="#2040ff"/>
<circle cx="391.2" cy="535.4" r="1.9" fill="#2040ff"/>
<circle cx="392.3" cy="530.9" r="2.3" fill="#2040ff"/>
<circle cx="393" cy="525.7" r="1.9" fill="#2040ff"/>
<circle cx="393.6" cy="521.8" r="1.9" fill="#2040ff"/>
<circle cx="394.9" cy="516.9" r="2.3" fill="#2040ff"/>
<circle cx="395.2" cy="511.8" r="1.9" fill="#2040ff"/>
<circle cx="396.3" cy="507.8" r="1.9" fill="#2040ff"/>
<circle cx="398.6" cy="501.4" r="2.3" fill="#2040ff"/>
<circle cx="399.4" cy="497.2" r="1.9" fill="#2040ff"/>
<circle cx="401.9" cy="492.7" r="1.9" fill="#2040ff"/>
<circle cx="406.7" cy="490.2" r="2.3" fill="#2040ff"/>
<circle cx="411.9" cy="492" r="1.9" fill="#2040ff"/>
<circle cx="416.6" cy="495.3" r="1.9" fill="#2040ff"/>
<circle cx="420" cy="497.8" r="2.3" fill="#2040ff"/>
<circle cx="424.2" cy="499.9" r="1.9" fill="#2040ff"/>
<circle cx="428.2" cy="500.6" r="1.9" fill="#2040ff"/>
<circle cx="432.6" cy="502.8" r="2.3" fill="#2040ff"/>
<circle cx="437" cy="505" r="1.9" fill="#2040ff"/>
<circle cx="441.6" cy="506.8" r="1.9" fill="#2040ff"/>
<circle cx="446.5" cy="508.4" r="2.3" fill="#2040ff"/>
<circle cx="451.6" cy="510.5" r="1.9" fill="#2040ff"/>
<circle cx="456.3" cy="511.8" r="1.9" fill="#2040ff"/>
<circle cx="460.6" cy="513" r="2.3" fill="#2040ff"/>
<circle cx="465.1" cy="514" r="1.9" fill="#2040ff"/>
<circle cx="470" cy="514.1" r="1.9" fill="#2040ff"/>
<circle cx="474.4" cy="513.2" r="2.3" fill="#2040ff"/>
<circle cx="480.4" cy="514.3" r="1.9" fill="#2040ff"/>
<circle cx="484.3" cy="514.5" r="1.9" fill="#2040ff"/>
<circle cx="488.8" cy="514" r="2.3" fill="#2040ff"/>
<circle cx="494" cy="513.7" r="1.9" fill="#2040ff"/>
<circle cx="499" cy="512.3" r="1.9" fill="#2040ff"/>
<circle cx="504.4" cy="512.7" r="2.3" fill="#2040ff"/>
<circle cx="508.7" cy="511.9" r="1.9" fill="#2040ff"/>
<circle cx="512.9" cy="510.6" r="1.9" fill="#2040ff"/>
<circle cx="517.7" cy="508.7" r="2.3" fill="#2040ff"/>
<circle cx="521.8" cy="508.9" r="1.9" fill="#2040ff"/>
<circle cx="526.6" cy="506.4" r="1.9" fill="#2040ff"/>
<circle cx="531" cy="505.2" r="2.3" fill="#2040ff"/>
<circle cx="535.2" cy="504.9" r="1.9" fill="#2040ff"/>
<circle cx="539.2" cy="503.1" r="1.9" fill="#2040ff"/>
<circle cx="543.3" cy="502.5" r="2.3" fill="#2040ff"/>
<circle cx="549.1" cy="501.3" r="1.9" fill="#2040ff"/>
<circle cx="553" cy="500.4" r="1.9" fill="#2040ff"/>
<circle cx="557.7" cy="499.3" r="2.3" fill="#2040ff"/>
<circle cx="563.3" cy="497.8" r="1.9" fill="#2040ff"/>
<circle cx="568.8" cy="496.5" r="1.9" fill="#2040ff"/>
<circle cx="574" cy="495.4" r="2.3" fill="#2040ff"/>
<circle cx="578.5" cy="494.5" r="1.9" fill="#2040ff"/>
<circle cx="581.7" cy="493.6" r="1.9" fill="#2040ff"/>
<path d="M374.8 576.1 L375.8 575.2 L377.2 574 L378.9 573 L380.3 571.6 L380.9 570.6 L381.4 569.6 L382.1 568.5 L382.8 566.9 L383.4 565.1 L383.9 563.8 L384.3 560.9 L384.7 560.1 L385 558.5 L385.5 557.3 L385.6 555.6 L386.1 554.1 L386.4 552.8 L386.7 551.1 L387.1 549 L387.5 547.5 L387.5 546.3 L388 544.4 L388.2 542.9 L388.6 541.1 L388.8 539.5 L389.2 537.8 L389.4 536 L389.7 535.1 L389.9 533.4 L390.3 531.4 L390.6 530.6 L390.6 528.4 L390.9 526.8 L391.2 525.5 L391.5 523.7 L391.8 522.3 L392.2 521.1 L392.2 519.2 L392.4 517.9 L392.7 516.9 L393.3 515.4 L393.4 512.7 L393.9 511.4 L394.3 509.6 L394.4 507.7 L394.9 506.5 L395.1 504.9 L395.5 503.8 L395.7 501.7 L396 501 L396.3 499.5 L396.7 498 L397.2 495.9 L397.7 494.7 L398.1 492.6 L398.9 491.8 L399.2 490.1 L399.9 489.2 L400.4 487.5 L401.7 486.3 L403.2 484.8 L404.7 484.8 L406.1 484 L407.6 484.7 L409.3 485.4 L410.4 486.3 L411.8 487.1 L413.3 487.8 L415.2 488.4 L416.3 489.1 L417.5 489.8 L418.7 491 L419.8 492 L421.3 492.9 L422.7 493.9 L424.3 495.3 L425.6 495.4 L426.9 496.6 L428.3 496.9 L429.9 497.4 L431.4 497.9 L432.7 498.3 L434.4 499.8 L435.8 500 L437.4 500.5 L438.6 501.3 L440.3 502.3 L442.1 502.3 L443.6 503 L445 503.6 L446.8 504 L448.2 505 L449.6 505.7 L451.2 505.5 L452.9 505.7 L454.4 506.2 L455.9 506.4 L457.4 507 L458.9 507.2 L460.5 507.9 L462.1 508.5 L463.9 508.2 L465.3 509.1 L466.7 509.3 L468.2 509.7 L469.7 509.6 L471.4 509.3 L472.8 510.1 L474.7 510.3 L476.5 510.2 L478.6 510.2 L479.9 510.4 L481.3 510.1 L482.8 509.9 L484.4 510.3 L485.8 509.9 L487.5 510.2 L489.2 510 L490.7 510.5 L492.4 510.5 L494.3 510.4 L496 509.6 L497.6 509.8 L499.1 510.1 L500.8 509.8 L502.4 508.9 L504 508.8 L505.4 509.1 L507 508.7 L508.7 508.1 L510.2 507.8 L511.7 508.1 L513.2 507.2 L514.6 507.8 L516.1 507 L517.6 506.9 L519.2 506.5 L520.6 506.1 L522.1 505.4 L523.7 505.8 L525.2 505.5 L526.6 505 L528 504.6 L529.6 504.4 L531 504 L532.2 503.6 L533.6 502.7 L534.9 502.9 L536.4 502.5 L537.7 501.5 L539 501.5 L540.5 500.9 L541.9 500.3 L543.7 500 L545.4 499.6 L547.1 499.2 L548.8 498.8 L550 498.5 L551.6 497.8 L553.2 497.8 L554.5 498 L556.2 496.9 L557.8 496.4 L559.8 496.5 L561.5 495.8 L563.2 496.1 L565 495.7 L567 494.4 L568.7 493.9 L570.4 494.3 L572.1 493.7 L573.8 492.9 L575.4 492.7 L576.8 492.3 L578.4 492.3 L579.7 492.1 L580.9 492.1 L582.1 491.5 L582.9 491.6 L583.8 490.6" fill="none" stroke="#ff1a1a" stroke-width="2.4" stroke-linejoin="round" stroke-linecap="round"/>
<circle cx="378.8" cy="573.2" r="2.3" fill="#ff1a1a"/>
<circle cx="381.8" cy="569.8" r="1.9" fill="#ff1a1a"/>
<circle cx="383.5" cy="565.6" r="1.9" fill="#ff1a1a"/>
<circle cx="384.6" cy="560.9" r="2.3" fill="#ff1a1a"/>
<circle cx="385.6" cy="555.9" r="1.9" fill="#ff1a1a"/>
<circle cx="386.5" cy="550.7" r="1.9" fill="#ff1a1a"/>
<circle cx="387.6" cy="546.7" r="2.3" fill="#ff1a1a"/>
<circle cx="388.4" cy="541.3" r="1.9" fill="#ff1a1a"/>
<circle cx="389.7" cy="535.6" r="1.9" fill="#ff1a1a"/>
<circle cx="390" cy="531.4" r="2.3" fill="#ff1a1a"/>
<circle cx="390.8" cy="527.4" r="1.9" fill="#ff1a1a"/>
<circle cx="392.2" cy="522.2" r="1.9" fill="#ff1a1a"/>
<circle cx="392.7" cy="518" r="2.3" fill="#ff1a1a"/>
<circle cx="393.2" cy="513.3" r="1.9" fill="#ff1a1a"/>
<circle cx="394.1" cy="507.2" r="1.9" fill="#ff1a1a"/>
<circle cx="395.4" cy="503.2" r="2.3" fill="#ff1a1a"/>
<circle cx="396.3" cy="499.4" r="1.9" fill="#ff1a1a"/>
<circle cx="398.1" cy="494.6" r="1.9" fill="#ff1a1a"/>
<circle cx="399.4" cy="490.5" r="2.3" fill="#ff1a1a"/>
<circle cx="401.8" cy="486" r="1.9" fill="#ff1a1a"/>
<circle cx="406" cy="484" r="1.9" fill="#ff1a1a"/>
<circle cx="410.4" cy="486.5" r="2.3" fill="#ff1a1a"/>
<circle cx="415.2" cy="488.2" r="1.9" fill="#ff1a1a"/>
<circle cx="418.8" cy="491.6" r="1.9" fill="#ff1a1a"/>
<circle cx="422.4" cy="493.7" r="2.3" fill="#ff1a1a"/>
<circle cx="426.5" cy="496.1" r="1.9" fill="#ff1a1a"/>
<circle cx="431.1" cy="497.8" r="1.9" fill="#ff1a1a"/>
<circle cx="436" cy="500.3" r="2.3" fill="#ff1a1a"/>
<circle cx="440.7" cy="502.7" r="1.9" fill="#ff1a1a"/>
<circle cx="445" cy="503.7" r="1.9" fill="#ff1a1a"/>
<circle cx="449.2" cy="505.5" r="2.3" fill="#ff1a1a"/>
<circle cx="454.2" cy="506.3" r="1.9" fill="#ff1a1a"/>
<circle cx="458.6" cy="507.2" r="1.9" fill="#ff1a1a"/>
<circle cx="463.8" cy="508.2" r="2.3" fill="#ff1a1a"/>
<circle cx="468.1" cy="509.2" r="1.9" fill="#ff1a1a"/>
<circle cx="472.9" cy="510.5" r="1.9" fill="#ff1a1a"/>
<circle cx="478.6" cy="509.7" r="2.3" fill="#ff1a1a"/>
<circle cx="482.9" cy="510.3" r="1.9" fill="#ff1a1a"/>
<circle cx="487.8" cy="510.5" r="1.9" fill="#ff1a1a"/>
<circle cx="492" cy="511" r="2.3" fill="#ff1a1a"/>
<circle cx="497.7" cy="509.6" r="1.9" fill="#ff1a1a"/>
<circle cx="502.7" cy="509.3" r="1.9" fill="#ff1a1a"/>
<circle cx="507.3" cy="508.4" r="2.3" fill="#ff1a1a"/>
<circle cx="511.7" cy="508" r="1.9" fill="#ff1a1a"/>
<circle cx="516" cy="507.3" r="1.9" fill="#ff1a1a"/>
<circle cx="520.7" cy="505.9" r="2.3" fill="#ff1a1a"/>
<circle cx="525.2" cy="506" r="1.9" fill="#ff1a1a"/>
<circle cx="529.6" cy="504.9" r="1.9" fill="#ff1a1a"/>
<circle cx="533.6" cy="503.3" r="2.3" fill="#ff1a1a"/>
<circle cx="537.3" cy="501.4" r="1.9" fill="#ff1a1a"/>
<circle cx="542" cy="500.6" r="1.9" fill="#ff1a1a"/>
<circle cx="547.5" cy="499.3" r="2.3" fill="#ff1a1a"/>
<circle cx="551.5" cy="498" r="1.9" fill="#ff1a1a"/>
<circle cx="556.2" cy="497.2" r="1.9" fill="#ff1a1a"/>
<circle cx="561.8" cy="495.2" r="2.3" fill="#ff1a1a"/>
<circle cx="566.8" cy="494.9" r="1.9" fill="#ff1a1a"/>
<circle cx="571.8" cy="494" r="1.9" fill="#ff1a1a"/>
<circle cx="576.5" cy="492.4" r="2.3" fill="#ff1a1a"/>
<circle cx="581.1" cy="491.8" r="1.9" fill="#ff1a1a"/>
<path d="M374.3 575.9 L375.1 575.6 L376.1 574.6 L377.2 574.1 L378.4 572.8 L379.3 570.6 L379.9 569.4 L380.5 568.1 L380.9 567.5 L381.4 565.4 L381.7 564.5 L382.4 562.6 L382.8 561.2 L383.1 560 L383.5 557.4 L383.8 556 L384.1 555.2 L384.5 553.3 L384.8 552.2 L384.9 551 L385.4 548.8 L385.7 547.8 L385.8 545.4 L386.2 544.6 L386.3 542.9 L386.8 541.1 L387.1 539.8 L387.2 538 L387.6 535.8 L387.9 534.5 L388.2 532.9 L388.3 531 L388.6 529.3 L389 528.4 L389 526.6 L389.4 524.4 L389.7 523.4 L389.8 521 L390.1 520.1 L390.4 518.5 L390.6 516.2 L390.9 515.4 L391.1 513.1 L391.6 511.6 L391.8 510.2 L391.9 509.4 L392.5 507.4 L392.7 505.3 L393 503.8 L393.5 502.7 L393.9 500.9 L394.2 499 L394.5 497.7 L394.8 496.7 L395.1 495 L395.5 494.3 L395.9 492.7 L396.2 492 L397 489.5 L397.5 488.3 L398 486.2 L398.6 485.3 L399.4 483.8 L400 483.7 L401.5 481.4 L403.1 480.9 L404.6 479.6 L406.3 480.3 L408.1 480.8 L409.6 481.4 L410.9 481.8 L412.1 482.9 L413.6 483.6 L415.1 484.5 L416.1 485.1 L417.4 485.7 L418.5 486.6 L419.7 487.3 L421.4 487.6 L422.9 488.3 L424.5 489.4 L425.6 489.7 L427 490.9 L428.2 491.8 L429.7 491.8 L431.3 492.7 L433 493.7 L434.4 493.8 L435.7 494.1 L437.3 495.2 L438.7 496.2 L440.1 496.3 L441.6 496.8 L443.2 497.8 L444.4 498.3 L445.7 498.9 L447.2 499.6 L448.7 500.3 L449.8 500.3 L451.2 501.1 L453 502.1 L454.3 502.4 L455.9 502.6 L457.5 502.4 L458.9 503.3 L460.7 503.3 L462.4 504 L463.9 503.5 L465.4 504.3 L466.8 503.8 L468.3 504 L469.8 504.7 L471.2 504.6 L472.8 504.4 L474.5 505.1 L476.5 505 L478.6 505.2 L480 505.1 L481.3 505 L482.7 505.4 L484.3 505 L485.9 504.6 L487.4 504.8 L489.2 504.6 L490.8 505.5 L492.5 505.3 L494.1 504.9 L495.9 504.9 L497.6 504.9 L499.2 505.1 L500.9 505.4 L502.3 505.3 L503.7 505.1 L505.3 504.6 L507 504.6 L508.5 503.8 L510.2 503.9 L511.7 503.5 L513 503.5 L514.6 502.9 L516 502.3 L517.7 502.5 L519.2 501.8 L520.7 501.7 L522 501.2 L523.6 501.1 L525 500.3 L526.6 499.7 L528 500 L529.5 499.1 L531 498.7 L532.3 498.4 L533.5 498.1 L534.9 497.8 L536.4 498.1 L537.6 497.5 L539.1 496.9 L540.5 496.9 L542.2 495.6 L543.6 495.5 L545.2 495.2 L547.2 494.4 L549 494.3 L550 494.6 L551.5 493.6 L553 493.4 L554.5 492.9 L556.2 493 L558 492.4 L559.7 492.5 L561.5 491.7 L563.4 491.8 L565.1 491.2 L566.8 490.5 L568.7 490.6 L570.3 490.6 L572.2 489.4 L573.8 489.2 L575.4 489.5 L576.8 488.9 L578.4 488.3 L579.7 488.3 L581 487.8 L582 487.5 L582.9 487.4 L583.7 487.6" fill="none" stroke="#30a024" stroke-width="2.4" stroke-linejoin="round" stroke-linecap="round"/>
<rect x="376" y="570.9" width="4.4" height="4.4" fill="#30a024"/>
<rect x="378.3" y="566.4" width="3.6" height="3.6" fill="#30a024"/>
<rect x="380.8" y="560.4" width="3.6" height="3.6" fill="#30a024"/>
<rect x="381" y="555.5" width="4.4" height="4.4" fill="#30a024"/>
<rect x="382.6" y="552" width="3.6" height="3.6" fill="#30a024"/>
<rect x="383.4" y="546.9" width="3.6" height="3.6" fill="#30a024"/>
<rect x="384.4" y="542.2" width="4.4" height="4.4" fill="#30a024"/>
<rect x="385.6" y="538.4" width="3.6" height="3.6" fill="#30a024"/>
<rect x="385.6" y="534" width="3.6" height="3.6" fill="#30a024"/>
<rect x="386.4" y="528.3" width="4.4" height="4.4" fill="#30a024"/>
<rect x="387.5" y="525.1" width="3.6" height="3.6" fill="#30a024"/>
<rect x="388.2" y="519.4" width="3.6" height="3.6" fill="#30a024"/>
<rect x="388.1" y="514.6" width="4.4" height="4.4" fill="#30a024"/>
<rect x="389.4" y="510.2" width="3.6" height="3.6" fill="#30a024"/>
<rect x="390.8" y="505.4" width="3.6" height="3.6" fill="#30a024"/>
<rect x="391.5" y="500.4" width="4.4" height="4.4" fill="#30a024"/>
<rect x="392.9" y="495.3" width="3.6" height="3.6" fill="#30a024"/>
<rect x="394.5" y="490.7" width="3.6" height="3.6" fill="#30a024"/>
<rect x="395.5" y="486" width="4.4" height="4.4" fill="#30a024"/>
<rect x="397.9" y="481.8" width="3.6" height="3.6" fill="#30a024"/>
<rect x="401.4" y="478.5" width="3.6" height="3.6" fill="#30a024"/>
<rect x="405.9" y="478.1" width="4.4" height="4.4" fill="#30a024"/>
<rect x="410.6" y="481.3" width="3.6" height="3.6" fill="#30a024"/>
<rect x="414.3" y="483.8" width="3.6" height="3.6" fill="#30a024"/>
<rect x="417.9" y="485.6" width="4.4" height="4.4" fill="#30a024"/>
<rect x="422.3" y="487.8" width="3.6" height="3.6" fill="#30a024"/>
<rect x="426.6" y="490.1" width="3.6" height="3.6" fill="#30a024"/>
<rect x="430.4" y="492" width="4.4" height="4.4" fill="#30a024"/>
<rect x="435.5" y="493.5" width="3.6" height="3.6" fill="#30a024"/>
<rect x="440" y="494.7" width="3.6" height="3.6" fill="#30a024"/>
<rect x="443.1" y="497.2" width="4.4" height="4.4" fill="#30a024"/>
<rect x="447.8" y="498" width="3.6" height="3.6" fill="#30a024"/>
<rect x="452.2" y="501.2" width="3.6" height="3.6" fill="#30a024"/>
<rect x="456.9" y="500.8" width="4.4" height="4.4" fill="#30a024"/>
<rect x="461.8" y="502.2" width="3.6" height="3.6" fill="#30a024"/>
<rect x="466.6" y="502.3" width="3.6" height="3.6" fill="#30a024"/>
<rect x="470.3" y="502.1" width="4.4" height="4.4" fill="#30a024"/>
<rect x="477.2" y="502.8" width="3.6" height="3.6" fill="#30a024"/>
<rect x="480.8" y="503.1" width="3.6" height="3.6" fill="#30a024"/>
<rect x="485.6" y="502.1" width="4.4" height="4.4" fill="#30a024"/>
<rect x="491.1" y="504" width="3.6" height="3.6" fill="#30a024"/>
<rect x="496" y="502.6" width="3.6" height="3.6" fill="#30a024"/>
<rect x="500.3" y="503.1" width="4.4" height="4.4" fill="#30a024"/>
<rect x="505.2" y="502.3" width="3.6" height="3.6" fill="#30a024"/>
<rect x="509.9" y="502.1" width="3.6" height="3.6" fill="#30a024"/>
<rect x="513.5" y="500.6" width="4.4" height="4.4" fill="#30a024"/>
<rect x="518.8" y="499.6" width="3.6" height="3.6" fill="#30a024"/>
<rect x="523" y="498.4" width="3.6" height="3.6" fill="#30a024"/>
<rect x="527.4" y="497" width="4.4" height="4.4" fill="#30a024"/>
<rect x="532" y="496.3" width="3.6" height="3.6" fill="#30a024"/>
<rect x="535.8" y="496.3" width="3.6" height="3.6" fill="#30a024"/>
<rect x="539.8" y="492.8" width="4.4" height="4.4" fill="#30a024"/>
<rect x="545.2" y="492.4" width="3.6" height="3.6" fill="#30a024"/>
<rect x="549.4" y="491.7" width="3.6" height="3.6" fill="#30a024"/>
<rect x="553.6" y="491.3" width="4.4" height="4.4" fill="#30a024"/>
<rect x="559.7" y="490.4" width="3.6" height="3.6" fill="#30a024"/>
<rect x="565.2" y="488.9" width="3.6" height="3.6" fill="#30a024"/>
<rect x="570.2" y="486.9" width="4.4" height="4.4" fill="#30a024"/>
<rect x="575.2" y="486.8" width="3.6" height="3.6" fill="#30a024"/>
<rect x="579.3" y="486.1" width="3.6" height="3.6" fill="#30a024"/>
<path d="M374.6 575.3 L374.5 576.1 L375.2 575.3 L375 571.9 L375.5 571.7 L376.5 569.7 L377 567.4 L377.3 566.4 L377.8 563.6 L378 562 L378.4 560.9 L378.1 559.2 L378.6 557.8 L379 556.2 L379.1 554.9 L379.3 554.8 L379.3 550.8 L380.1 550.2 L380.1 549.2 L380.3 546.6 L380.3 546.7 L381.3 543.5 L381.2 542 L381.1 541.9 L382 538.7 L381.8 538.4 L382.5 536.3 L382.4 534.2 L383 534.2 L383.4 530.7 L383.4 531.4 L383.8 528.4 L383.6 525.8 L384.4 524.2 L384.7 524.2 L384.7 523.2 L385.4 520.9 L385 519.4 L385.5 517 L386.2 516.8 L385.8 514.1 L386.3 513.2 L386.7 511.1 L387.4 508.7 L387.6 507.4 L388.1 507.3 L388 504.7 L388.1 502.6 L388.8 501.7 L388.9 498.6 L389.1 498.5 L389.4 496.4 L390.1 496.7 L390.3 493.7 L391 491.7 L391.7 489.5 L391.9 488.5 L393 486.3 L393 484.8 L393.7 484 L394.4 483.9 L395.4 481.5 L396.4 480.8 L397.8 478.6 L398.9 477.1 L399.9 476.8 L401.1 475.3 L402.2 473.8 L404 473.6 L405.2 473.3 L406.5 472.1 L407.6 472.2 L409.8 472.8 L410.5 473.4 L412.2 472.1 L413.6 472.8 L415.7 474.2 L417 474 L418.8 474.7 L420.1 476.5 L421.8 476.8 L423.2 477.3 L424.1 476.3 L425.6 477.5 L427.4 479.7 L428.9 479.3 L430 481.5 L431.7 480.5 L432.6 482.9 L434.2 483.4 L435.5 483.7 L437 485.2 L438.3 484 L439.5 486.7 L441.5 487 L442.6 486.8 L443.9 487.1 L446.1 487.8 L447.5 489.3 L448.7 490.2 L450.9 490.3 L451.8 491.9 L453.5 492.1 L455.2 493.6 L456.8 492.1 L458.5 493.2 L460.5 493.8 L462.2 495.1 L463.5 493.4 L465.3 494 L466.5 494.9 L468.4 497 L469.5 496.2 L471.8 497.4 L472.8 497.5 L475 496.9 L476.3 497.5 L478.5 496.2 L479.7 497 L480.9 497.1 L482.6 497.7 L483.9 498.5 L485.2 497.4 L487.4 498.9 L489.1 498.6 L490.6 498.6 L492.6 496.6 L493.6 496.4 L495.4 496.7 L496.4 497 L497.7 497.1 L499.7 496.9 L501.3 495.3 L502.3 496 L504.3 494.6 L505.6 493.6 L507.6 493.9 L509.2 493.1 L510.4 493.1 L512.4 493.6 L513.6 492.7 L515.2 492.7 L516.9 491.5 L518.1 490.3 L520 491.2 L521.1 488.9 L522.5 490.7 L523.8 489.8 L525.7 488.7 L527.2 487.9 L528.7 486.5 L530.4 486.1 L531.3 487.1 L533.2 487 L534.7 486.8 L535.7 484 L537.3 485.5 L538.8 484.4 L540.7 483 L542.1 484.4 L543.7 482.7 L545 481.9 L546.9 482.7 L548.2 481 L549.7 481.1 L551.3 480.3 L552.9 480.7 L554.1 479.9 L555.9 479.4 L557.5 477.6 L559 479 L560.2 478.9 L561.5 477.2 L563.5 478 L564.8 478 L566.7 475.1 L568 474.8 L570.1 475 L571.6 474.9 L573.1 475.7 L575.3 474.3 L576.6 473.3 L578.2 473 L579.9 474.3 L581 473.6 L581.6 471.5 L582.9 471.3 L583.7 473.3" fill="none" stroke="#000000" stroke-width="3.0" stroke-linejoin="round" stroke-linecap="round"/>
<path d="M374.3 567.5L378.7 571.9M374.3 571.9L378.7 567.5" stroke="#000000" stroke-width="1.1" fill="none"/>
<path d="M375.6 561.4L380 565.8M375.6 565.8L380 561.4" stroke="#000000" stroke-width="1.1" fill="none"/>
<path d="M376.4 555.6L380.8 560M376.4 560L380.8 555.6" stroke="#000000" stroke-width="1.1" fill="none"/>
<path d="M377.1 548.6L381.5 553M377.1 553L381.5 548.6" stroke="#000000" stroke-width="1.1" fill="none"/>
<path d="M379.1 541.3L383.5 545.7M379.1 545.7L383.5 541.3" stroke="#000000" stroke-width="1.1" fill="none"/>
<path d="M379.6 536.2L384 540.6M379.6 540.6L384 536.2" stroke="#000000" stroke-width="1.1" fill="none"/>
<path d="M381.2 528.5L385.6 532.9M381.2 532.9L385.6 528.5" stroke="#000000" stroke-width="1.1" fill="none"/>
<path d="M381.4 523.6L385.8 528M381.4 528L385.8 523.6" stroke="#000000" stroke-width="1.1" fill="none"/>
<path d="M383.2 518.7L387.6 523.1M383.2 523.1L387.6 518.7" stroke="#000000" stroke-width="1.1" fill="none"/>
<path d="M383.6 511.9L388 516.3M383.6 516.3L388 511.9" stroke="#000000" stroke-width="1.1" fill="none"/>
<path d="M385.2 506.5L389.6 510.9M385.2 510.9L389.6 506.5" stroke="#000000" stroke-width="1.1" fill="none"/>
<path d="M385.9 500.4L390.3 504.8M385.9 504.8L390.3 500.4" stroke="#000000" stroke-width="1.1" fill="none"/>
<path d="M387.2 494.2L391.6 498.6M387.2 498.6L391.6 494.2" stroke="#000000" stroke-width="1.1" fill="none"/>
<path d="M388.8 489.5L393.2 493.9M388.8 493.9L393.2 489.5" stroke="#000000" stroke-width="1.1" fill="none"/>
<path d="M390.8 484.1L395.2 488.5M390.8 488.5L395.2 484.1" stroke="#000000" stroke-width="1.1" fill="none"/>
<path d="M393.2 479.3L397.6 483.7M393.2 483.7L397.6 479.3" stroke="#000000" stroke-width="1.1" fill="none"/>
<path d="M396.7 474.9L401.1 479.3M396.7 479.3L401.1 474.9" stroke="#000000" stroke-width="1.1" fill="none"/>
<path d="M401.8 471.4L406.2 475.8M401.8 475.8L406.2 471.4" stroke="#000000" stroke-width="1.1" fill="none"/>
<path d="M407.6 470.6L412 475M407.6 475L412 470.6" stroke="#000000" stroke-width="1.1" fill="none"/>
<path d="M413.5 472L417.9 476.4M413.5 476.4L417.9 472" stroke="#000000" stroke-width="1.1" fill="none"/>
<path d="M417.9 474.3L422.3 478.7M417.9 478.7L422.3 474.3" stroke="#000000" stroke-width="1.1" fill="none"/>
<path d="M423.4 475.3L427.8 479.7M423.4 479.7L427.8 475.3" stroke="#000000" stroke-width="1.1" fill="none"/>
<path d="M427.8 479.3L432.2 483.7M427.8 483.7L432.2 479.3" stroke="#000000" stroke-width="1.1" fill="none"/>
<path d="M432 481.2L436.4 485.6M432 485.6L436.4 481.2" stroke="#000000" stroke-width="1.1" fill="none"/>
<path d="M436.1 481.8L440.5 486.2M436.1 486.2L440.5 481.8" stroke="#000000" stroke-width="1.1" fill="none"/>
<path d="M440.4 484.6L444.8 489M440.4 489L444.8 484.6" stroke="#000000" stroke-width="1.1" fill="none"/>
<path d="M445.3 487.1L449.7 491.5M445.3 491.5L449.7 487.1" stroke="#000000" stroke-width="1.1" fill="none"/>
<path d="M449.6 489.7L454 494.1M449.6 494.1L454 489.7" stroke="#000000" stroke-width="1.1" fill="none"/>
<path d="M454.6 489.9L459 494.3M454.6 494.3L459 489.9" stroke="#000000" stroke-width="1.1" fill="none"/>
<path d="M460 492.9L464.4 497.3M460 497.3L464.4 492.9" stroke="#000000" stroke-width="1.1" fill="none"/>
<path d="M464.3 492.7L468.7 497.1M464.3 497.1L468.7 492.7" stroke="#000000" stroke-width="1.1" fill="none"/>
<path d="M469.6 495.2L474 499.6M469.6 499.6L474 495.2" stroke="#000000" stroke-width="1.1" fill="none"/>
<path d="M476.3 494L480.7 498.4M476.3 498.4L480.7 494" stroke="#000000" stroke-width="1.1" fill="none"/>
<path d="M481.7 496.3L486.1 500.7M481.7 500.7L486.1 496.3" stroke="#000000" stroke-width="1.1" fill="none"/>
<path d="M486.9 496.4L491.3 500.8M486.9 500.8L491.3 496.4" stroke="#000000" stroke-width="1.1" fill="none"/>
<path d="M491.4 494.2L495.8 498.6M491.4 498.6L495.8 494.2" stroke="#000000" stroke-width="1.1" fill="none"/>
<path d="M497.5 494.7L501.9 499.1M497.5 499.1L501.9 494.7" stroke="#000000" stroke-width="1.1" fill="none"/>
<path d="M502.1 492.4L506.5 496.8M502.1 496.8L506.5 492.4" stroke="#000000" stroke-width="1.1" fill="none"/>
<path d="M507 490.9L511.4 495.3M507 495.3L511.4 490.9" stroke="#000000" stroke-width="1.1" fill="none"/>
<path d="M513 490.5L517.4 494.9M513 494.9L517.4 490.5" stroke="#000000" stroke-width="1.1" fill="none"/>
<path d="M517.8 489L522.2 493.4M517.8 493.4L522.2 489" stroke="#000000" stroke-width="1.1" fill="none"/>
<path d="M521.6 487.6L526 492M521.6 492L526 487.6" stroke="#000000" stroke-width="1.1" fill="none"/>
<path d="M526.5 484.3L530.9 488.7M526.5 488.7L530.9 484.3" stroke="#000000" stroke-width="1.1" fill="none"/>
<path d="M531 484.8L535.4 489.2M531 489.2L535.4 484.8" stroke="#000000" stroke-width="1.1" fill="none"/>
<path d="M535.1 483.3L539.5 487.7M535.1 487.7L539.5 483.3" stroke="#000000" stroke-width="1.1" fill="none"/>
<path d="M539.9 482.2L544.3 486.6M539.9 486.6L544.3 482.2" stroke="#000000" stroke-width="1.1" fill="none"/>
<path d="M544.7 480.5L549.1 484.9M544.7 484.9L549.1 480.5" stroke="#000000" stroke-width="1.1" fill="none"/>
<path d="M549.1 478.1L553.5 482.5M549.1 482.5L553.5 478.1" stroke="#000000" stroke-width="1.1" fill="none"/>
<path d="M555.3 475.4L559.7 479.8M555.3 479.8L559.7 475.4" stroke="#000000" stroke-width="1.1" fill="none"/>
<path d="M559.3 475L563.7 479.4M559.3 479.4L563.7 475" stroke="#000000" stroke-width="1.1" fill="none"/>
<path d="M564.5 472.9L568.9 477.3M564.5 477.3L568.9 472.9" stroke="#000000" stroke-width="1.1" fill="none"/>
<path d="M570.9 473.5L575.3 477.9M570.9 477.9L575.3 473.5" stroke="#000000" stroke-width="1.1" fill="none"/>
<path d="M576 470.8L580.4 475.2M576 475.2L580.4 470.8" stroke="#000000" stroke-width="1.1" fill="none"/>
<path d="M579.4 469.3L583.8 473.7M579.4 473.7L583.8 469.3" stroke="#000000" stroke-width="1.1" fill="none"/>
<path d="M374.6 577.4 L374.2 574.9 L374.2 574.4 L374.4 574.4 L374.8 574 L375.2 572.9 L375.3 572.4 L375.8 571.3 L375.9 569.7 L376 567.5 L376.4 567.8 L376.4 567.3 L377.2 566 L377.5 563.9 L377.2 562 L377.9 562.6 L377.6 559.2 L377.9 559.3 L378.2 557.8 L378.6 557.5 L378.8 556.5 L378.5 555.2 L379.1 555.3 L379.2 553 L379.1 553.7 L379.6 553.2 L379.1 550.7 L379.9 550.1 L380 548.4 L379.5 549.1 L379.8 547 L380 546 L380.7 545.9 L380.8 543 L380.9 541.3 L380.7 542.6 L380.8 540.1 L381.2 538.6 L381.5 538.6 L381.2 538.2 L381.3 536.7 L381.7 534.3 L381.6 535.6 L382.3 533.2 L382.5 533.5 L382.8 531.4 L382.4 530.3 L383.1 529.8 L383.1 529.1 L383 527.3 L383.5 525.3 L383.7 523.8 L383.6 524.2 L383.5 524.1 L383.9 521.1 L384.1 521.1 L384.2 518.5 L384.1 519.4 L384.3 517.2 L385 517.7 L385.3 514.9 L384.8 515.5 L385.4 513.5 L385.1 512.7 L385.4 512.2 L386.2 510.3 L385.6 510.6 L385.8 508.5 L386.3 509.3 L386.4 506.4 L386.8 504.8 L386.9 505 L387.1 504.2 L387.2 501.2 L387.8 501 L388.2 499 L388.3 499.5 L388.2 497 L388.6 497.6 L388.7 495.9 L389.1 495.2 L389.1 493.2 L389.3 493.2 L389.9 493.4 L389.8 490.8 L389.7 490.8 L390.3 488.9 L390.5 490.1 L390.6 488.5 L390.9 486.5 L391.5 484.2 L391.4 485.2 L391.5 482.4 L392.1 482.6 L392.5 482.2 L392.8 478.9 L392.7 478.1" fill="none" stroke="#2040ff" stroke-width="2.2" stroke-linejoin="round" stroke-linecap="round"/>
<path d="M392.1 482.6 L392.5 482.2 L392.8 478.9 L392.7 478.1 L393.3 477.3 L393.7 478 L393.9 477.5 L394.6 476.7 L395 474.8 L395.7 473 L396.4 471.4 L396.6 471.3 L397.7 470.9 L397.7 469.5 L398.8 470.1 L399.2 469.2" fill="none" stroke="#2040ff" stroke-width="3.2" stroke-linejoin="round" stroke-linecap="round"/>
<path d="M398.8 470.1 L399.2 469.2 L400.2 467.7 L401 466.8 L402.3 467.3 L403.2 466.1 L403.9 463.9 L404.2 465.1 L405.6 464 L406.2 462.6 L407.7 462.7 L408 461.8 L409.2 460.7 L410.7 462.5 L411.6 459.9 L412.3 460 L413.6 461.7 L414.7 461.5 L415.2 459.5 L416.2 461.6 L417.9 460.8 L418.5 461.8 L419.5 460.5 L420.5 462.4 L421.8 462 L423 461.8 L424 462.6 L424.7 463.5 L424.8 463.3 L425.8 462.7 L426.8 464.9 L427.7 463.9 L429.1 465.9 L430.2 465.4 L431 465.8 L431.7 465.2 L432.8 466.2 L433.9 465.5 L434.8 466.9 L435.5 466.3 L436.5 465.8 L437.2 466.7 L438.2 466.3 L439.7 468.4 L440.7 467.4 L441.9 469.3 L442.8 468.1 L443.8 468.8 L444.6 468.5 L446.1 470.1 L447.1 469.2 L447.6 470.3 L448.5 470.1 L449.8 470.9 L451.2 471.5 L452 471.8 L453.1 471.6 L453.6 473.5 L455.2 471.6 L455.7 472.2 L457.2 472.2 L457.7 473.5 L458.7 473.2 L460 473.4 L460.7 473.8 L461.9 474.3 L462.9 474.7 L463.8 474 L465.3 476.2 L466.1 474.6 L466.9 477.3 L468.1 475.8 L469.4 477.9 L469.8 477.2 L471.1 476.5 L471.9 478.1 L473.1 478.4 L474 478 L474.5 477.3 L476.1 479.8 L477.1 477.9 L477.9 478.4 L478.5 478.7 L479.9 480.5 L480.9 479.6 L481.9 479.5 L482.5 480.7 L483.1 480.1 L483.9 481.4 L484.8 479.8 L485.8 481.3 L487.1 481.1 L488.2 481.8 L488.8 481.4 L489.8 480.7 L491 480.3 L492.4 482.5 L493.5 480.5 L494 481.9 L495.2 480.4 L495.8 481.9 L497.2 480.7 L498.3 481.1 L499.2 481.9 L500 483 L501.1 481.7 L502.3 482.8 L503.7 482.6 L504.5 482.5 L505.7 483.2 L507 482.6 L507.5 482.1 L508.8 481.2 L510.2 481.2 L511.2 481.8 L512 482.3 L513.3 483 L514.6 482.4 L515.1 482 L516.3 482.6 L517.2 480.9 L517.9 481.1 L519.3 480.5 L520 480.7 L521 479.7 L522.3 480 L523.4 480.3 L524.3 479 L525 479.9 L526.8 478.9 L527.3 478.8 L528.6 479 L529.6 477.5 L530.1 477.8 L531.3 478 L532.4 479.2 L533.4 478 L534.8 477.9 L535.6 478.2 L536.4 475.9 L537.9 477 L538.6 475.5 L539.7 476.1 L540.6 475.7 L541.8 475.7 L542.3 476.8 L543.2 475 L544.4 476.6 L545.1 474.4 L546.6 473.8 L547.3 475.5 L548.5 475.3 L549 475.3 L550.2 474.9 L551.3 474.9 L552.3 473 L553 473.4 L553.9 472.4 L555.5 473.2 L556.5 471.9 L557.2 472.5 L557.9 471.8 L559.6 472.8 L560.3 472.3 L561.6 473 L562.4 470.5 L563.7 470.6 L564.4 470.3 L565.8 471.3 L566.9 470.8 L567.8 471.3 L569.3 470 L570.8 471.5 L572 471.4 L572.5 469.7 L574 469.2 L575.3 470.7 L576 469.5 L577.7 470.3 L578.3 468.1 L579.3 469 L580.5 468 L580.9 470 L581.5 468.9 L582.3 469.2 L583.2 469.5 L583.6 469.3" fill="none" stroke="#2040ff" stroke-width="4.3" stroke-linejoin="round" stroke-linecap="round"/>
<path d="M373.5 567.3L378.3 572.1M373.5 572.1L378.3 567.3" stroke="#2040ff" stroke-width="1.1" fill="none"/>
<path d="M375.1 561.5L379.9 566.3M375.1 566.3L379.9 561.5" stroke="#2040ff" stroke-width="1.1" fill="none"/>
<path d="M375.2 556.8L380 561.6M375.2 561.6L380 556.8" stroke="#2040ff" stroke-width="1.1" fill="none"/>
<path d="M376.7 552.9L381.5 557.7M376.7 557.7L381.5 552.9" stroke="#2040ff" stroke-width="1.1" fill="none"/>
<path d="M376.7 548.3L381.5 553.1M376.7 553.1L381.5 548.3" stroke="#2040ff" stroke-width="1.1" fill="none"/>
<path d="M377.4 544.6L382.2 549.4M377.4 549.4L382.2 544.6" stroke="#2040ff" stroke-width="1.1" fill="none"/>
<path d="M378.5 538.9L383.3 543.7M378.5 543.7L383.3 538.9" stroke="#2040ff" stroke-width="1.1" fill="none"/>
<path d="M378.8 536.2L383.6 541M378.8 541L383.6 536.2" stroke="#2040ff" stroke-width="1.1" fill="none"/>
<path d="M379.2 533.2L384 538M379.2 538L384 533.2" stroke="#2040ff" stroke-width="1.1" fill="none"/>
<path d="M380.4 529L385.2 533.8M380.4 533.8L385.2 529" stroke="#2040ff" stroke-width="1.1" fill="none"/>
<path d="M381.1 522.9L385.9 527.7M381.1 527.7L385.9 522.9" stroke="#2040ff" stroke-width="1.1" fill="none"/>
<path d="M381.5 518.7L386.3 523.5M381.5 523.5L386.3 518.7" stroke="#2040ff" stroke-width="1.1" fill="none"/>
<path d="M381.9 514.8L386.7 519.6M381.9 519.6L386.7 514.8" stroke="#2040ff" stroke-width="1.1" fill="none"/>
<path d="M383 511.1L387.8 515.9M383 515.9L387.8 511.1" stroke="#2040ff" stroke-width="1.1" fill="none"/>
<path d="M383.4 506.1L388.2 510.9M383.4 510.9L388.2 506.1" stroke="#2040ff" stroke-width="1.1" fill="none"/>
<path d="M384.4 502.4L389.2 507.2M384.4 507.2L389.2 502.4" stroke="#2040ff" stroke-width="1.1" fill="none"/>
<path d="M385.8 496.6L390.6 501.4M385.8 501.4L390.6 496.6" stroke="#2040ff" stroke-width="1.1" fill="none"/>
<path d="M386.3 493.5L391.1 498.3M386.3 498.3L391.1 493.5" stroke="#2040ff" stroke-width="1.1" fill="none"/>
<path d="M387.4 488.4L392.2 493.2M387.4 493.2L392.2 488.4" stroke="#2040ff" stroke-width="1.1" fill="none"/>
<path d="M388.5 484.1L393.3 488.9M388.5 488.9L393.3 484.1" stroke="#2040ff" stroke-width="1.1" fill="none"/>
<path d="M389.1 480L393.9 484.8M389.1 484.8L393.9 480" stroke="#2040ff" stroke-width="1.1" fill="none"/>
<path d="M390.3 475.7L395.1 480.5M390.3 480.5L395.1 475.7" stroke="#2040ff" stroke-width="1.1" fill="none"/>
<path d="M392.6 472.4L397.4 477.2M392.6 477.2L397.4 472.4" stroke="#2040ff" stroke-width="1.1" fill="none"/>
<path d="M395.3 468.5L400.1 473.3M395.3 473.3L400.1 468.5" stroke="#2040ff" stroke-width="1.1" fill="none"/>
<path d="M397.8 465.3L402.6 470.1M397.8 470.1L402.6 465.3" stroke="#2040ff" stroke-width="1.1" fill="none"/>
<path d="M401.5 461.5L406.3 466.3M401.5 466.3L406.3 461.5" stroke="#2040ff" stroke-width="1.1" fill="none"/>
<path d="M405.3 460.3L410.1 465.1M405.3 465.1L410.1 460.3" stroke="#2040ff" stroke-width="1.1" fill="none"/>
<path d="M408.3 460.1L413.1 464.9M408.3 464.9L413.1 460.1" stroke="#2040ff" stroke-width="1.1" fill="none"/>
<path d="M411.2 459.3L416 464.1M411.2 464.1L416 459.3" stroke="#2040ff" stroke-width="1.1" fill="none"/>
<path d="M413.8 459.2L418.6 464M413.8 464L418.6 459.2" stroke="#2040ff" stroke-width="1.1" fill="none"/>
<path d="M418.1 460L422.9 464.8M418.1 464.8L422.9 460" stroke="#2040ff" stroke-width="1.1" fill="none"/>
<path d="M422.3 461.1L427.1 465.9M422.3 465.9L427.1 461.1" stroke="#2040ff" stroke-width="1.1" fill="none"/>
<path d="M425.3 461.5L430.1 466.3M425.3 466.3L430.1 461.5" stroke="#2040ff" stroke-width="1.1" fill="none"/>
<path d="M429.3 462.8L434.1 467.6M429.3 467.6L434.1 462.8" stroke="#2040ff" stroke-width="1.1" fill="none"/>
<path d="M433.1 463.9L437.9 468.7M433.1 468.7L437.9 463.9" stroke="#2040ff" stroke-width="1.1" fill="none"/>
<path d="M437.3 466L442.1 470.8M437.3 470.8L442.1 466" stroke="#2040ff" stroke-width="1.1" fill="none"/>
<path d="M440.4 465.7L445.2 470.5M440.4 470.5L445.2 465.7" stroke="#2040ff" stroke-width="1.1" fill="none"/>
<path d="M444.7 466.8L449.5 471.6M444.7 471.6L449.5 466.8" stroke="#2040ff" stroke-width="1.1" fill="none"/>
<path d="M448.8 469.1L453.6 473.9M448.8 473.9L453.6 469.1" stroke="#2040ff" stroke-width="1.1" fill="none"/>
<path d="M452.8 469.2L457.6 474M452.8 474L457.6 469.2" stroke="#2040ff" stroke-width="1.1" fill="none"/>
<path d="M457.6 471L462.4 475.8M457.6 475.8L462.4 471" stroke="#2040ff" stroke-width="1.1" fill="none"/>
<path d="M462.9 473.8L467.7 478.6M462.9 478.6L467.7 473.8" stroke="#2040ff" stroke-width="1.1" fill="none"/>
<path d="M465.7 473.4L470.5 478.2M465.7 478.2L470.5 473.4" stroke="#2040ff" stroke-width="1.1" fill="none"/>
<path d="M469.5 475.7L474.3 480.5M469.5 480.5L474.3 475.7" stroke="#2040ff" stroke-width="1.1" fill="none"/>
<path d="M473.7 477.4L478.5 482.2M473.7 482.2L478.5 477.4" stroke="#2040ff" stroke-width="1.1" fill="none"/>
<path d="M477.5 478.1L482.3 482.9M477.5 482.9L482.3 478.1" stroke="#2040ff" stroke-width="1.1" fill="none"/>
<path d="M481.5 479L486.3 483.8M481.5 483.8L486.3 479" stroke="#2040ff" stroke-width="1.1" fill="none"/>
<path d="M485.8 479.4L490.6 484.2M485.8 484.2L490.6 479.4" stroke="#2040ff" stroke-width="1.1" fill="none"/>
<path d="M490 480.1L494.8 484.9M490 484.9L494.8 480.1" stroke="#2040ff" stroke-width="1.1" fill="none"/>
<path d="M492.8 478L497.6 482.8M492.8 482.8L497.6 478" stroke="#2040ff" stroke-width="1.1" fill="none"/>
<path d="M496.8 479.5L501.6 484.3M496.8 484.3L501.6 479.5" stroke="#2040ff" stroke-width="1.1" fill="none"/>
<path d="M501.3 480.2L506.1 485M501.3 485L506.1 480.2" stroke="#2040ff" stroke-width="1.1" fill="none"/>
<path d="M506.4 478.8L511.2 483.6M506.4 483.6L511.2 478.8" stroke="#2040ff" stroke-width="1.1" fill="none"/>
<path d="M510.9 480.6L515.7 485.4M510.9 485.4L515.7 480.6" stroke="#2040ff" stroke-width="1.1" fill="none"/>
<path d="M514.8 478.5L519.6 483.3M514.8 483.3L519.6 478.5" stroke="#2040ff" stroke-width="1.1" fill="none"/>
<path d="M519.9 477.6L524.7 482.4M519.9 482.4L524.7 477.6" stroke="#2040ff" stroke-width="1.1" fill="none"/>
<path d="M524.4 476.5L529.2 481.3M524.4 481.3L529.2 476.5" stroke="#2040ff" stroke-width="1.1" fill="none"/>
<path d="M528.9 475.6L533.7 480.4M528.9 480.4L533.7 475.6" stroke="#2040ff" stroke-width="1.1" fill="none"/>
<path d="M533.2 475.8L538 480.6M533.2 480.6L538 475.8" stroke="#2040ff" stroke-width="1.1" fill="none"/>
<path d="M536.2 473.1L541 477.9M536.2 477.9L541 473.1" stroke="#2040ff" stroke-width="1.1" fill="none"/>
<path d="M540.8 472.6L545.6 477.4M540.8 477.4L545.6 472.6" stroke="#2040ff" stroke-width="1.1" fill="none"/>
<path d="M544.2 471.4L549 476.2M544.2 476.2L549 471.4" stroke="#2040ff" stroke-width="1.1" fill="none"/>
<path d="M548.9 472.5L553.7 477.3M548.9 477.3L553.7 472.5" stroke="#2040ff" stroke-width="1.1" fill="none"/>
<path d="M553.1 470.8L557.9 475.6M553.1 475.6L557.9 470.8" stroke="#2040ff" stroke-width="1.1" fill="none"/>
<path d="M557.2 470.4L562 475.2M557.2 475.2L562 470.4" stroke="#2040ff" stroke-width="1.1" fill="none"/>
<path d="M560 468.1L564.8 472.9M560 472.9L564.8 468.1" stroke="#2040ff" stroke-width="1.1" fill="none"/>
<path d="M565.4 468.9L570.2 473.7M565.4 473.7L570.2 468.9" stroke="#2040ff" stroke-width="1.1" fill="none"/>
<path d="M569.6 469L574.4 473.8M569.6 473.8L574.4 469" stroke="#2040ff" stroke-width="1.1" fill="none"/>
<path d="M572.9 468.3L577.7 473.1M572.9 473.1L577.7 468.3" stroke="#2040ff" stroke-width="1.1" fill="none"/>
<path d="M575.9 465.7L580.7 470.5M575.9 470.5L580.7 465.7" stroke="#2040ff" stroke-width="1.1" fill="none"/>
<path d="M579.1 466.5L583.9 471.3M579.1 471.3L583.9 466.5" stroke="#2040ff" stroke-width="1.1" fill="none"/>
<path d="M374.1 574.8 L374.1 574.4 L374.5 576.4 L374.7 575 L374.6 573.6 L375.2 571.5 L375.5 571.6 L375.5 571.8 L376.1 568.6 L375.8 567.3 L376.2 567.9 L377.1 567.7 L377.3 564 L377.5 564.7 L377.4 564.1 L377.8 560.2 L377.6 559.4 L378.1 560 L378.5 557.3 L377.9 559.3 L378.2 556.2 L378.9 554.9 L379 556.3 L379 554.4 L378.6 553.4 L379.3 552.9 L379.4 549.9 L379.3 550.5 L379.3 547.8 L379.6 548.8 L380 546.5 L380.6 546.1 L380.1 544.9 L380.8 543.3 L380.6 542.8 L381.2 541.9 L380.7 540.7 L381 539.2 L381.5 536.8 L381.5 536.6 L381.7 537.2 L381.8 535.6 L381.8 533.5 L382.1 533.4 L382 533.1 L382.4 530.9 L382.4 531.3 L383.1 530.6 L382.7 527 L383.2 525.8 L383.6 526.7 L383.3 525 L383.8 523.1 L383.7 523.9 L384.1 522.3 L383.8 520.2 L384.1 518.6 L384.6 519.2 L385 518.1 L385.2 516.8 L385 515.3 L385.1 516.2 L385.3 512.4 L385.3 512.1 L385.7 512 L385.8 512.4 L386.2 508.9 L385.7 509.8 L386.4 508.6 L386.5 505.6 L386.7 506.9 L387 503.4 L386.8 504.9 L387.3 501.6 L387.7 502.8 L388 501 L388.1 498.2 L388 499.4 L388.1 496.4 L388.8 497.1 L388.2 494.1 L388.9 495.8 L389.1 494.6 L388.8 492.7 L389.1 491.1 L389.2 490.5 L389.3 490.2 L390.1 490 L390.4 486.6 L390.7 487 L391 485.8 L390.4 485.3 L390.7 485.1 L391.3 483.8 L391.5 481 L391.9 481.1 L391.9 478.8 L392.1 479.1 L392.2 476.5 L392.6 477 L392.5 474.9 L393.2 472.7" fill="none" stroke="#ff1a1a" stroke-width="2.4" stroke-linejoin="round" stroke-linecap="round"/>
<path d="M391.9 481.1 L391.9 478.8 L392.1 479.1 L392.2 476.5 L392.6 477 L392.5 474.9 L393.6 473.9 L393.6 473.1 L393.2 472.7 L394.2 472.7 L393.7 471.6 L394.4 470.1 L394.7 469.3 L394.6 468.7 L394.8 466.4 L395.8 466.1 L395.8 465.4 L396.1 463.4 L396.5 461.3 L396.7 460.3 L397.6 462 L397.6 458.8 L398.1 458.2 L398.4 458.4 L398.5 457.8 L398.5 457.2" fill="none" stroke="#ff1a1a" stroke-width="3.6" stroke-linejoin="round" stroke-linecap="round"/>
<path d="M397.6 462 L397.6 458.8 L398.1 458.2 L398.4 458.4 L398.5 457.8 L398.5 457.2 L399.2 455.9 L399.9 453.3 L399.9 452.6 L400 453.2 L401 451.1 L401.3 451.3 L401.3 448.9 L402.3 448.6 L402.5 447 L402.7 447.4 L403.5 447.1" fill="none" stroke="#ff1a1a" stroke-width="5" stroke-linejoin="round" stroke-linecap="round"/>
<path d="M402.3 448.6 L402.5 447 L402.7 447.4 L403.5 447.1 L404.6 446.1 L404.7 443.8 L405.2 442.5 L405.9 442.1 L407.6 442.1 L407.8 440.1 L409.2 438.8 L410 440.7 L410.3 440.5 L411.7 438.4 L412.5 438.7 L413.5 439.2 L414.8 437.4 L415 438.6 L416.5 438.2 L417 436.6 L418.9 437.6 L419.7 439.7 L420.3 438.9 L421 438.9 L422.5 437.9 L423.5 440.7 L424.5 440.5 L425.6 440.6 L426.2 441.3 L427.5 441.2 L428.5 440.3 L429.3 441.3 L430.5 443 L430.8 444.1 L431.4 441.7 L432.4 442.3 L433.8 443.6 L434.1 445.6 L435 445.4 L435.8 445.5 L437.1 445.5 L437.7 446.6 L438.2 446.1 L439.5 448.6 L440.4 446.9 L441.8 447.7 L442.8 447.9 L443.5 448.6 L444 449.8 L445.4 450.3 L446 450.6 L447.1 450.6 L448.5 450.8 L448.8 452.3 L450.1 453.2 L450.8 453.5 L452.2 454.6 L453.1 453.5 L454.2 454.2 L455.1 455 L456.2 455.5 L457.1 455 L458.2 456.1 L459.1 455.5 L459.4 454.8 L460.2 455.3 L461.7 457.1 L463.1 458 L464.1 456.1 L465 455.8 L466.4 457.1 L466.9 457.8 L468.1 456.7 L469 457.4 L469.8 455.9 L470.7 458.8 L471.7 458.2 L472.5 459 L474.2 458.3 L474.7 459.2 L475.6 458.7 L476.5 460.6 L477.8 461.9 L479.1 462 L480.1 462.4 L480.1 460.7 L481.8 463.3 L482.3 463 L483.1 462.8 L484 463.6 L485.6 462.7 L487 464.3 L487.9 463.7 L488.7 463.8 L490.1 463.9 L491.1 465.2 L492 464 L493.4 465.5 L494.9 464.8 L495.6 465.3 L497.3 465.3 L498.2 464.9 L498.7 467.1 L500 465.5 L500.7 468.1 L501.3 467.1" fill="none" stroke="#ff1a1a" stroke-width="6.6" stroke-linejoin="round" stroke-linecap="round"/>
<path d="M372.6 568.9L377.8 574.1M372.6 574.1L377.8 568.9" stroke="#ff1a1a" stroke-width="1.2" fill="none"/>
<path d="M373.2 564.7L378.4 569.9M373.2 569.9L378.4 564.7" stroke="#ff1a1a" stroke-width="1.2" fill="none"/>
<path d="M374.7 561.4L379.9 566.6M374.7 566.6L379.9 561.4" stroke="#ff1a1a" stroke-width="1.2" fill="none"/>
<path d="M375.2 557.6L380.4 562.8M375.2 562.8L380.4 557.6" stroke="#ff1a1a" stroke-width="1.2" fill="none"/>
<path d="M375.9 554.7L381.1 559.9M375.9 559.9L381.1 554.7" stroke="#ff1a1a" stroke-width="1.2" fill="none"/>
<path d="M375.6 553.6L380.8 558.8M375.6 558.8L380.8 553.6" stroke="#ff1a1a" stroke-width="1.2" fill="none"/>
<path d="M376.4 551.8L381.6 557M376.4 557L381.6 551.8" stroke="#ff1a1a" stroke-width="1.2" fill="none"/>
<path d="M376.8 547.3L382 552.5M376.8 552.5L382 547.3" stroke="#ff1a1a" stroke-width="1.2" fill="none"/>
<path d="M377 546.2L382.2 551.4M377 551.4L382.2 546.2" stroke="#ff1a1a" stroke-width="1.2" fill="none"/>
<path d="M377.5 542.3L382.7 547.5M377.5 547.5L382.7 542.3" stroke="#ff1a1a" stroke-width="1.2" fill="none"/>
<path d="M378.1 538.1L383.3 543.3M378.1 543.3L383.3 538.1" stroke="#ff1a1a" stroke-width="1.2" fill="none"/>
<path d="M378.9 534L384.1 539.2M378.9 539.2L384.1 534" stroke="#ff1a1a" stroke-width="1.2" fill="none"/>
<path d="M379.2 530.9L384.4 536.1M379.2 536.1L384.4 530.9" stroke="#ff1a1a" stroke-width="1.2" fill="none"/>
<path d="M380.5 528L385.7 533.2M380.5 533.2L385.7 528" stroke="#ff1a1a" stroke-width="1.2" fill="none"/>
<path d="M380.6 523.2L385.8 528.4M380.6 528.4L385.8 523.2" stroke="#ff1a1a" stroke-width="1.2" fill="none"/>
<path d="M381.2 520.5L386.4 525.7M381.2 525.7L386.4 520.5" stroke="#ff1a1a" stroke-width="1.2" fill="none"/>
<path d="M381.2 517.6L386.4 522.8M381.2 522.8L386.4 517.6" stroke="#ff1a1a" stroke-width="1.2" fill="none"/>
<path d="M382.6 514.2L387.8 519.4M382.6 519.4L387.8 514.2" stroke="#ff1a1a" stroke-width="1.2" fill="none"/>
<path d="M382.7 509.8L387.9 515M382.7 515L387.9 509.8" stroke="#ff1a1a" stroke-width="1.2" fill="none"/>
<path d="M383.6 506.3L388.8 511.5M383.6 511.5L388.8 506.3" stroke="#ff1a1a" stroke-width="1.2" fill="none"/>
<path d="M383.9 503L389.1 508.2M383.9 508.2L389.1 503" stroke="#ff1a1a" stroke-width="1.2" fill="none"/>
<path d="M384.4 500.8L389.6 506M384.4 506L389.6 500.8" stroke="#ff1a1a" stroke-width="1.2" fill="none"/>
<path d="M384.7 499L389.9 504.2M384.7 504.2L389.9 499" stroke="#ff1a1a" stroke-width="1.2" fill="none"/>
<path d="M385.5 495.6L390.7 500.8M385.5 500.8L390.7 495.6" stroke="#ff1a1a" stroke-width="1.2" fill="none"/>
<path d="M385.5 493.8L390.7 499M385.5 499L390.7 493.8" stroke="#ff1a1a" stroke-width="1.2" fill="none"/>
<path d="M386.3 493.2L391.5 498.4M386.3 498.4L391.5 493.2" stroke="#ff1a1a" stroke-width="1.2" fill="none"/>
<path d="M386.5 488.5L391.7 493.7M386.5 493.7L391.7 488.5" stroke="#ff1a1a" stroke-width="1.2" fill="none"/>
<path d="M387.8 484L393 489.2M387.8 489.2L393 484" stroke="#ff1a1a" stroke-width="1.2" fill="none"/>
<path d="M388.7 481.2L393.9 486.4M388.7 486.4L393.9 481.2" stroke="#ff1a1a" stroke-width="1.2" fill="none"/>
<path d="M389.3 476.2L394.5 481.4M389.3 481.4L394.5 476.2" stroke="#ff1a1a" stroke-width="1.2" fill="none"/>
<path d="M389.9 472.3L395.1 477.5M389.9 477.5L395.1 472.3" stroke="#ff1a1a" stroke-width="1.2" fill="none"/>
<path d="M391.1 469L396.3 474.2M391.1 474.2L396.3 469" stroke="#ff1a1a" stroke-width="1.2" fill="none"/>
<path d="M392.2 463.8L397.4 469M392.2 469L397.4 463.8" stroke="#ff1a1a" stroke-width="1.2" fill="none"/>
<path d="M393.9 458.7L399.1 463.9M393.9 463.9L399.1 458.7" stroke="#ff1a1a" stroke-width="1.2" fill="none"/>
<path d="M395 456.2L400.2 461.4M395 461.4L400.2 456.2" stroke="#ff1a1a" stroke-width="1.2" fill="none"/>
<path d="M397.3 450.7L402.5 455.9M397.3 455.9L402.5 450.7" stroke="#ff1a1a" stroke-width="1.2" fill="none"/>
<path d="M398.7 446.3L403.9 451.5M398.7 451.5L403.9 446.3" stroke="#ff1a1a" stroke-width="1.2" fill="none"/>
<path d="M400.9 444.5L406.1 449.7M400.9 449.7L406.1 444.5" stroke="#ff1a1a" stroke-width="1.2" fill="none"/>
<path d="M402.6 439.9L407.8 445.1M402.6 445.1L407.8 439.9" stroke="#ff1a1a" stroke-width="1.2" fill="none"/>
<path d="M405.2 437.5L410.4 442.7M405.2 442.7L410.4 437.5" stroke="#ff1a1a" stroke-width="1.2" fill="none"/>
<path d="M407.7 437.9L412.9 443.1M407.7 443.1L412.9 437.9" stroke="#ff1a1a" stroke-width="1.2" fill="none"/>
<path d="M410.9 436.6L416.1 441.8M410.9 441.8L416.1 436.6" stroke="#ff1a1a" stroke-width="1.2" fill="none"/>
<path d="M413.9 435.6L419.1 440.8M413.9 440.8L419.1 435.6" stroke="#ff1a1a" stroke-width="1.2" fill="none"/>
<path d="M417.1 437.1L422.3 442.3M417.1 442.3L422.3 437.1" stroke="#ff1a1a" stroke-width="1.2" fill="none"/>
<path d="M420.9 438.1L426.1 443.3M420.9 443.3L426.1 438.1" stroke="#ff1a1a" stroke-width="1.2" fill="none"/>
<path d="M424.9 438.6L430.1 443.8M424.9 443.8L430.1 438.6" stroke="#ff1a1a" stroke-width="1.2" fill="none"/>
<path d="M427.9 440.4L433.1 445.6M427.9 445.6L433.1 440.4" stroke="#ff1a1a" stroke-width="1.2" fill="none"/>
<path d="M429.8 439.7L435 444.9M429.8 444.9L435 439.7" stroke="#ff1a1a" stroke-width="1.2" fill="none"/>
<path d="M432.4 442.8L437.6 448M432.4 448L437.6 442.8" stroke="#ff1a1a" stroke-width="1.2" fill="none"/>
<path d="M435.6 443.5L440.8 448.7M435.6 448.7L440.8 443.5" stroke="#ff1a1a" stroke-width="1.2" fill="none"/>
<path d="M437.8 444.3L443 449.5M437.8 449.5L443 444.3" stroke="#ff1a1a" stroke-width="1.2" fill="none"/>
<path d="M441.4 447.2L446.6 452.4M441.4 452.4L446.6 447.2" stroke="#ff1a1a" stroke-width="1.2" fill="none"/>
<path d="M445.9 448.2L451.1 453.4M445.9 453.4L451.1 448.2" stroke="#ff1a1a" stroke-width="1.2" fill="none"/>
<path d="M449.6 452L454.8 457.2M449.6 457.2L454.8 452" stroke="#ff1a1a" stroke-width="1.2" fill="none"/>
<path d="M453.6 452.9L458.8 458.1M453.6 458.1L458.8 452.9" stroke="#ff1a1a" stroke-width="1.2" fill="none"/>
<path d="M456.8 452.2L462 457.4M456.8 457.4L462 452.2" stroke="#ff1a1a" stroke-width="1.2" fill="none"/>
<path d="M460.5 455.4L465.7 460.6M460.5 460.6L465.7 455.4" stroke="#ff1a1a" stroke-width="1.2" fill="none"/>
<path d="M463.8 454.5L469 459.7M463.8 459.7L469 454.5" stroke="#ff1a1a" stroke-width="1.2" fill="none"/>
<path d="M467.2 453.3L472.4 458.5M467.2 458.5L472.4 453.3" stroke="#ff1a1a" stroke-width="1.2" fill="none"/>
<path d="M469.1 455.6L474.3 460.8M469.1 460.8L474.3 455.6" stroke="#ff1a1a" stroke-width="1.2" fill="none"/>
<path d="M472.1 456.6L477.3 461.8M472.1 461.8L477.3 456.6" stroke="#ff1a1a" stroke-width="1.2" fill="none"/>
<path d="M475.2 459.3L480.4 464.5M475.2 464.5L480.4 459.3" stroke="#ff1a1a" stroke-width="1.2" fill="none"/>
<path d="M477.5 458.1L482.7 463.3M477.5 463.3L482.7 458.1" stroke="#ff1a1a" stroke-width="1.2" fill="none"/>
<path d="M480.5 460.2L485.7 465.4M480.5 465.4L485.7 460.2" stroke="#ff1a1a" stroke-width="1.2" fill="none"/>
<path d="M484.4 461.7L489.6 466.9M484.4 466.9L489.6 461.7" stroke="#ff1a1a" stroke-width="1.2" fill="none"/>
<path d="M488.5 462.6L493.7 467.8M488.5 467.8L493.7 462.6" stroke="#ff1a1a" stroke-width="1.2" fill="none"/>
<path d="M492.3 462.2L497.5 467.4M492.3 467.4L497.5 462.2" stroke="#ff1a1a" stroke-width="1.2" fill="none"/>
<path d="M496.1 464.5L501.3 469.7M496.1 469.7L501.3 464.5" stroke="#ff1a1a" stroke-width="1.2" fill="none"/>
<path d="M498.1 465.5L503.3 470.7M498.1 470.7L503.3 465.5" stroke="#ff1a1a" stroke-width="1.2" fill="none"/>
<path d="M374.3 576.2 L373.9 577.1 L374.7 574.5 L374.5 573.2 L375.4 574.9 L374.9 573.2 L375.3 570.8 L374.9 571.9 L375.3 570.2 L375.3 567.1 L375.7 568.4 L376.5 568.6 L376.8 565.7 L376.3 566.1 L377 564.5 L376.7 563.2 L377.5 559.6 L377.6 557.8 L377.9 557.6 L378.2 556.5 L378.3 557.4 L378.5 557.7 L378.2 555.8 L378.4 555.7 L379 554.3 L378.9 551.4 L379.4 553.1 L379.6 549.8 L379.6 550.1 L379.8 549.5 L379.5 547 L380 546.9 L379.9 546.7 L379.4 542.4 L380.1 541.7 L380.6 540.6 L380.8 540 L380.1 541 L380.9 538.6 L381 538 L381.5 536.8 L381.2 535.5 L381.2 535.2 L381 534.2 L382.1 533.5 L381.8 531 L381.4 529 L382.1 531 L382.6 527.4 L382.6 528.7 L382.5 527.9 L382.3 524.8 L382.8 525.3 L382.9 522.6 L383.5 521.9 L383.1 520.2 L383.4 521 L383.4 519.7 L383.7 516.2 L384.4 516.2 L384.1 517.6 L383.8 513.2 L384 512.4 L384.9 512.8 L384.1 510.8 L384.8 509.4 L384.7 511.1 L385 507.5 L385.3 506.1 L385.4 507.1 L385.1 505.7 L385.5 505.5 L386 505.2 L386.1 501.5 L385.8 502.6 L386.7 499 L386.4 498.7 L386.6 499.8 L386.9 498.2 L387.3 495.3 L387.3 494.6 L387.3 494.2 L387.7 491.7 L388.1 490.7 L387.7 492.2 L388.6 489.4 L388.8 487.1 L388.9 486.8 L388.1 487.9 L388.4 486.9 L388.4 483.6 L388.9 482.5 L389.2 482.5 L389.7 482.1 L390.2 482.5 L389.4 481.9 L390.4 479.7 L390.2 477.3 L390.1 476.6 L390.2 476.9 L390.6 476.4 L391.1 475.6 L390.7 474.6 L391.4 472.7 L391.4 472 L391.8 471 L392.2 467.8 L392.1 469.2 L392 467.8 L392.8 467.1 L392.8 465.3 L393.2 465.4 L392.9 463.5 L393.4 462.9 L393.6 460.6 L393.8 462.3 L394.2 461.3 L394.8 458.1 L394.9 456 L394.9 455.8" fill="none" stroke="#30a024" stroke-width="2.2" stroke-linejoin="round" stroke-linecap="round"/>
<path d="M393.8 462.3 L394.2 461.3 L394.8 458.1 L394.9 456 L395.6 457.3 L394.9 455.8 L395.7 455.3 L395.7 455.1 L396.4 450.9 L396.9 453 L396.6 451.3 L397.5 451 L396.9 449.8 L397.4 448.8 L398.1 446.6 L398.7 447 L399 446.7 L398.8 445 L399.3 442.6 L399.4 442 L399.4 440.1 L400.4 441.4 L400.6 440 L400.7 438.7 L401.2 435.7 L401.4 438.5 L401.6 435.7" fill="none" stroke="#30a024" stroke-width="3.2" stroke-linejoin="round" stroke-linecap="round"/>
<path d="M400.4 441.4 L400.6 440 L400.7 438.7 L401.2 435.7 L401.4 438.5 L401.6 435.7 L402 433.9 L403.4 432.3 L403.9 434.4 L404.5 431.6 L405.2 431.2 L405.2 432.5 L406 430.6 L406.2 427.2 L407 426.7 L408.3 426.4 L409.2 427.3 L409 426.6 L409.8 425.1 L410.2 425.6 L411.7 424 L412.4 422.3 L412.7 421.4 L414.3 421.6 L414.5 419.7 L415.8 418.1 L416.3 419.2 L417.2 420.3 L418.1 419.2 L419.6 417.1 L420 419.3 L420.7 416.7 L422.7 415.9 L423.6 416.6 L423.9 417.4 L424.8 420.1 L425.4 418.1 L426.4 420.9 L426.5 422.2 L426.9 422.2 L428.3 423.5 L428.7 421.6 L429.2 423.2 L430 424.5 L430.6 425.9 L431.6 428 L432.1 426.4 L432.9 426.4 L434.5 429.9 L434.6 428 L436.5 430.1 L437.7 430.7 L438 427.4 L439 429.2 L439.8 428.5 L441.4 430.4 L442.1 428.8 L443.1 429.1 L443.6 429.8 L445.2 433.4 L445 433.8 L446.7 434 L446.8 435.4 L447.4 433.2 L449.2 434.6 L450 437.3 L449.9 435.5 L451.5 436.3 L452.3 438.7 L452.7 438.4 L453.6 440.3 L455 440 L455.9 438 L457.2 441 L457.8 440.6 L458.7 441.6 L459.8 440.1 L460.8 440.2 L461.3 441.7 L463.3 442.8 L463.6 442.3 L464.9 442.9 L465.7 443 L467 444.7 L467.7 444.7 L468.9 442.5 L469.4 443.6 L470.5 444.6 L471.5 446.8 L473 444.8 L474 447.2 L474.3 446.4 L476.2 445.7 L477.1 447.6 L477.5 445.3 L479 446.6 L479.5 447 L480.9 448.8 L482 448.5 L482 447.1 L482.7 446.6 L484 446.7 L485.1 446.6 L486.2 447.7 L486.7 448.9 L487.7 446.5 L489.4 449.4 L490.5 447.7 L491 449.4 L492.1 450.6 L493.6 449.1 L493.8 448.2 L495.1 451 L495.7 449.6 L496.6 451.2 L498.4 450.8 L499.4 448.5 L499.9 448.1 L501.3 448.4 L501.9 448.9 L503.8 451.4 L504.2 452.3 L505.2 449.2 L506.5 451.9 L507.3 452 L508.9 452.1 L509.7 449.4 L510.6 452 L512.1 452.3 L512.8 450.5 L513.9 452.7 L515.5 450.1 L516.5 449.6 L517.3 450.5 L518.6 452.2 L519.6 450.2 L519.8 451.8 L521.6 449.4 L522.8 452.7 L523.3 451.1 L524.6 452.6 L525.7 450.9 L526.8 450.7 L527 450.8 L528.5 449.9 L529.4 449.4 L530.4 451.2 L532 450 L533 448.6 L533.6 450.9 L534.9 449.4 L535.2 451.5 L536.7 450.2 L537.4 448.1 L538.7 449.1 L540.2 449.9 L541.2 449.5 L542.4 447.7 L543.9 449.3 L544.6 447.7 L545.2 449.5 L547.1 449.2 L547.8 448.4 L549.5 448.9 L550.8 446.7 L551.8 446.3 L552.7 448.1 L553 447.6 L554.7 449.2 L554.9 447.7 L556.5 446.1 L557.4 449.2 L557.4 446.3 L557.7 446.3" fill="none" stroke="#30a024" stroke-width="4.6" stroke-linejoin="round" stroke-linecap="round"/>
<path d="M372.8 572.3L378 577.5M372.8 577.5L378 572.3" stroke="#30a024" stroke-width="1.2" fill="none"/>
<path d="M372.7 568.2L377.9 573.4M372.7 573.4L377.9 568.2" stroke="#30a024" stroke-width="1.2" fill="none"/>
<path d="M372.7 564.5L377.9 569.7M372.7 569.7L377.9 564.5" stroke="#30a024" stroke-width="1.2" fill="none"/>
<path d="M374.2 563.1L379.4 568.3M374.2 568.3L379.4 563.1" stroke="#30a024" stroke-width="1.2" fill="none"/>
<path d="M374.9 557L380.1 562.2M374.9 562.2L380.1 557" stroke="#30a024" stroke-width="1.2" fill="none"/>
<path d="M375.7 554.8L380.9 560M375.7 560L380.9 554.8" stroke="#30a024" stroke-width="1.2" fill="none"/>
<path d="M376.4 551.7L381.6 556.9M376.4 556.9L381.6 551.7" stroke="#30a024" stroke-width="1.2" fill="none"/>
<path d="M376.8 550.5L382 555.7M376.8 555.7L382 550.5" stroke="#30a024" stroke-width="1.2" fill="none"/>
<path d="M377.2 546.9L382.4 552.1M377.2 552.1L382.4 546.9" stroke="#30a024" stroke-width="1.2" fill="none"/>
<path d="M376.8 539.8L382 545M376.8 545L382 539.8" stroke="#30a024" stroke-width="1.2" fill="none"/>
<path d="M378.3 536L383.5 541.2M378.3 541.2L383.5 536" stroke="#30a024" stroke-width="1.2" fill="none"/>
<path d="M378.4 531.6L383.6 536.8M378.4 536.8L383.6 531.6" stroke="#30a024" stroke-width="1.2" fill="none"/>
<path d="M378.8 526.4L384 531.6M378.8 531.6L384 526.4" stroke="#30a024" stroke-width="1.2" fill="none"/>
<path d="M380 524.8L385.2 530M380 530L385.2 524.8" stroke="#30a024" stroke-width="1.2" fill="none"/>
<path d="M379.7 522.2L384.9 527.4M379.7 527.4L384.9 522.2" stroke="#30a024" stroke-width="1.2" fill="none"/>
<path d="M380.9 519.3L386.1 524.5M380.9 524.5L386.1 519.3" stroke="#30a024" stroke-width="1.2" fill="none"/>
<path d="M381.1 513.6L386.3 518.8M381.1 518.8L386.3 513.6" stroke="#30a024" stroke-width="1.2" fill="none"/>
<path d="M381.2 510.6L386.4 515.8M381.2 515.8L386.4 510.6" stroke="#30a024" stroke-width="1.2" fill="none"/>
<path d="M382.2 506.8L387.4 512M382.2 512L387.4 506.8" stroke="#30a024" stroke-width="1.2" fill="none"/>
<path d="M382.4 504.9L387.6 510.1M382.4 510.1L387.6 504.9" stroke="#30a024" stroke-width="1.2" fill="none"/>
<path d="M382.9 502.9L388.1 508.1M382.9 508.1L388.1 502.9" stroke="#30a024" stroke-width="1.2" fill="none"/>
<path d="M383.5 498.9L388.7 504.1M383.5 504.1L388.7 498.9" stroke="#30a024" stroke-width="1.2" fill="none"/>
<path d="M384.1 496.4L389.3 501.6M384.1 501.6L389.3 496.4" stroke="#30a024" stroke-width="1.2" fill="none"/>
<path d="M384.7 492.7L389.9 497.9M384.7 497.9L389.9 492.7" stroke="#30a024" stroke-width="1.2" fill="none"/>
<path d="M385.5 488.1L390.7 493.3M385.5 493.3L390.7 488.1" stroke="#30a024" stroke-width="1.2" fill="none"/>
<path d="M386 486.8L391.2 492M386 492L391.2 486.8" stroke="#30a024" stroke-width="1.2" fill="none"/>
<path d="M385.5 485.3L390.7 490.5M385.5 490.5L390.7 485.3" stroke="#30a024" stroke-width="1.2" fill="none"/>
<path d="M385.8 481L391 486.2M385.8 486.2L391 481" stroke="#30a024" stroke-width="1.2" fill="none"/>
<path d="M387.8 477.1L393 482.3M387.8 482.3L393 477.1" stroke="#30a024" stroke-width="1.2" fill="none"/>
<path d="M388 473.8L393.2 479M388 479L393.2 473.8" stroke="#30a024" stroke-width="1.2" fill="none"/>
<path d="M388.8 470.1L394 475.3M388.8 475.3L394 470.1" stroke="#30a024" stroke-width="1.2" fill="none"/>
<path d="M389.6 465.2L394.8 470.4M389.6 470.4L394.8 465.2" stroke="#30a024" stroke-width="1.2" fill="none"/>
<path d="M390.2 462.7L395.4 467.9M390.2 467.9L395.4 462.7" stroke="#30a024" stroke-width="1.2" fill="none"/>
<path d="M391 458L396.2 463.2M391 463.2L396.2 458" stroke="#30a024" stroke-width="1.2" fill="none"/>
<path d="M392.2 455.5L397.4 460.7M392.2 460.7L397.4 455.5" stroke="#30a024" stroke-width="1.2" fill="none"/>
<path d="M392.3 453.2L397.5 458.4M392.3 458.4L397.5 453.2" stroke="#30a024" stroke-width="1.2" fill="none"/>
<path d="M393.8 448.3L399 453.5M393.8 453.5L399 448.3" stroke="#30a024" stroke-width="1.2" fill="none"/>
<path d="M394.9 448.4L400.1 453.6M394.9 453.6L400.1 448.4" stroke="#30a024" stroke-width="1.2" fill="none"/>
<path d="M395.5 444L400.7 449.2M395.5 449.2L400.7 444" stroke="#30a024" stroke-width="1.2" fill="none"/>
<path d="M396.7 440L401.9 445.2M396.7 445.2L401.9 440" stroke="#30a024" stroke-width="1.2" fill="none"/>
<path d="M397.8 438.8L403 444M397.8 444L403 438.8" stroke="#30a024" stroke-width="1.2" fill="none"/>
<path d="M398.6 433.1L403.8 438.3M398.6 438.3L403.8 433.1" stroke="#30a024" stroke-width="1.2" fill="none"/>
<path d="M399 433.1L404.2 438.3M399 438.3L404.2 433.1" stroke="#30a024" stroke-width="1.2" fill="none"/>
<path d="M401.3 431.8L406.5 437M401.3 437L406.5 431.8" stroke="#30a024" stroke-width="1.2" fill="none"/>
<path d="M402.6 429.9L407.8 435.1M402.6 435.1L407.8 429.9" stroke="#30a024" stroke-width="1.2" fill="none"/>
<path d="M403.6 424.6L408.8 429.8M403.6 429.8L408.8 424.6" stroke="#30a024" stroke-width="1.2" fill="none"/>
<path d="M406.4 424L411.6 429.2M406.4 429.2L411.6 424" stroke="#30a024" stroke-width="1.2" fill="none"/>
<path d="M409.1 421.4L414.3 426.6M409.1 426.6L414.3 421.4" stroke="#30a024" stroke-width="1.2" fill="none"/>
<path d="M411.7 419L416.9 424.2M411.7 424.2L416.9 419" stroke="#30a024" stroke-width="1.2" fill="none"/>
<path d="M413.7 416.6L418.9 421.8M413.7 421.8L418.9 416.6" stroke="#30a024" stroke-width="1.2" fill="none"/>
<path d="M417 414.5L422.2 419.7M417 419.7L422.2 414.5" stroke="#30a024" stroke-width="1.2" fill="none"/>
<path d="M418.1 414.1L423.3 419.3M418.1 419.3L423.3 414.1" stroke="#30a024" stroke-width="1.2" fill="none"/>
<path d="M421.3 414.8L426.5 420M421.3 420L426.5 414.8" stroke="#30a024" stroke-width="1.2" fill="none"/>
<path d="M422.8 415.5L428 420.7M422.8 420.7L428 415.5" stroke="#30a024" stroke-width="1.2" fill="none"/>
<path d="M423.9 419.6L429.1 424.8M423.9 424.8L429.1 419.6" stroke="#30a024" stroke-width="1.2" fill="none"/>
<path d="M426.1 419L431.3 424.2M426.1 424.2L431.3 419" stroke="#30a024" stroke-width="1.2" fill="none"/>
<path d="M428 423.3L433.2 428.5M428 428.5L433.2 423.3" stroke="#30a024" stroke-width="1.2" fill="none"/>
<path d="M429.5 423.8L434.7 429M429.5 429L434.7 423.8" stroke="#30a024" stroke-width="1.2" fill="none"/>
<path d="M431.9 427.3L437.1 432.5M431.9 432.5L437.1 427.3" stroke="#30a024" stroke-width="1.2" fill="none"/>
<path d="M433.9 427.5L439.1 432.7M433.9 432.7L439.1 427.5" stroke="#30a024" stroke-width="1.2" fill="none"/>
<path d="M435.4 424.8L440.6 430M435.4 430L440.6 424.8" stroke="#30a024" stroke-width="1.2" fill="none"/>
<path d="M438.8 427.8L444 433M438.8 433L444 427.8" stroke="#30a024" stroke-width="1.2" fill="none"/>
<path d="M442.6 430.8L447.8 436M442.6 436L447.8 430.8" stroke="#30a024" stroke-width="1.2" fill="none"/>
<path d="M444.8 430.6L450 435.8M444.8 435.8L450 430.6" stroke="#30a024" stroke-width="1.2" fill="none"/>
<path d="M447.4 434.7L452.6 439.9M447.4 439.9L452.6 434.7" stroke="#30a024" stroke-width="1.2" fill="none"/>
<path d="M449.7 436.1L454.9 441.3M449.7 441.3L454.9 436.1" stroke="#30a024" stroke-width="1.2" fill="none"/>
<path d="M452.4 437.4L457.6 442.6M452.4 442.6L457.6 437.4" stroke="#30a024" stroke-width="1.2" fill="none"/>
<path d="M454.6 438.4L459.8 443.6M454.6 443.6L459.8 438.4" stroke="#30a024" stroke-width="1.2" fill="none"/>
<path d="M458.2 437.6L463.4 442.8M458.2 442.8L463.4 437.6" stroke="#30a024" stroke-width="1.2" fill="none"/>
<path d="M461 439.7L466.2 444.9M461 444.9L466.2 439.7" stroke="#30a024" stroke-width="1.2" fill="none"/>
<path d="M464.4 442.1L469.6 447.3M464.4 447.3L469.6 442.1" stroke="#30a024" stroke-width="1.2" fill="none"/>
<path d="M466.8 441L472 446.2M466.8 446.2L472 441" stroke="#30a024" stroke-width="1.2" fill="none"/>
<path d="M470.4 442.2L475.6 447.4M470.4 447.4L475.6 442.2" stroke="#30a024" stroke-width="1.2" fill="none"/>
<path d="M473.6 443.1L478.8 448.3M473.6 448.3L478.8 443.1" stroke="#30a024" stroke-width="1.2" fill="none"/>
<path d="M474.9 442.7L480.1 447.9M474.9 447.9L480.1 442.7" stroke="#30a024" stroke-width="1.2" fill="none"/>
<path d="M478.3 446.2L483.5 451.4M478.3 451.4L483.5 446.2" stroke="#30a024" stroke-width="1.2" fill="none"/>
<path d="M481.4 444.1L486.6 449.3M481.4 449.3L486.6 444.1" stroke="#30a024" stroke-width="1.2" fill="none"/>
<path d="M485.1 443.9L490.3 449.1M485.1 449.1L490.3 443.9" stroke="#30a024" stroke-width="1.2" fill="none"/>
<path d="M487.9 445.1L493.1 450.3M487.9 450.3L493.1 445.1" stroke="#30a024" stroke-width="1.2" fill="none"/>
<path d="M491 446.5L496.2 451.7M491 451.7L496.2 446.5" stroke="#30a024" stroke-width="1.2" fill="none"/>
<path d="M493.1 447L498.3 452.2M493.1 452.2L498.3 447" stroke="#30a024" stroke-width="1.2" fill="none"/>
<path d="M496.8 445.9L502 451.1M496.8 451.1L502 445.9" stroke="#30a024" stroke-width="1.2" fill="none"/>
<path d="M501.2 448.8L506.4 454M501.2 454L506.4 448.8" stroke="#30a024" stroke-width="1.2" fill="none"/>
<path d="M502.6 446.6L507.8 451.8M502.6 451.8L507.8 446.6" stroke="#30a024" stroke-width="1.2" fill="none"/>
<path d="M506.3 449.5L511.5 454.7M506.3 454.7L511.5 449.5" stroke="#30a024" stroke-width="1.2" fill="none"/>
<path d="M508 449.4L513.2 454.6M508 454.6L513.2 449.4" stroke="#30a024" stroke-width="1.2" fill="none"/>
<path d="M511.3 450.1L516.5 455.3M511.3 455.3L516.5 450.1" stroke="#30a024" stroke-width="1.2" fill="none"/>
<path d="M513.9 447L519.1 452.2M513.9 452.2L519.1 447" stroke="#30a024" stroke-width="1.2" fill="none"/>
<path d="M517 447.6L522.2 452.8M517 452.8L522.2 447.6" stroke="#30a024" stroke-width="1.2" fill="none"/>
<path d="M519 446.8L524.2 452M519 452L524.2 446.8" stroke="#30a024" stroke-width="1.2" fill="none"/>
<path d="M520.7 448.5L525.9 453.7M520.7 453.7L525.9 448.5" stroke="#30a024" stroke-width="1.2" fill="none"/>
<path d="M524.2 448.1L529.4 453.3M524.2 453.3L529.4 448.1" stroke="#30a024" stroke-width="1.2" fill="none"/>
<path d="M527.8 448.6L533 453.8M527.8 453.8L533 448.6" stroke="#30a024" stroke-width="1.2" fill="none"/>
<path d="M531 448.3L536.2 453.5M531 453.5L536.2 448.3" stroke="#30a024" stroke-width="1.2" fill="none"/>
<path d="M532.6 448.9L537.8 454.1M532.6 454.1L537.8 448.9" stroke="#30a024" stroke-width="1.2" fill="none"/>
<path d="M534.8 445.5L540 450.7M534.8 450.7L540 445.5" stroke="#30a024" stroke-width="1.2" fill="none"/>
<path d="M538.6 446.9L543.8 452.1M538.6 452.1L543.8 446.9" stroke="#30a024" stroke-width="1.2" fill="none"/>
<path d="M541.3 446.7L546.5 451.9M541.3 451.9L546.5 446.7" stroke="#30a024" stroke-width="1.2" fill="none"/>
<path d="M544.5 446.6L549.7 451.8M544.5 451.8L549.7 446.6" stroke="#30a024" stroke-width="1.2" fill="none"/>
<path d="M548.2 444.1L553.4 449.3M548.2 449.3L553.4 444.1" stroke="#30a024" stroke-width="1.2" fill="none"/>
<path d="M552.1 446.6L557.3 451.8M552.1 451.8L557.3 446.6" stroke="#30a024" stroke-width="1.2" fill="none"/>
<path d="M554.8 446.6L560 451.8M554.8 451.8L560 446.6" stroke="#30a024" stroke-width="1.2" fill="none"/>
<path d="M373.4 576.9 L374 575.6 L374.2 574.2 L374.1 571.9 L374 570.8 L374 572.1 L374.2 569.2 L374.8 568.6 L374.5 565.8 L375.4 565.2 L375.1 563.9 L375.6 564 L375.6 559.7 L375.9 559.2 L377 558.3 L376.5 555.8 L377 555.5 L377.6 552.5 L377.4 550.3 L378 548.4 L378.3 545.7 L378.4 546.9 L378.6 543.7 L379.2 543.1 L379.4 540.1 L379.6 538 L379.7 535.9 L379.5 534.9 L379.9 535.1 L379.8 534 L380 532.7 L381 530 L381.1 529.5 L380.9 527.7 L380.7 525.9 L381.5 524.3 L381.2 520.6 L381.7 520.7 L382 517.8 L382.1 518.7 L382 516.7 L382.8 514.7 L382.5 512.3 L382.7 509.8 L382.6 508.8 L382.8 509.2 L383.2 507.6 L383.6 506.1 L384.2 504 L384 501 L384.3 499.7 L384.8 497.3 L384.9 496.7 L384.9 495.8 L385.7 495.7 L385.3 494 L386.2 491.1 L386.1 488.5 L386.6 487.9 L386.8 487.7 L386.9 485.5 L387.1 482.1 L387.3 480.4 L387.3 481.8 L387.8 477.6 L388.1 475.8 L388.6 474.9 L388.5 474.7 L389.4 471.2 L389.5 471.6 L389.5 469.6 L389.3 467.9 L390.1 466.4 L390.8 465 L390.9 464.9 L391.2 462.2 L391.2 461.7 L391.1 458 L391.3 457.2 L392.1 457 L392.8 453.6 L392.7 450.9 L393.3 450.6 L393 450.1 L393.2 446.3 L393.9 447.3 L393.8 443.4 L394.7 442.2 L395.1 439.7 L394.7 439.3 L395.6 437.3 L395.7 438.5 L396.2 437 L395.6 434.9 L395.9 432.7 L396.6 432.1 L397.4 428.3 L397.6 426.7 L398.6 427.8 L398.6 427.5 L399.5 424 L399.3 422.7 L400.3 422.5 L400.8 421.6 L401.5 418.6 L402.3 419.1 L402.4 416.1 L403.1 415.4 L404.1 414.1 L405 413 L405.6 410.3 L406.7 409.4 L406.8 405.6 L408.1 404 L408.8 405.2 L409.2 403.8 L409.8 401.7 L410.4 398.4 L410.6 398.3 L411.5 394.6 L412.2 393.5 L412.5 394 L413.6 392.4 L414.6 390.5 L415.7 389.8 L417.2 390.8 L419.5 389.5 L421 389.6 L421.8 391.3 L424.8 390.3 L427 391.8 L428 392 L430.2 388.9 L431.9 389.5 L432.2 390.3 L433.4 392.2 L434.3 392.3 L435.8 396.1 L437.2 396.4 L438.6 395.9 L439.3 396.5 L441.2 398.6 L442.5 399.2 L443.8 398.2 L446.3 401.7 L446.7 401.8 L448.4 402.3 L450 403.7 L451.4 404.9 L452.7 404.1 L454 405.8 L455.5 408.3 L456.8 409.1 L457.6 409.1 L459.3 408.5 L460.4 410.9 L461.9 411 L463.2 413 L464.5 413.6 L466.4 413.4 L467.4 414.5 L469 414.5 L469.9 415.5 L471.6 415.5 L473.3 417.3 L474.5 417.7 L475.3 418.2 L477.3 418 L479.1 420.2 L480 419.1 L481.1 420.7 L482.9 420.9 L484.2 421.8 L485.7 423.8 L487.1 424.7 L488.6 423.2 L490 425 L491.5 427 L492.4 427.1 L494 427 L495.5 428 L497.5 427.1 L499.1 427.1 L500.5 428.3 L502.4 426.5 L503.7 429.4 L505.2 427.5 L506.9 427.9 L508.6 430 L509.3 427.6 L510.9 428.3 L512.8 429 L515.6 427 L516 427 L517.7 426.9 L519.3 427.5 L521.1 429.3 L522.9 427.3 L524.2 426.2 L525.9 428.4 L527.9 425.8 L528.9 428 L531.1 427.4 L532.2 426.8 L533.9 427 L536.2 425.5 L537.1 426.8 L539.6 426.3 L540.5 425.4 L542.5 427.4 L543.6 425 L545.8 425.7 L546.8 425.3 L548.6 427.5 L549.9 427.1 L551.4 425.8 L553.2 427.6 L554.6 426.8 L556.1 427.5 L557.6 426.3 L558.5 424.6 L560.5 425.7 L561.9 427.8 L564.2 427.5 L565.8 425.7 L568.4 426.7 L570 426 L571 427.1 L573.1 426 L574.1 427 L575 425.9" fill="none" stroke="#000000" stroke-width="1.8" stroke-linejoin="round" stroke-linecap="round"/>
<path d="M374 568.2L374 573.4M371.4 570.8L376.6 570.8" stroke="#000000" stroke-width="1.1"/>
<path d="M374.2 567.1L374.2 572.3M371.6 569.7L376.8 569.7" stroke="#000000" stroke-width="1.1"/>
<path d="M375.4 563.1L375.4 568.3M372.8 565.7L378 565.7" stroke="#000000" stroke-width="1.1"/>
<path d="M375.6 556.8L375.6 562M373 559.4L378.2 559.4" stroke="#000000" stroke-width="1.1"/>
<path d="M376.5 553.7L376.5 558.9M373.9 556.3L379.1 556.3" stroke="#000000" stroke-width="1.1"/>
<path d="M377.4 547.4L377.4 552.6M374.8 550L380 550" stroke="#000000" stroke-width="1.1"/>
<path d="M378.3 543.5L378.3 548.7M375.7 546.1L380.9 546.1" stroke="#000000" stroke-width="1.1"/>
<path d="M378.6 540.9L378.6 546.1M376 543.5L381.2 543.5" stroke="#000000" stroke-width="1.1"/>
<path d="M379.6 536.2L379.6 541.4M377 538.8L382.2 538.8" stroke="#000000" stroke-width="1.1"/>
<path d="M379.8 532.3L379.8 537.5M377.2 534.9L382.4 534.9" stroke="#000000" stroke-width="1.1"/>
<path d="M381 528L381 533.2M378.4 530.6L383.6 530.6" stroke="#000000" stroke-width="1.1"/>
<path d="M380.7 523.1L380.7 528.3M378.1 525.7L383.3 525.7" stroke="#000000" stroke-width="1.1"/>
<path d="M381.2 517.7L381.2 522.9M378.6 520.3L383.8 520.3" stroke="#000000" stroke-width="1.1"/>
<path d="M382.1 516L382.1 521.2M379.5 518.6L384.7 518.6" stroke="#000000" stroke-width="1.1"/>
<path d="M382.8 512.3L382.8 517.5M380.2 514.9L385.4 514.9" stroke="#000000" stroke-width="1.1"/>
<path d="M382.7 506.3L382.7 511.5M380.1 508.9L385.3 508.9" stroke="#000000" stroke-width="1.1"/>
<path d="M383.6 503.6L383.6 508.8M381 506.2L386.2 506.2" stroke="#000000" stroke-width="1.1"/>
<path d="M384 499.2L384 504.4M381.4 501.8L386.6 501.8" stroke="#000000" stroke-width="1.1"/>
<path d="M384.9 493.2L384.9 498.4M382.3 495.8L387.5 495.8" stroke="#000000" stroke-width="1.1"/>
<path d="M386.2 489.3L386.2 494.5M383.6 491.9L388.8 491.9" stroke="#000000" stroke-width="1.1"/>
<path d="M386.9 483L386.9 488.2M384.3 485.6L389.5 485.6" stroke="#000000" stroke-width="1.1"/>
<path d="M387.3 478.8L387.3 484M384.7 481.4L389.9 481.4" stroke="#000000" stroke-width="1.1"/>
<path d="M387.8 475.4L387.8 480.6M385.2 478L390.4 478" stroke="#000000" stroke-width="1.1"/>
<path d="M389.4 469L389.4 474.2M386.8 471.6L392 471.6" stroke="#000000" stroke-width="1.1"/>
<path d="M389.3 465.8L389.3 471M386.7 468.4L391.9 468.4" stroke="#000000" stroke-width="1.1"/>
<path d="M391.2 459.5L391.2 464.7M388.6 462.1L393.8 462.1" stroke="#000000" stroke-width="1.1"/>
<path d="M391.1 454.7L391.1 459.9M388.5 457.3L393.7 457.3" stroke="#000000" stroke-width="1.1"/>
<path d="M392.8 451.7L392.8 456.9M390.2 454.3L395.4 454.3" stroke="#000000" stroke-width="1.1"/>
<path d="M393.2 444.5L393.2 449.7M390.6 447.1L395.8 447.1" stroke="#000000" stroke-width="1.1"/>
<path d="M393.8 441.3L393.8 446.5M391.2 443.9L396.4 443.9" stroke="#000000" stroke-width="1.1"/>
<path d="M395.1 436.5L395.1 441.7M392.5 439.1L397.7 439.1" stroke="#000000" stroke-width="1.1"/>
<path d="M395.7 435.9L395.7 441.1M393.1 438.5L398.3 438.5" stroke="#000000" stroke-width="1.1"/>
<path d="M395.9 430.1L395.9 435.3M393.3 432.7L398.5 432.7" stroke="#000000" stroke-width="1.1"/>
<path d="M397.4 425.4L397.4 430.6M394.8 428L400 428" stroke="#000000" stroke-width="1.1"/>
<path d="M399.5 421.4L399.5 426.6M396.9 424L402.1 424" stroke="#000000" stroke-width="1.1"/>
<path d="M401.5 415.9L401.5 421.1M398.9 418.5L404.1 418.5" stroke="#000000" stroke-width="1.1"/>
<path d="M403.1 413.7L403.1 418.9M400.5 416.3L405.7 416.3" stroke="#000000" stroke-width="1.1"/>
<path d="M405.6 408L405.6 413.2M403 410.6L408.2 410.6" stroke="#000000" stroke-width="1.1"/>
<path d="M406.8 404L406.8 409.2M404.2 406.6L409.4 406.6" stroke="#000000" stroke-width="1.1"/>
<path d="M409.2 402L409.2 407.2M406.6 404.6L411.8 404.6" stroke="#000000" stroke-width="1.1"/>
<path d="M410.4 395.1L410.4 400.3M407.8 397.7L413 397.7" stroke="#000000" stroke-width="1.1"/>
<path d="M412.2 391.4L412.2 396.6M409.6 394L414.8 394" stroke="#000000" stroke-width="1.1"/>
<path d="M414.6 387.6L414.6 392.8M412 390.2L417.2 390.2" stroke="#000000" stroke-width="1.1"/>
<path d="M419.5 387.1L419.5 392.3M416.9 389.7L422.1 389.7" stroke="#000000" stroke-width="1.1"/>
<path d="M424.8 387.8L424.8 393M422.2 390.4L427.4 390.4" stroke="#000000" stroke-width="1.1"/>
<path d="M430.2 386.8L430.2 392M427.6 389.4L432.8 389.4" stroke="#000000" stroke-width="1.1"/>
<path d="M433.4 389.2L433.4 394.4M430.8 391.8L436 391.8" stroke="#000000" stroke-width="1.1"/>
<path d="M435.8 393.8L435.8 399M433.2 396.4L438.4 396.4" stroke="#000000" stroke-width="1.1"/>
<path d="M441.2 395.8L441.2 401M438.6 398.4L443.8 398.4" stroke="#000000" stroke-width="1.1"/>
<path d="M446.3 399.6L446.3 404.8M443.7 402.2L448.9 402.2" stroke="#000000" stroke-width="1.1"/>
<path d="M450 401.1L450 406.3M447.4 403.7L452.6 403.7" stroke="#000000" stroke-width="1.1"/>
<path d="M454 403.5L454 408.7M451.4 406.1L456.6 406.1" stroke="#000000" stroke-width="1.1"/>
<path d="M456.8 407.4L456.8 412.6M454.2 410L459.4 410" stroke="#000000" stroke-width="1.1"/>
<path d="M460.4 407.8L460.4 413M457.8 410.4L463 410.4" stroke="#000000" stroke-width="1.1"/>
<path d="M464.5 410L464.5 415.2M461.9 412.6L467.1 412.6" stroke="#000000" stroke-width="1.1"/>
<path d="M469 412.7L469 417.9M466.4 415.3L471.6 415.3" stroke="#000000" stroke-width="1.1"/>
<path d="M473.3 414.7L473.3 419.9M470.7 417.3L475.9 417.3" stroke="#000000" stroke-width="1.1"/>
<path d="M477.3 415.7L477.3 420.9M474.7 418.3L479.9 418.3" stroke="#000000" stroke-width="1.1"/>
<path d="M480 417.1L480 422.3M477.4 419.7L482.6 419.7" stroke="#000000" stroke-width="1.1"/>
<path d="M484.2 420L484.2 425.2M481.6 422.6L486.8 422.6" stroke="#000000" stroke-width="1.1"/>
<path d="M487.1 421.9L487.1 427.1M484.5 424.5L489.7 424.5" stroke="#000000" stroke-width="1.1"/>
<path d="M490 423.4L490 428.6M487.4 426L492.6 426" stroke="#000000" stroke-width="1.1"/>
<path d="M494 424.2L494 429.4M491.4 426.8L496.6 426.8" stroke="#000000" stroke-width="1.1"/>
<path d="M499.1 425L499.1 430.2M496.5 427.6L501.7 427.6" stroke="#000000" stroke-width="1.1"/>
<path d="M502.4 424.5L502.4 429.7M499.8 427.1L505 427.1" stroke="#000000" stroke-width="1.1"/>
<path d="M505.2 424.7L505.2 429.9M502.6 427.3L507.8 427.3" stroke="#000000" stroke-width="1.1"/>
<path d="M508.6 427.2L508.6 432.4M506 429.8L511.2 429.8" stroke="#000000" stroke-width="1.1"/>
<path d="M510.9 425.4L510.9 430.6M508.3 428L513.5 428" stroke="#000000" stroke-width="1.1"/>
<path d="M515.6 424L515.6 429.2M513 426.6L518.2 426.6" stroke="#000000" stroke-width="1.1"/>
<path d="M521.1 426.5L521.1 431.7M518.5 429.1L523.7 429.1" stroke="#000000" stroke-width="1.1"/>
<path d="M524.2 424.3L524.2 429.5M521.6 426.9L526.8 426.9" stroke="#000000" stroke-width="1.1"/>
<path d="M527.9 422.3L527.9 427.5M525.3 424.9L530.5 424.9" stroke="#000000" stroke-width="1.1"/>
<path d="M531.1 425.8L531.1 431M528.5 428.4L533.7 428.4" stroke="#000000" stroke-width="1.1"/>
<path d="M536.2 423.5L536.2 428.7M533.6 426.1L538.8 426.1" stroke="#000000" stroke-width="1.1"/>
<path d="M539.6 423.8L539.6 429M537 426.4L542.2 426.4" stroke="#000000" stroke-width="1.1"/>
<path d="M542.5 425.1L542.5 430.3M539.9 427.7L545.1 427.7" stroke="#000000" stroke-width="1.1"/>
<path d="M545.8 422.7L545.8 427.9M543.2 425.3L548.4 425.3" stroke="#000000" stroke-width="1.1"/>
<path d="M549.9 425.1L549.9 430.3M547.3 427.7L552.5 427.7" stroke="#000000" stroke-width="1.1"/>
<path d="M553.2 425.7L553.2 430.9M550.6 428.3L555.8 428.3" stroke="#000000" stroke-width="1.1"/>
<path d="M557.6 423.4L557.6 428.6M555 426L560.2 426" stroke="#000000" stroke-width="1.1"/>
<path d="M560.5 423.1L560.5 428.3M557.9 425.7L563.1 425.7" stroke="#000000" stroke-width="1.1"/>
<path d="M564.2 424.4L564.2 429.6M561.6 427L566.8 427" stroke="#000000" stroke-width="1.1"/>
<path d="M568.4 423.6L568.4 428.8M565.8 426.2L571 426.2" stroke="#000000" stroke-width="1.1"/>
<path d="M573.1 424.1L573.1 429.3M570.5 426.7L575.7 426.7" stroke="#000000" stroke-width="1.1"/>
<g stroke="#000" stroke-width="1.6" fill="none" stroke-linecap="square">
<path d="M373.5 381.8L583.8 381.8L583.8 576.2L373.5 576.2Z"/>
</g>
<g stroke="#000" stroke-width="1.2" fill="none">
<path d="M381.9 576.2L381.9 571.2M381.9 381.8L381.9 386.8"/>
<path d="M390.3 576.2L390.3 571.2M390.3 381.8L390.3 386.8"/>
<path d="M398.7 576.2L398.7 571.2M398.7 381.8L398.7 386.8"/>
<path d="M407.1 576.2L407.1 571.2M407.1 381.8L407.1 386.8"/>
<path d="M415.6 576.2L415.6 567.7M415.6 381.8L415.6 390.3"/>
<path d="M424 576.2L424 571.2M424 381.8L424 386.8"/>
<path d="M432.4 576.2L432.4 571.2M432.4 381.8L432.4 386.8"/>
<path d="M440.8 576.2L440.8 571.2M440.8 381.8L440.8 386.8"/>
<path d="M449.2 576.2L449.2 571.2M449.2 381.8L449.2 386.8"/>
<path d="M457.6 576.2L457.6 567.7M457.6 381.8L457.6 390.3"/>
<path d="M466 576.2L466 571.2M466 381.8L466 386.8"/>
<path d="M474.4 576.2L474.4 571.2M474.4 381.8L474.4 386.8"/>
<path d="M482.9 576.2L482.9 571.2M482.9 381.8L482.9 386.8"/>
<path d="M491.3 576.2L491.3 571.2M491.3 381.8L491.3 386.8"/>
<path d="M499.7 576.2L499.7 567.7M499.7 381.8L499.7 390.3"/>
<path d="M508.1 576.2L508.1 571.2M508.1 381.8L508.1 386.8"/>
<path d="M516.5 576.2L516.5 571.2M516.5 381.8L516.5 386.8"/>
<path d="M524.9 576.2L524.9 571.2M524.9 381.8L524.9 386.8"/>
<path d="M533.3 576.2L533.3 571.2M533.3 381.8L533.3 386.8"/>
<path d="M541.7 576.2L541.7 567.7M541.7 381.8L541.7 390.3"/>
<path d="M550.2 576.2L550.2 571.2M550.2 381.8L550.2 386.8"/>
<path d="M558.6 576.2L558.6 571.2M558.6 381.8L558.6 386.8"/>
<path d="M567 576.2L567 571.2M567 381.8L567 386.8"/>
<path d="M575.4 576.2L575.4 571.2M575.4 381.8L575.4 386.8"/>
<path d="M373.5 566.9L378.5 566.9M583.8 566.9L578.8 566.9"/>
<path d="M373.5 557.6L378.5 557.6M583.8 557.6L578.8 557.6"/>
<path d="M373.5 548.3L378.5 548.3M583.8 548.3L578.8 548.3"/>
<path d="M373.5 539L378.5 539M583.8 539L578.8 539"/>
<path d="M373.5 529.7L382 529.7M583.8 529.7L575.3 529.7"/>
<path d="M373.5 520.4L378.5 520.4M583.8 520.4L578.8 520.4"/>
<path d="M373.5 511.1L378.5 511.1M583.8 511.1L578.8 511.1"/>
<path d="M373.5 501.8L378.5 501.8M583.8 501.8L578.8 501.8"/>
<path d="M373.5 492.5L378.5 492.5M583.8 492.5L578.8 492.5"/>
<path d="M373.5 483.2L382 483.2M583.8 483.2L575.3 483.2"/>
<path d="M373.5 473.9L378.5 473.9M583.8 473.9L578.8 473.9"/>
<path d="M373.5 464.6L378.5 464.6M583.8 464.6L578.8 464.6"/>
<path d="M373.5 455.3L378.5 455.3M583.8 455.3L578.8 455.3"/>
<path d="M373.5 446L378.5 446M583.8 446L578.8 446"/>
<path d="M373.5 436.7L382 436.7M583.8 436.7L575.3 436.7"/>
<path d="M373.5 427.4L378.5 427.4M583.8 427.4L578.8 427.4"/>
<path d="M373.5 418.1L378.5 418.1M583.8 418.1L578.8 418.1"/>
<path d="M373.5 408.8L378.5 408.8M583.8 408.8L578.8 408.8"/>
<path d="M373.5 399.5L378.5 399.5M583.8 399.5L578.8 399.5"/>
<path d="M373.5 390.2L382 390.2M583.8 390.2L575.3 390.2"/>
</g>
<path d="M322 341L365.3 341" stroke="#000000" stroke-width="1.6"/>
<text x="370.3" y="345.3" font-family="Liberation Sans, Arial, sans-serif" font-size="12" fill="#000000">1.3e-3 s<tspan font-size="9.8" dy="-4.6" dx="0.5">-1</tspan></text>
<path d="M322 355.8L365.3 355.8" stroke="#2040ff" stroke-width="1.6"/>
<text x="370.3" y="360.1" font-family="Liberation Sans, Arial, sans-serif" font-size="12" fill="#2040ff">1.3e-2 s<tspan font-size="9.8" dy="-4.6" dx="0.5">-1</tspan></text>
<path d="M322 370.7L365.3 370.7" stroke="#ff1a1a" stroke-width="1.6"/>
<text x="370.3" y="375" font-family="Liberation Sans, Arial, sans-serif" font-size="12" fill="#ff1a1a">1.3e-1 s<tspan font-size="9.8" dy="-4.6" dx="0.5">-1</tspan></text>
<path d="M423.1 341L467.9 341" stroke="#30a024" stroke-width="1.6"/>
<text x="471" y="345.3" font-family="Liberation Sans, Arial, sans-serif" font-size="12" fill="#30a024">1.4 s<tspan font-size="9.8" dy="-4.6" dx="0.5">-1</tspan></text>
<path d="M423.1 355.8L467.9 355.8" stroke="#000000" stroke-width="1.6"/>
<path d="M442.7 353L448.3 358.6M442.7 358.6L448.3 353" stroke="#000000" stroke-width="1.2" fill="none"/>
<text x="471" y="360.1" font-family="Liberation Sans, Arial, sans-serif" font-size="12" fill="#000000">15 s<tspan font-size="9.8" dy="-4.6" dx="0.5">-1</tspan></text>
<path d="M423.1 370.7L467.9 370.7" stroke="#2040ff" stroke-width="1.6"/>
<path d="M442.7 367.9L448.3 373.5M442.7 373.5L448.3 367.9" stroke="#2040ff" stroke-width="1.2" fill="none"/>
<text x="471" y="375" font-family="Liberation Sans, Arial, sans-serif" font-size="12" fill="#2040ff">134 s<tspan font-size="9.8" dy="-4.6" dx="0.5">-1</tspan></text>
<path d="M509.7 341L555 341" stroke="#ff1a1a" stroke-width="1.6"/>
<path d="M529.6 338.2L535.1 343.8M529.6 343.8L535.1 338.2" stroke="#ff1a1a" stroke-width="1.2" fill="none"/>
<text x="558.5" y="345.3" font-family="Liberation Sans, Arial, sans-serif" font-size="12" fill="#ff1a1a">1.3e3 s<tspan font-size="9.8" dy="-4.6" dx="0.5">-1</tspan></text>
<path d="M509.7 355.8L555 355.8" stroke="#30a024" stroke-width="1.6"/>
<path d="M529.6 353L535.1 358.6M529.6 358.6L535.1 353" stroke="#30a024" stroke-width="1.2" fill="none"/>
<text x="558.5" y="360.1" font-family="Liberation Sans, Arial, sans-serif" font-size="12" fill="#30a024">3.9e3 s<tspan font-size="9.8" dy="-4.6" dx="0.5">-1</tspan></text>
<path d="M509.7 370.7L555 370.7" stroke="#000000" stroke-width="1.6"/>
<path d="M532.4 367.9L532.4 373.5M529.6 370.7L535.1 370.7" stroke="#000000" stroke-width="1.1"/>
<text x="558.5" y="375" font-family="Liberation Sans, Arial, sans-serif" font-size="12" fill="#000000">1.4e4 s<tspan font-size="9.8" dy="-4.6" dx="0.5">-1</tspan></text>
<g font-family="Liberation Sans, Arial, sans-serif" font-size="12" fill="#000">
<text x="371.2" y="591.7" text-anchor="middle">0</text>
<text x="413.3" y="591.7" text-anchor="middle">0.1</text>
<text x="455.3" y="591.7" text-anchor="middle">0.2</text>
<text x="497.4" y="591.7" text-anchor="middle">0.3</text>
<text x="539.4" y="591.7" text-anchor="middle">0.4</text>
<text x="581.5" y="591.7" text-anchor="middle">0.5</text>
<text x="366.3" y="579" text-anchor="end">0</text>
<text x="366.3" y="532.5" text-anchor="end">50</text>
<text x="366.3" y="486" text-anchor="end">100</text>
<text x="366.3" y="439.5" text-anchor="end">150</text>
<text x="366.3" y="393" text-anchor="end">200</text>
</g>
<text x="477.7" y="612.9" text-anchor="middle" font-family="Liberation Sans, Arial, sans-serif" font-weight="bold" font-size="14.2">True Strain</text>
<text x="0" y="0" transform="translate(338.8 484.8) rotate(-90)" text-anchor="middle" font-family="Liberation Sans, Arial, sans-serif" font-weight="bold" font-size="14.2">True Stress (MPa)</text>
<text x="310.3" y="331" font-family="Liberation Serif, Times New Roman, serif" font-weight="bold" font-size="18">(d)</text>
</svg>
</body></html>
